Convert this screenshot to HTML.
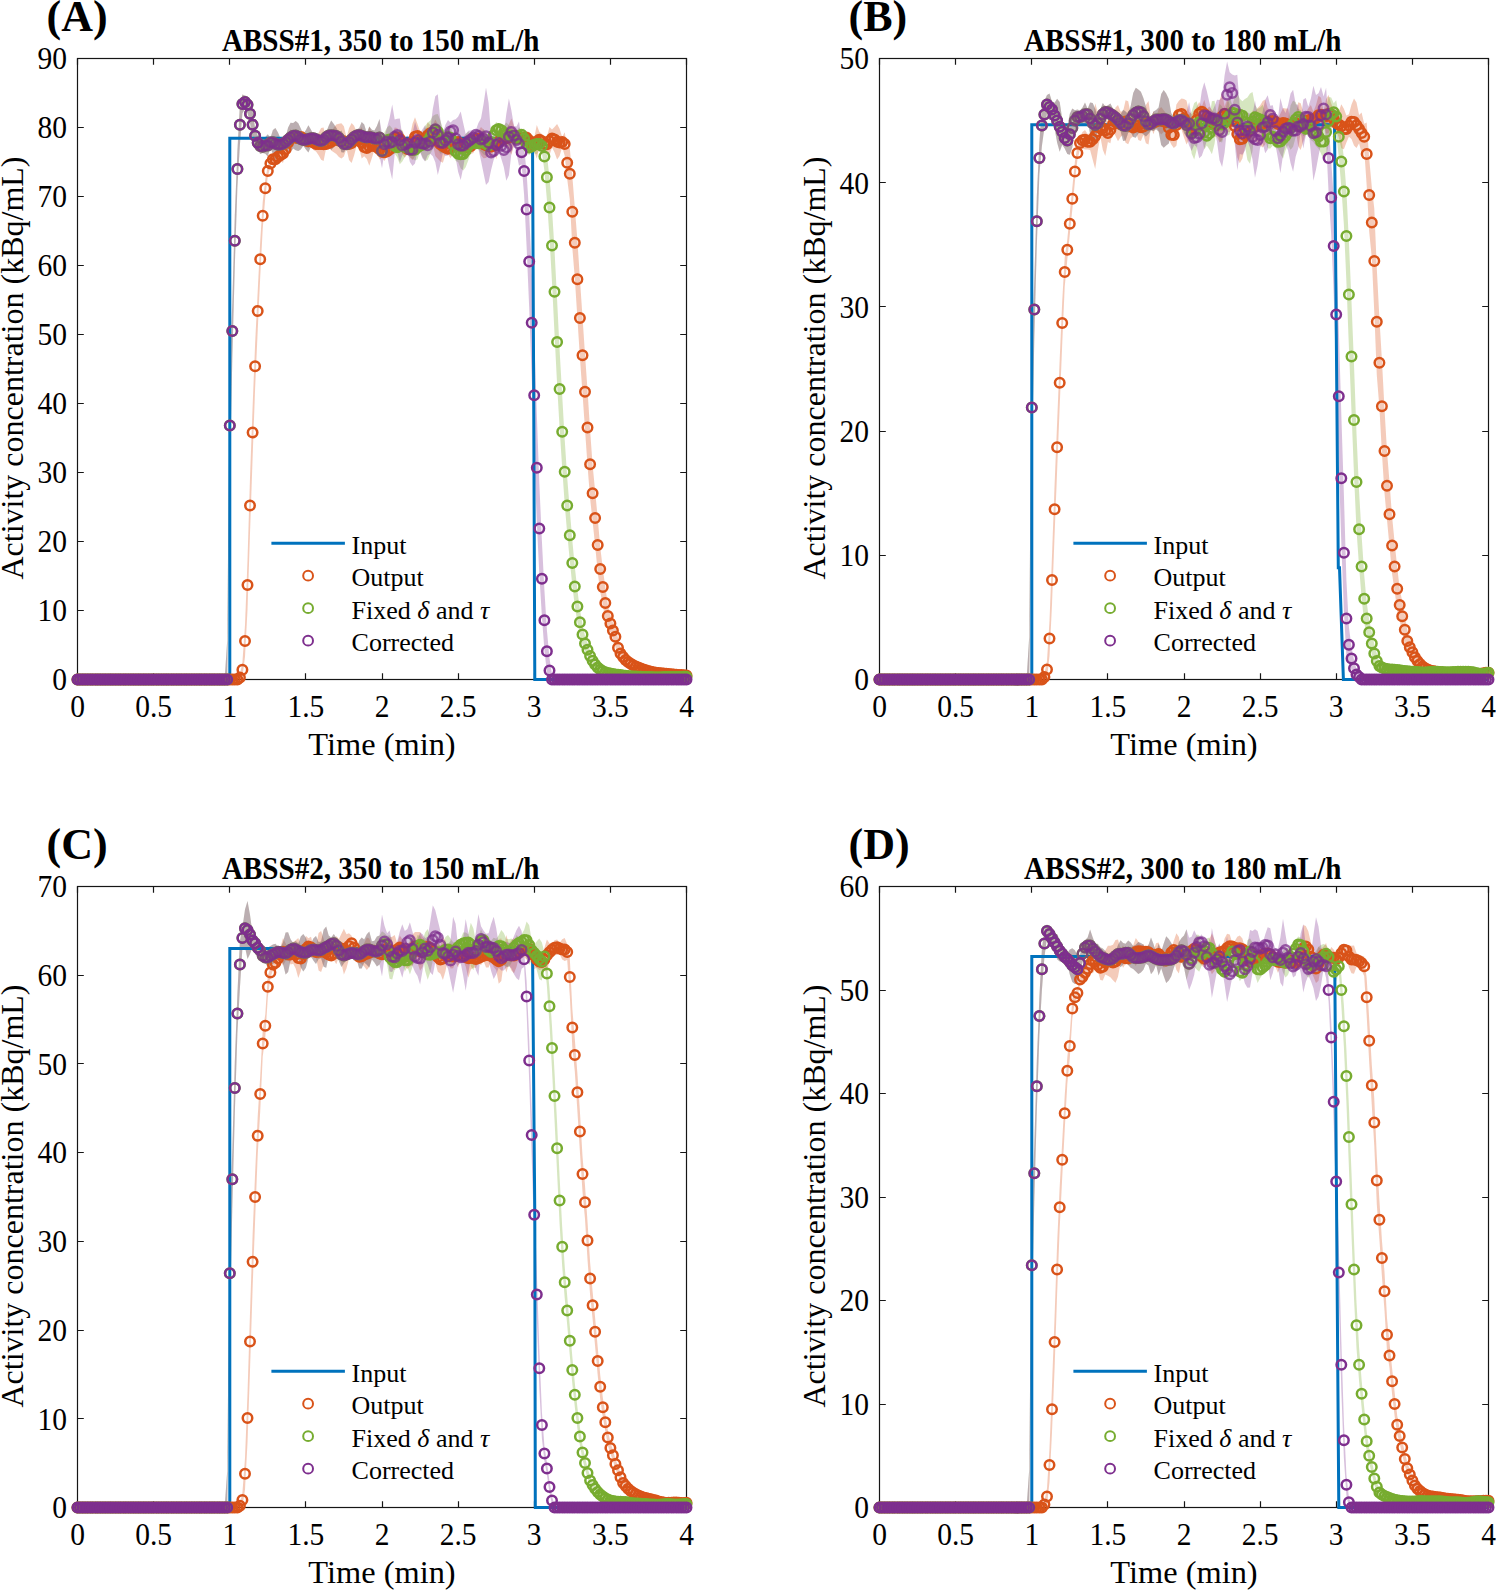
<!DOCTYPE html>
<html><head><meta charset="utf-8"><title>Figure</title>
<style>html,body{margin:0;padding:0;background:#fff;}svg{display:block;}</style>
</head><body>
<svg width="1496" height="1591" viewBox="0 0 1496 1591">
<rect width="1496" height="1591" fill="#fff"/>
<rect x="77.5" y="58.5" width="609" height="621" fill="none" stroke="#161616" stroke-width="1.2"/>
<path d="M77.5,679.5v-6.3M77.5,58.5v6.3M153.5,679.5v-6.3M153.5,58.5v6.3M229.5,679.5v-6.3M229.5,58.5v6.3M305.5,679.5v-6.3M305.5,58.5v6.3M382.5,679.5v-6.3M382.5,58.5v6.3M458.5,679.5v-6.3M458.5,58.5v6.3M534.5,679.5v-6.3M534.5,58.5v6.3M610.5,679.5v-6.3M610.5,58.5v6.3M686.5,679.5v-6.3M686.5,58.5v6.3M77.5,679.5h6.3M686.5,679.5h-6.3M77.5,610.5h6.3M686.5,610.5h-6.3M77.5,541.5h6.3M686.5,541.5h-6.3M77.5,472.5h6.3M686.5,472.5h-6.3M77.5,403.5h6.3M686.5,403.5h-6.3M77.5,334.5h6.3M686.5,334.5h-6.3M77.5,265.5h6.3M686.5,265.5h-6.3M77.5,196.5h6.3M686.5,196.5h-6.3M77.5,127.5h6.3M686.5,127.5h-6.3M77.5,58.5h6.3M686.5,58.5h-6.3" stroke="#161616" stroke-width="1.2" fill="none"/>
<g>
<polygon points="77.5,678.5 80,678.5 82.6,678.5 85.1,678.5 87.7,678.5 90.2,678.5 92.7,678.5 95.3,678.5 97.8,678.5 100.3,678.5 102.9,678.5 105.4,678.5 108,678.5 110.5,678.5 113,678.5 115.6,678.5 118.1,678.5 120.6,678.5 123.2,678.5 125.7,678.5 128.2,678.5 130.8,678.5 133.3,678.5 135.9,678.5 138.4,678.5 140.9,678.5 143.5,678.5 146,678.5 148.6,678.5 151.1,678.5 153.6,678.5 156.2,678.5 158.7,678.5 161.2,678.5 163.8,678.5 166.3,678.5 168.8,678.5 171.4,678.5 173.9,678.5 176.5,678.5 179,678.5 181.5,678.5 184.1,678.5 186.6,678.5 189.1,678.5 191.7,678.5 194.2,678.5 196.8,678.5 199.3,678.5 201.8,678.5 204.4,678.5 206.9,678.5 209.5,678.5 212,678.5 214.5,678.5 217.1,678.5 219.6,678.5 222.1,678.5 224.7,678.5 227.2,678.5 229.8,678.5 232.3,678.5 234.8,678.5 237.4,678.1 239.9,674.7 242.4,662.4 245,625 247.5,560.3 250,477.9 252.6,407.1 255.1,344 257.7,291.3 260.2,241.6 262.7,202.3 265.3,179.3 267.8,165.6 270.4,160.3 272.9,157.5 275.4,151.1 278,152.6 280.5,148.8 283,143.9 285.6,144.5 288.1,136.5 290.6,129.1 293.2,133.7 295.7,132.6 298.3,132.6 300.8,133.5 303.3,131.1 305.9,134.1 308.4,134.6 311,137.5 313.5,135 316,136.5 318.6,132.8 321.1,128.1 323.6,127.6 326.2,140 328.7,139.6 331.2,132.8 333.8,127.4 336.3,124.6 338.9,123.8 341.4,123.3 343.9,126.3 346.5,137.5 349,128.3 351.6,122.9 354.1,125.7 356.6,131.9 359.2,130.2 361.7,126.9 364.2,137.6 366.8,136.8 369.3,126.5 371.9,133.1 374.4,142.6 376.9,142.2 379.5,139.1 382,146 384.5,143.3 387.1,146.2 389.6,142.1 392.2,134.5 394.7,127.4 397.2,127.9 399.8,132 402.3,130.6 404.8,136.2 407.4,143.7 409.9,136.4 412.5,123.7 415,117.3 417.5,123.9 420.1,131.5 422.6,137.7 425.1,130.6 427.7,122.5 430.2,125 432.8,125.3 435.3,119.6 437.8,124.3 440.4,127 442.9,129.3 445.4,140.5 448,143.2 450.5,138.2 453.1,136.8 455.6,136.3 458.1,137.5 460.7,138.4 463.2,141.1 465.7,140.8 468.3,137.4 470.8,137.8 473.4,132.6 475.9,132 478.4,130.7 481,126.9 483.5,129.6 486,132.6 488.6,136.2 491.1,135.9 493.7,141.2 496.2,128.5 498.7,133.1 501.3,130.4 503.8,131.4 506.3,129.3 508.9,124.2 511.4,118.6 514,126 516.5,132.2 519,132.5 521.6,130.2 524.1,131.5 526.6,131 529.2,131.9 531.7,134.4 534.2,137.7 536.8,125 539.3,131.8 541.9,133.9 544.4,136 546.9,136.7 549.5,127.1 552,129.6 554.5,127 557.1,124 559.6,128.7 562.2,137 564.7,132.3 567.2,146.5 569.8,147.9 572.3,175.8 574.8,207.5 577.4,240.3 579.9,278.6 582.5,316.9 585,354.2 587.5,390 590.1,430.1 592.6,464.9 595.1,490.8 597.7,518 600.2,546.7 602.8,568.8 605.3,587 607.8,604.3 610.4,615 612.9,622.6 615.4,626.7 618,638 620.5,647.5 623.1,652.5 625.6,656 628.1,658.7 630.7,660.8 633.2,662.5 635.8,663.9 638.3,665.1 640.8,666.1 643.4,667.1 645.9,668.1 648.4,668.9 651,669.7 653.5,670.3 656,670.9 658.6,671.4 661.1,671.7 663.7,672 666.2,672.1 668.7,672.3 671.3,672.6 673.8,672.9 676.4,673.3 678.9,673.5 681.4,673.6 684,673.7 686.5,674 686.5,677.2 684,676.9 681.4,676.7 678.9,676.5 676.4,676.4 673.8,676.3 671.3,676 668.7,675.6 666.2,675.3 663.7,675.1 661.1,674.9 658.6,674.8 656,674.5 653.5,674.1 651,673.7 648.4,673.1 645.9,672.5 643.4,671.7 640.8,670.8 638.3,669.9 635.8,668.9 633.2,667.9 630.7,666.7 628.1,665.4 625.6,663.7 623.1,661.6 620.5,659.5 618,657.5 615.4,646.7 612.9,638.4 610.4,632.2 607.8,627.8 605.3,618.8 602.8,605.3 600.2,591.5 597.7,571.9 595.1,545.3 592.6,521.5 590.1,498.4 587.5,465.3 585,429.4 582.5,393.5 579.9,357.3 577.4,318.3 574.8,277.9 572.3,247.6 569.8,199.6 567.2,178.9 564.7,155.8 562.2,147 559.6,156 557.1,159.4 554.5,152.2 552,147.6 549.5,155 546.9,151.7 544.4,152 541.9,148.6 539.3,147.5 536.8,158.5 534.2,151.5 531.7,153.8 529.2,149.4 526.6,144.6 524.1,144 521.6,146.6 519,142.5 516.5,139.8 514,145.7 511.4,154.8 508.9,150.4 506.3,146.5 503.8,146.4 501.3,149.4 498.7,149.9 496.2,159.2 493.7,150.4 491.1,157.2 488.6,155.8 486,157.9 483.5,158.2 481,155.3 478.4,146.9 475.9,146.8 473.4,152.9 470.8,154 468.3,156.7 465.7,153.1 463.2,150.8 460.7,149.3 458.1,146.6 455.6,148.5 453.1,153.9 450.5,158.2 448,154.2 445.4,154.3 442.9,162.7 440.4,161.5 437.8,158.8 435.3,156 432.8,143.4 430.2,141.5 427.7,148.8 425.1,149.8 422.6,147.3 420.1,148 417.5,147.9 415,156.2 412.5,160.2 409.9,157.4 407.4,154.1 404.8,157.7 402.3,154.6 399.8,146 397.2,147.3 394.7,151.5 392.2,154.8 389.6,156.4 387.1,156.3 384.5,161.1 382,157.5 379.5,159.5 376.9,151.9 374.4,149.7 371.9,157.9 369.3,165.8 366.8,159 364.2,156.2 361.7,158.6 359.2,148.5 356.6,145.7 354.1,155.4 351.6,162.9 349,159.9 346.5,148.6 343.9,156.4 341.4,158.5 338.9,157 336.3,153.9 333.8,152.3 331.2,150.6 328.7,146.5 326.2,148 323.6,160.9 321.1,159.8 318.6,155.3 316,151.4 313.5,150.1 311,145.2 308.4,148 305.9,146.9 303.3,145.6 300.8,140.8 298.3,143.3 295.7,143 293.2,140.6 290.6,147.5 288.1,149.2 285.6,153.9 283,163 280.5,161.1 278,161 275.4,167.4 272.9,161 270.4,166.5 267.8,176.4 265.3,197.1 262.7,229.3 260.2,277 257.7,330.8 255.1,388.5 252.6,457.9 250,533.3 247.5,609.7 245,656.7 242.4,677.3 239.9,680.2 237.4,680.9 234.8,680.5 232.3,680.5 229.8,680.5 227.2,680.5 224.7,680.5 222.1,680.5 219.6,680.5 217.1,680.5 214.5,680.5 212,680.5 209.5,680.5 206.9,680.5 204.4,680.5 201.8,680.5 199.3,680.5 196.8,680.5 194.2,680.5 191.7,680.5 189.1,680.5 186.6,680.5 184.1,680.5 181.5,680.5 179,680.5 176.5,680.5 173.9,680.5 171.4,680.5 168.8,680.5 166.3,680.5 163.8,680.5 161.2,680.5 158.7,680.5 156.2,680.5 153.6,680.5 151.1,680.5 148.6,680.5 146,680.5 143.5,680.5 140.9,680.5 138.4,680.5 135.9,680.5 133.3,680.5 130.8,680.5 128.2,680.5 125.7,680.5 123.2,680.5 120.6,680.5 118.1,680.5 115.6,680.5 113,680.5 110.5,680.5 108,680.5 105.4,680.5 102.9,680.5 100.3,680.5 97.8,680.5 95.3,680.5 92.7,680.5 90.2,680.5 87.7,680.5 85.1,680.5 82.6,680.5 80,680.5 77.5,680.5" fill="#D95319" fill-opacity="0.3" stroke="none"/>
<polygon points="77.5,678.5 80,678.5 82.6,678.5 85.1,678.5 87.7,678.5 90.2,678.5 92.7,678.5 95.3,678.5 97.8,678.5 100.3,678.5 102.9,678.5 105.4,678.5 108,678.5 110.5,678.5 113,678.5 115.6,678.5 118.1,678.5 120.6,678.5 123.2,678.5 125.7,678.5 128.2,678.5 130.8,678.5 133.3,678.5 135.9,678.5 138.4,678.5 140.9,678.5 143.5,678.5 146,678.5 148.6,678.5 151.1,678.5 153.6,678.5 156.2,678.5 158.7,678.5 161.2,678.5 163.8,678.5 166.3,678.5 168.8,678.5 171.4,678.5 173.9,678.5 176.5,678.5 179,678.5 181.5,678.5 184.1,678.5 186.6,678.5 189.1,678.5 191.7,678.5 194.2,678.5 196.8,678.5 199.3,678.5 201.8,678.5 204.4,678.5 206.9,678.5 209.5,678.5 212,678.5 214.5,678.5 217.1,678.5 219.6,678.5 222.1,678.5 224.7,678.5 227.2,640.4 229.8,372.3 232.3,302.3 234.8,215.3 237.4,150.5 239.9,104.8 242.4,94.5 245,95.6 247.5,96.4 250,104.3 252.6,110.9 255.1,128 257.7,135.6 260.2,138.3 262.7,140.7 265.3,137.1 267.8,134.3 270.4,137.9 272.9,130 275.4,128 278,132.5 280.5,138.6 283,138.9 285.6,137.2 288.1,127.6 290.6,122.7 293.2,123 295.7,120.9 298.3,123.2 300.8,128.5 303.3,134.1 305.9,129.9 308.4,125.3 311,129.8 313.5,134.2 316,135.4 318.6,136.2 321.1,136.4 323.6,131.7 326.2,132.2 328.7,125.7 331.2,120.5 333.8,124 336.3,127.7 338.9,132.6 341.4,130.6 343.9,135.7 346.5,140.4 349,135.6 351.6,133.6 354.1,131.1 356.6,129.4 359.2,127.9 361.7,122.1 364.2,124.5 366.8,132.9 369.3,126.6 371.9,129.7 374.4,130.4 376.9,125.9 379.5,119 382,144.5 384.5,132 387.1,127.5 389.6,125.2 392.2,128.2 394.7,137.6 397.2,137.2 399.8,128.4 402.3,130.6 404.8,136.9 407.4,141.3 409.9,140 412.5,141 415,138.9 417.5,135.2 420.1,139.9 422.6,132.4 425.1,125.8 427.7,122.4 430.2,120.7 432.8,116 435.3,114.4 437.8,113.9 440.4,120.5 442.9,129.2 445.4,130.8 448,127.5 450.5,125.9 453.1,135 455.6,141.4 458.1,145.3 460.7,140 463.2,137.3 465.7,133.9 468.3,131.7 470.8,133.9 473.4,139.1 475.9,138.2 478.4,137.6 481,132.6 483.5,129.1 486,132.4 488.6,140.3 491.1,132.1 493.7,125.2 496.2,122 498.7,124.1 501.3,123.7 503.8,125.6 506.3,122.6 508.9,125 511.4,127.6 514,130.1 516.5,131 519,127.2 521.6,129.5 524.1,128.4 526.6,136.4 529.2,139.7 531.7,140.9 534.2,136.3 536.8,133.9 539.3,137.9 541.9,139.8 544.4,142.2 546.9,154.4 549.5,177.5 552,208.7 554.5,249.6 557.1,299.7 559.6,349.9 562.2,395.6 564.7,439.4 567.2,477.6 569.8,509.9 572.3,540.2 574.8,566.8 577.4,590.1 579.9,609.2 582.5,624.5 585,636.1 587.5,643.5 590.1,650.3 592.6,656.1 595.1,660.5 597.7,664.1 600.2,666.9 602.8,669 605.3,670.5 607.8,671.5 610.4,672.1 612.9,672.6 615.4,673 618,673.4 620.5,673.8 623.1,674.1 625.6,674.5 628.1,674.8 630.7,675 633.2,675.3 635.8,675.5 638.3,675.6 640.8,675.7 643.4,675.8 645.9,675.9 648.4,676 651,676.1 653.5,676.1 656,676.1 658.6,676.1 661.1,676.1 663.7,676 666.2,675.9 668.7,675.9 671.3,675.9 673.8,675.9 676.4,676 678.9,675.9 681.4,675.7 684,675.6 686.5,675.6 686.5,677.8 684,677.9 681.4,678 678.9,678.1 676.4,678.1 673.8,678.1 671.3,678 668.7,678 666.2,678.1 663.7,678.2 661.1,678.2 658.6,678.2 656,678.2 653.5,678.2 651,678.2 648.4,678.2 645.9,678.1 643.4,678 640.8,678 638.3,677.9 635.8,677.8 633.2,677.7 630.7,677.5 628.1,677.3 625.6,677 623.1,676.7 620.5,676.4 618,676.1 615.4,675.7 612.9,675.4 610.4,675 607.8,674.6 605.3,674.1 602.8,673.4 600.2,672.3 597.7,670.6 595.1,668.3 592.6,665.3 590.1,661.6 587.5,656.1 585,651.1 582.5,644.8 579.9,635.3 577.4,622.6 574.8,605.9 572.3,585.6 569.8,560.7 567.2,533.6 564.7,504.2 562.2,468 559.6,428.2 557.1,384.5 554.5,333.8 552,282.3 549.5,237.6 546.9,199.9 544.4,170.7 541.9,152.5 539.3,149.9 536.8,154.2 534.2,153.3 531.7,152 529.2,155.1 526.6,152.9 524.1,148.3 521.6,139.9 519,145.4 516.5,145.4 514,144.1 511.4,143.7 508.9,145.8 506.3,147 503.8,140 501.3,136.8 498.7,133.8 496.2,138.3 493.7,145.1 491.1,151.8 488.6,150.4 486,155.5 483.5,154.4 481,151.6 478.4,149.1 475.9,148.2 473.4,146.1 470.8,152.5 468.3,160.3 465.7,167.3 463.2,170.6 460.7,168.6 458.1,162.1 455.6,161.1 453.1,153.9 450.5,149.8 448,146.6 445.4,149.3 442.9,152.6 440.4,153.8 437.8,149.5 435.3,145 432.8,149 430.2,153.9 427.7,159.8 425.1,161 422.6,157.2 420.1,151.1 417.5,159.2 415,160.5 412.5,159 409.9,157.1 407.4,154.1 404.8,157 402.3,161.5 399.8,164.2 397.2,157.2 394.7,153.8 392.2,153.9 389.6,153.8 387.1,152.9 384.5,154.4 382,157.3 379.5,155.9 376.9,151.7 374.4,146.8 371.9,145.3 369.3,147.6 366.8,141.8 364.2,149.3 361.7,149.5 359.2,142.3 356.6,141.4 354.1,142.9 351.6,145.6 349,149 346.5,148 343.9,152.5 341.4,152.2 338.9,143.2 336.3,144.3 333.8,147.3 331.2,150.1 328.7,145.3 326.2,142.2 323.6,147.6 321.1,145.6 318.6,145 316,143.1 313.5,142.3 311,146.6 308.4,152.5 305.9,149.6 303.3,145.8 300.8,149.5 298.3,151.1 295.7,150.3 293.2,148.4 290.6,152 288.1,152 285.6,147.1 283,148.6 280.5,150.5 278,156.9 275.4,159.7 272.9,154.5 270.4,147 267.8,156.6 265.3,153.8 262.7,153 260.2,154 257.7,149.8 255.1,143.6 252.6,138.6 250,123.1 247.5,113 245,108.4 242.4,113.6 239.9,144.7 237.4,187.3 234.8,266 232.3,359.8 229.8,478.9 227.2,681.6 224.7,680.5 222.1,680.5 219.6,680.5 217.1,680.5 214.5,680.5 212,680.5 209.5,680.5 206.9,680.5 204.4,680.5 201.8,680.5 199.3,680.5 196.8,680.5 194.2,680.5 191.7,680.5 189.1,680.5 186.6,680.5 184.1,680.5 181.5,680.5 179,680.5 176.5,680.5 173.9,680.5 171.4,680.5 168.8,680.5 166.3,680.5 163.8,680.5 161.2,680.5 158.7,680.5 156.2,680.5 153.6,680.5 151.1,680.5 148.6,680.5 146,680.5 143.5,680.5 140.9,680.5 138.4,680.5 135.9,680.5 133.3,680.5 130.8,680.5 128.2,680.5 125.7,680.5 123.2,680.5 120.6,680.5 118.1,680.5 115.6,680.5 113,680.5 110.5,680.5 108,680.5 105.4,680.5 102.9,680.5 100.3,680.5 97.8,680.5 95.3,680.5 92.7,680.5 90.2,680.5 87.7,680.5 85.1,680.5 82.6,680.5 80,680.5 77.5,680.5" fill="#77AC30" fill-opacity="0.3" stroke="none"/>
<polygon points="77.5,678.5 80,678.5 82.6,678.5 85.1,678.5 87.7,678.5 90.2,678.5 92.7,678.5 95.3,678.5 97.8,678.5 100.3,678.5 102.9,678.5 105.4,678.5 108,678.5 110.5,678.5 113,678.5 115.6,678.5 118.1,678.5 120.6,678.5 123.2,678.5 125.7,678.5 128.2,678.5 130.8,678.5 133.3,678.5 135.9,678.5 138.4,678.5 140.9,678.5 143.5,678.5 146,678.5 148.6,678.5 151.1,678.5 153.6,678.5 156.2,678.5 158.7,678.5 161.2,678.5 163.8,678.5 166.3,678.5 168.8,678.5 171.4,678.5 173.9,678.5 176.5,678.5 179,678.5 181.5,678.5 184.1,678.5 186.6,678.5 189.1,678.5 191.7,678.5 194.2,678.5 196.8,678.5 199.3,678.5 201.8,678.5 204.4,678.5 206.9,678.5 209.5,678.5 212,678.5 214.5,678.5 217.1,678.5 219.6,678.5 222.1,678.5 224.7,678.5 227.2,640.4 229.8,372.3 232.3,302.3 234.8,215.3 237.4,150.5 239.9,104.8 242.4,94.5 245,95.6 247.5,96.4 250,104.3 252.6,110.9 255.1,128 257.7,135.6 260.2,138.3 262.7,140.7 265.3,137.1 267.8,134.3 270.4,137.9 272.9,130 275.4,128 278,132.5 280.5,138.6 283,138.9 285.6,137.2 288.1,127.6 290.6,122.7 293.2,123 295.7,120.9 298.3,123.2 300.8,128.5 303.3,134.1 305.9,129.9 308.4,125.3 311,129.8 313.5,134.2 316,135.4 318.6,136.2 321.1,136.4 323.6,131.7 326.2,132.2 328.7,125.7 331.2,120.5 333.8,124 336.3,127.7 338.9,132.6 341.4,130.6 343.9,135.7 346.5,140.4 349,135.6 351.6,133.6 354.1,131.1 356.6,129.4 359.2,127.9 361.7,122.1 364.2,124.5 366.8,132.9 369.3,126.6 371.9,129.7 374.4,130.4 376.9,125.9 379.5,119 382,133.7 384.5,136.8 387.1,127.2 389.6,117.9 392.2,104.5 394.7,119.6 397.2,118.8 399.8,118.4 402.3,136 404.8,138.3 407.4,135.5 409.9,137.4 412.5,133.6 415,122.1 417.5,129.6 420.1,133.3 422.6,128.9 425.1,125.3 427.7,135.3 430.2,129.7 432.8,109.1 435.3,96.3 437.8,94.3 440.4,120.3 442.9,133.2 445.4,124.8 448,120.1 450.5,122.4 453.1,119.9 455.6,119.2 458.1,116.8 460.7,111.4 463.2,123 465.7,133.9 468.3,130.7 470.8,130.6 473.4,130.5 475.9,129.9 478.4,123.1 481,118.4 483.5,104.3 486,87.4 488.6,102.9 491.1,135.3 493.7,142.5 496.2,136.1 498.7,135 501.3,132.8 503.8,132.9 506.3,113.9 508.9,98.4 511.4,110.5 514,126.1 516.5,126.6 519,121.5 521.6,140.4 524.1,147 526.6,172.4 529.2,215.1 531.7,268.2 534.2,336.2 536.8,413.4 539.3,482.9 541.9,541 544.4,590.1 546.9,630 549.5,658.2 552,674.9 554.5,678.5 557.1,678.5 559.6,678.5 562.2,678.5 564.7,678.5 567.2,678.5 569.8,678.5 572.3,678.5 574.8,678.5 577.4,678.5 579.9,678.5 582.5,678.5 585,678.5 587.5,678.5 590.1,678.5 592.6,678.5 595.1,678.5 597.7,678.5 600.2,678.5 602.8,678.5 605.3,678.5 607.8,678.5 610.4,678.5 612.9,678.5 615.4,678.5 618,678.5 620.5,678.5 623.1,678.5 625.6,678.5 628.1,678.5 630.7,678.5 633.2,678.5 635.8,678.5 638.3,678.5 640.8,678.5 643.4,678.5 645.9,678.5 648.4,678.5 651,678.5 653.5,678.5 656,678.5 658.6,678.5 661.1,678.5 663.7,678.5 666.2,678.5 668.7,678.5 671.3,678.5 673.8,678.5 676.4,678.5 678.9,678.5 681.4,678.5 684,678.5 686.5,678.5 686.5,680.5 684,680.5 681.4,680.5 678.9,680.5 676.4,680.5 673.8,680.5 671.3,680.5 668.7,680.5 666.2,680.5 663.7,680.5 661.1,680.5 658.6,680.5 656,680.5 653.5,680.5 651,680.5 648.4,680.5 645.9,680.5 643.4,680.5 640.8,680.5 638.3,680.5 635.8,680.5 633.2,680.5 630.7,680.5 628.1,680.5 625.6,680.5 623.1,680.5 620.5,680.5 618,680.5 615.4,680.5 612.9,680.5 610.4,680.5 607.8,680.5 605.3,680.5 602.8,680.5 600.2,680.5 597.7,680.5 595.1,680.5 592.6,680.5 590.1,680.5 587.5,680.5 585,680.5 582.5,680.5 579.9,680.5 577.4,680.5 574.8,680.5 572.3,680.5 569.8,680.5 567.2,680.5 564.7,680.5 562.2,680.5 559.6,680.5 557.1,680.5 554.5,680.5 552,681.6 549.5,681.6 546.9,672.4 544.4,650.2 541.9,616.5 539.3,573.9 536.8,522 534.2,454.2 531.7,377.3 529.2,307.7 526.6,246.8 524.1,194.9 521.6,164.3 519,165.8 516.5,153.5 514,144.8 511.4,153.2 508.9,175.3 506.3,180.7 503.8,166.9 501.3,158.8 498.7,150.9 496.2,154.2 493.7,159.7 491.1,170 488.6,182 486,184.9 483.5,173.1 481,160.7 478.4,148.9 475.9,139.6 473.4,144.5 470.8,148.4 468.3,151.8 465.7,152.6 463.2,167.8 460.7,179.9 458.1,171.7 455.6,157.8 453.1,140.6 450.5,140.8 448,155.6 445.4,156.1 442.9,153 440.4,164.4 437.8,175 435.3,162.2 432.8,156.2 430.2,153.8 427.7,155.2 425.1,161.6 422.6,158.6 420.1,152.6 417.5,150.7 415,163.5 412.5,166.1 409.9,161.9 407.4,151.7 404.8,150.2 402.3,155.2 399.8,162.2 397.2,151.2 394.7,153.9 392.2,179.6 389.6,168.3 387.1,155.8 384.5,151.8 382,168.2 379.5,155.9 376.9,151.7 374.4,146.8 371.9,145.3 369.3,147.6 366.8,141.8 364.2,149.3 361.7,149.5 359.2,142.3 356.6,141.4 354.1,142.9 351.6,145.6 349,149 346.5,148 343.9,152.5 341.4,152.2 338.9,143.2 336.3,144.3 333.8,147.3 331.2,150.1 328.7,145.3 326.2,142.2 323.6,147.6 321.1,145.6 318.6,145 316,143.1 313.5,142.3 311,146.6 308.4,152.5 305.9,149.6 303.3,145.8 300.8,149.5 298.3,151.1 295.7,150.3 293.2,148.4 290.6,152 288.1,152 285.6,147.1 283,148.6 280.5,150.5 278,156.9 275.4,159.7 272.9,154.5 270.4,147 267.8,156.6 265.3,153.8 262.7,153 260.2,154 257.7,149.8 255.1,143.6 252.6,138.6 250,123.1 247.5,113 245,108.4 242.4,113.6 239.9,144.7 237.4,187.3 234.8,266 232.3,359.8 229.8,478.9 227.2,681.6 224.7,680.5 222.1,680.5 219.6,680.5 217.1,680.5 214.5,680.5 212,680.5 209.5,680.5 206.9,680.5 204.4,680.5 201.8,680.5 199.3,680.5 196.8,680.5 194.2,680.5 191.7,680.5 189.1,680.5 186.6,680.5 184.1,680.5 181.5,680.5 179,680.5 176.5,680.5 173.9,680.5 171.4,680.5 168.8,680.5 166.3,680.5 163.8,680.5 161.2,680.5 158.7,680.5 156.2,680.5 153.6,680.5 151.1,680.5 148.6,680.5 146,680.5 143.5,680.5 140.9,680.5 138.4,680.5 135.9,680.5 133.3,680.5 130.8,680.5 128.2,680.5 125.7,680.5 123.2,680.5 120.6,680.5 118.1,680.5 115.6,680.5 113,680.5 110.5,680.5 108,680.5 105.4,680.5 102.9,680.5 100.3,680.5 97.8,680.5 95.3,680.5 92.7,680.5 90.2,680.5 87.7,680.5 85.1,680.5 82.6,680.5 80,680.5 77.5,680.5" fill="#7E2F8E" fill-opacity="0.3" stroke="none"/>
</g>
<polyline points="77.5,679.5 229.8,679.5 229.8,138.2 532.5,138.2 533.7,394.5 534.8,679.5 546.9,679.5 686.5,679.5" fill="none" stroke="#0072BD" stroke-width="3" stroke-linejoin="miter"/>
<g fill="none" stroke="#D95319" stroke-width="2.5">
<circle cx="77.5" cy="679.5" r="4.75"/><circle cx="80" cy="679.5" r="4.75"/><circle cx="82.6" cy="679.5" r="4.75"/><circle cx="85.1" cy="679.5" r="4.75"/><circle cx="87.7" cy="679.5" r="4.75"/><circle cx="90.2" cy="679.5" r="4.75"/><circle cx="92.7" cy="679.5" r="4.75"/><circle cx="95.3" cy="679.5" r="4.75"/><circle cx="97.8" cy="679.5" r="4.75"/><circle cx="100.3" cy="679.5" r="4.75"/><circle cx="102.9" cy="679.5" r="4.75"/><circle cx="105.4" cy="679.5" r="4.75"/><circle cx="108" cy="679.5" r="4.75"/><circle cx="110.5" cy="679.5" r="4.75"/><circle cx="113" cy="679.5" r="4.75"/><circle cx="115.6" cy="679.5" r="4.75"/><circle cx="118.1" cy="679.5" r="4.75"/><circle cx="120.6" cy="679.5" r="4.75"/><circle cx="123.2" cy="679.5" r="4.75"/><circle cx="125.7" cy="679.5" r="4.75"/><circle cx="128.2" cy="679.5" r="4.75"/><circle cx="130.8" cy="679.5" r="4.75"/><circle cx="133.3" cy="679.5" r="4.75"/><circle cx="135.9" cy="679.5" r="4.75"/><circle cx="138.4" cy="679.5" r="4.75"/><circle cx="140.9" cy="679.5" r="4.75"/><circle cx="143.5" cy="679.5" r="4.75"/><circle cx="146" cy="679.5" r="4.75"/><circle cx="148.6" cy="679.5" r="4.75"/><circle cx="151.1" cy="679.5" r="4.75"/><circle cx="153.6" cy="679.5" r="4.75"/><circle cx="156.2" cy="679.5" r="4.75"/><circle cx="158.7" cy="679.5" r="4.75"/><circle cx="161.2" cy="679.5" r="4.75"/><circle cx="163.8" cy="679.5" r="4.75"/><circle cx="166.3" cy="679.5" r="4.75"/><circle cx="168.8" cy="679.5" r="4.75"/><circle cx="171.4" cy="679.5" r="4.75"/><circle cx="173.9" cy="679.5" r="4.75"/><circle cx="176.5" cy="679.5" r="4.75"/><circle cx="179" cy="679.5" r="4.75"/><circle cx="181.5" cy="679.5" r="4.75"/><circle cx="184.1" cy="679.5" r="4.75"/><circle cx="186.6" cy="679.5" r="4.75"/><circle cx="189.1" cy="679.5" r="4.75"/><circle cx="191.7" cy="679.5" r="4.75"/><circle cx="194.2" cy="679.5" r="4.75"/><circle cx="196.8" cy="679.5" r="4.75"/><circle cx="199.3" cy="679.5" r="4.75"/><circle cx="201.8" cy="679.5" r="4.75"/><circle cx="204.4" cy="679.5" r="4.75"/><circle cx="206.9" cy="679.5" r="4.75"/><circle cx="209.5" cy="679.5" r="4.75"/><circle cx="212" cy="679.5" r="4.75"/><circle cx="214.5" cy="679.5" r="4.75"/><circle cx="217.1" cy="679.5" r="4.75"/><circle cx="219.6" cy="679.5" r="4.75"/><circle cx="222.1" cy="679.5" r="4.75"/><circle cx="224.7" cy="679.5" r="4.75"/><circle cx="227.2" cy="679.5" r="4.75"/><circle cx="229.8" cy="679.5" r="4.75"/><circle cx="232.3" cy="679.5" r="4.75"/><circle cx="234.8" cy="679.5" r="4.75"/><circle cx="237.4" cy="679.5" r="4.75"/><circle cx="239.9" cy="677.4" r="4.75"/><circle cx="242.4" cy="669.8" r="4.75"/><circle cx="245" cy="640.9" r="4.75"/><circle cx="247.5" cy="585" r="4.75"/><circle cx="250" cy="505.6" r="4.75"/><circle cx="252.6" cy="432.5" r="4.75"/><circle cx="255.1" cy="366.2" r="4.75"/><circle cx="257.7" cy="311" r="4.75"/><circle cx="260.2" cy="259.3" r="4.75"/><circle cx="262.7" cy="215.8" r="4.75"/><circle cx="265.3" cy="188.2" r="4.75"/><circle cx="267.8" cy="171" r="4.75"/><circle cx="270.4" cy="163.4" r="4.75"/><circle cx="272.9" cy="159.2" r="4.75"/><circle cx="275.4" cy="159.3" r="4.75"/><circle cx="278" cy="156.8" r="4.75"/><circle cx="280.5" cy="154.9" r="4.75"/><circle cx="283" cy="153.4" r="4.75"/><circle cx="285.6" cy="149.2" r="4.75"/><circle cx="288.1" cy="142.8" r="4.75"/><circle cx="290.6" cy="138.3" r="4.75"/><circle cx="293.2" cy="137.1" r="4.75"/><circle cx="295.7" cy="137.8" r="4.75"/><circle cx="298.3" cy="138" r="4.75"/><circle cx="300.8" cy="137.1" r="4.75"/><circle cx="303.3" cy="138.4" r="4.75"/><circle cx="305.9" cy="140.5" r="4.75"/><circle cx="308.4" cy="141.3" r="4.75"/><circle cx="311" cy="141.3" r="4.75"/><circle cx="313.5" cy="142.5" r="4.75"/><circle cx="316" cy="143.9" r="4.75"/><circle cx="318.6" cy="144" r="4.75"/><circle cx="321.1" cy="143.9" r="4.75"/><circle cx="323.6" cy="144.2" r="4.75"/><circle cx="326.2" cy="144" r="4.75"/><circle cx="328.7" cy="143.1" r="4.75"/><circle cx="331.2" cy="141.7" r="4.75"/><circle cx="333.8" cy="139.8" r="4.75"/><circle cx="336.3" cy="139.2" r="4.75"/><circle cx="338.9" cy="140.4" r="4.75"/><circle cx="341.4" cy="140.9" r="4.75"/><circle cx="343.9" cy="141.3" r="4.75"/><circle cx="346.5" cy="143.1" r="4.75"/><circle cx="349" cy="144.1" r="4.75"/><circle cx="351.6" cy="142.9" r="4.75"/><circle cx="354.1" cy="140.5" r="4.75"/><circle cx="356.6" cy="138.8" r="4.75"/><circle cx="359.2" cy="139.4" r="4.75"/><circle cx="361.7" cy="142.8" r="4.75"/><circle cx="364.2" cy="146.9" r="4.75"/><circle cx="366.8" cy="147.9" r="4.75"/><circle cx="369.3" cy="146.2" r="4.75"/><circle cx="371.9" cy="145.5" r="4.75"/><circle cx="374.4" cy="146.1" r="4.75"/><circle cx="376.9" cy="147.1" r="4.75"/><circle cx="379.5" cy="149.3" r="4.75"/><circle cx="382" cy="151.8" r="4.75"/><circle cx="384.5" cy="152.2" r="4.75"/><circle cx="387.1" cy="151.3" r="4.75"/><circle cx="389.6" cy="149.2" r="4.75"/><circle cx="392.2" cy="144.7" r="4.75"/><circle cx="394.7" cy="139.5" r="4.75"/><circle cx="397.2" cy="137.6" r="4.75"/><circle cx="399.8" cy="139" r="4.75"/><circle cx="402.3" cy="142.6" r="4.75"/><circle cx="404.8" cy="147" r="4.75"/><circle cx="407.4" cy="148.9" r="4.75"/><circle cx="409.9" cy="146.9" r="4.75"/><circle cx="412.5" cy="142" r="4.75"/><circle cx="415" cy="136.7" r="4.75"/><circle cx="417.5" cy="135.9" r="4.75"/><circle cx="420.1" cy="139.8" r="4.75"/><circle cx="422.6" cy="142.5" r="4.75"/><circle cx="425.1" cy="140.2" r="4.75"/><circle cx="427.7" cy="135.6" r="4.75"/><circle cx="430.2" cy="133.2" r="4.75"/><circle cx="432.8" cy="134.3" r="4.75"/><circle cx="435.3" cy="137.8" r="4.75"/><circle cx="437.8" cy="141.5" r="4.75"/><circle cx="440.4" cy="144.3" r="4.75"/><circle cx="442.9" cy="146" r="4.75"/><circle cx="445.4" cy="147.4" r="4.75"/><circle cx="448" cy="148.7" r="4.75"/><circle cx="450.5" cy="148.2" r="4.75"/><circle cx="453.1" cy="145.3" r="4.75"/><circle cx="455.6" cy="142.4" r="4.75"/><circle cx="458.1" cy="142" r="4.75"/><circle cx="460.7" cy="143.9" r="4.75"/><circle cx="463.2" cy="145.9" r="4.75"/><circle cx="465.7" cy="146.9" r="4.75"/><circle cx="468.3" cy="147.1" r="4.75"/><circle cx="470.8" cy="145.9" r="4.75"/><circle cx="473.4" cy="142.7" r="4.75"/><circle cx="475.9" cy="139.4" r="4.75"/><circle cx="478.4" cy="138.8" r="4.75"/><circle cx="481" cy="141.1" r="4.75"/><circle cx="483.5" cy="143.9" r="4.75"/><circle cx="486" cy="145.2" r="4.75"/><circle cx="488.6" cy="146" r="4.75"/><circle cx="491.1" cy="146.5" r="4.75"/><circle cx="493.7" cy="145.8" r="4.75"/><circle cx="496.2" cy="143.8" r="4.75"/><circle cx="498.7" cy="141.5" r="4.75"/><circle cx="501.3" cy="139.9" r="4.75"/><circle cx="503.8" cy="138.9" r="4.75"/><circle cx="506.3" cy="137.9" r="4.75"/><circle cx="508.9" cy="137.3" r="4.75"/><circle cx="511.4" cy="136.7" r="4.75"/><circle cx="514" cy="135.9" r="4.75"/><circle cx="516.5" cy="136" r="4.75"/><circle cx="519" cy="137.5" r="4.75"/><circle cx="521.6" cy="138.4" r="4.75"/><circle cx="524.1" cy="137.7" r="4.75"/><circle cx="526.6" cy="137.8" r="4.75"/><circle cx="529.2" cy="140.6" r="4.75"/><circle cx="531.7" cy="144.1" r="4.75"/><circle cx="534.2" cy="144.6" r="4.75"/><circle cx="536.8" cy="141.8" r="4.75"/><circle cx="539.3" cy="139.7" r="4.75"/><circle cx="541.9" cy="141.2" r="4.75"/><circle cx="544.4" cy="144" r="4.75"/><circle cx="546.9" cy="144.2" r="4.75"/><circle cx="549.5" cy="141.1" r="4.75"/><circle cx="552" cy="138.6" r="4.75"/><circle cx="554.5" cy="139.6" r="4.75"/><circle cx="557.1" cy="141.7" r="4.75"/><circle cx="559.6" cy="142.4" r="4.75"/><circle cx="562.2" cy="142" r="4.75"/><circle cx="564.7" cy="144.1" r="4.75"/><circle cx="567.2" cy="162.7" r="4.75"/><circle cx="569.8" cy="173.7" r="4.75"/><circle cx="572.3" cy="211.7" r="4.75"/><circle cx="574.8" cy="242.7" r="4.75"/><circle cx="577.4" cy="279.3" r="4.75"/><circle cx="579.9" cy="317.9" r="4.75"/><circle cx="582.5" cy="355.2" r="4.75"/><circle cx="585" cy="391.8" r="4.75"/><circle cx="587.5" cy="427.6" r="4.75"/><circle cx="590.1" cy="464.2" r="4.75"/><circle cx="592.6" cy="493.2" r="4.75"/><circle cx="595.1" cy="518" r="4.75"/><circle cx="597.7" cy="545" r="4.75"/><circle cx="600.2" cy="569.1" r="4.75"/><circle cx="602.8" cy="587" r="4.75"/><circle cx="605.3" cy="602.9" r="4.75"/><circle cx="607.8" cy="616" r="4.75"/><circle cx="610.4" cy="623.6" r="4.75"/><circle cx="612.9" cy="630.5" r="4.75"/><circle cx="615.4" cy="636.7" r="4.75"/><circle cx="618" cy="647.8" r="4.75"/><circle cx="620.5" cy="653.5" r="4.75"/><circle cx="623.1" cy="657.1" r="4.75"/><circle cx="625.6" cy="659.9" r="4.75"/><circle cx="628.1" cy="662" r="4.75"/><circle cx="630.7" cy="663.8" r="4.75"/><circle cx="633.2" cy="665.2" r="4.75"/><circle cx="635.8" cy="666.4" r="4.75"/><circle cx="638.3" cy="667.5" r="4.75"/><circle cx="640.8" cy="668.4" r="4.75"/><circle cx="643.4" cy="669.4" r="4.75"/><circle cx="645.9" cy="670.3" r="4.75"/><circle cx="648.4" cy="671" r="4.75"/><circle cx="651" cy="671.7" r="4.75"/><circle cx="653.5" cy="672.2" r="4.75"/><circle cx="656" cy="672.7" r="4.75"/><circle cx="658.6" cy="673.1" r="4.75"/><circle cx="661.1" cy="673.3" r="4.75"/><circle cx="663.7" cy="673.5" r="4.75"/><circle cx="666.2" cy="673.7" r="4.75"/><circle cx="668.7" cy="673.9" r="4.75"/><circle cx="671.3" cy="674.3" r="4.75"/><circle cx="673.8" cy="674.6" r="4.75"/><circle cx="676.4" cy="674.8" r="4.75"/><circle cx="678.9" cy="675" r="4.75"/><circle cx="681.4" cy="675.1" r="4.75"/><circle cx="684" cy="675.3" r="4.75"/><circle cx="686.5" cy="675.6" r="4.75"/>
</g>
<g fill="none" stroke="#77AC30" stroke-width="2.5">
<circle cx="77.5" cy="679.5" r="4.75"/><circle cx="80" cy="679.5" r="4.75"/><circle cx="82.6" cy="679.5" r="4.75"/><circle cx="85.1" cy="679.5" r="4.75"/><circle cx="87.7" cy="679.5" r="4.75"/><circle cx="90.2" cy="679.5" r="4.75"/><circle cx="92.7" cy="679.5" r="4.75"/><circle cx="95.3" cy="679.5" r="4.75"/><circle cx="97.8" cy="679.5" r="4.75"/><circle cx="100.3" cy="679.5" r="4.75"/><circle cx="102.9" cy="679.5" r="4.75"/><circle cx="105.4" cy="679.5" r="4.75"/><circle cx="108" cy="679.5" r="4.75"/><circle cx="110.5" cy="679.5" r="4.75"/><circle cx="113" cy="679.5" r="4.75"/><circle cx="115.6" cy="679.5" r="4.75"/><circle cx="118.1" cy="679.5" r="4.75"/><circle cx="120.6" cy="679.5" r="4.75"/><circle cx="123.2" cy="679.5" r="4.75"/><circle cx="125.7" cy="679.5" r="4.75"/><circle cx="128.2" cy="679.5" r="4.75"/><circle cx="130.8" cy="679.5" r="4.75"/><circle cx="133.3" cy="679.5" r="4.75"/><circle cx="135.9" cy="679.5" r="4.75"/><circle cx="138.4" cy="679.5" r="4.75"/><circle cx="140.9" cy="679.5" r="4.75"/><circle cx="143.5" cy="679.5" r="4.75"/><circle cx="146" cy="679.5" r="4.75"/><circle cx="148.6" cy="679.5" r="4.75"/><circle cx="151.1" cy="679.5" r="4.75"/><circle cx="153.6" cy="679.5" r="4.75"/><circle cx="156.2" cy="679.5" r="4.75"/><circle cx="158.7" cy="679.5" r="4.75"/><circle cx="161.2" cy="679.5" r="4.75"/><circle cx="163.8" cy="679.5" r="4.75"/><circle cx="166.3" cy="679.5" r="4.75"/><circle cx="168.8" cy="679.5" r="4.75"/><circle cx="171.4" cy="679.5" r="4.75"/><circle cx="173.9" cy="679.5" r="4.75"/><circle cx="176.5" cy="679.5" r="4.75"/><circle cx="179" cy="679.5" r="4.75"/><circle cx="181.5" cy="679.5" r="4.75"/><circle cx="184.1" cy="679.5" r="4.75"/><circle cx="186.6" cy="679.5" r="4.75"/><circle cx="189.1" cy="679.5" r="4.75"/><circle cx="191.7" cy="679.5" r="4.75"/><circle cx="194.2" cy="679.5" r="4.75"/><circle cx="196.8" cy="679.5" r="4.75"/><circle cx="199.3" cy="679.5" r="4.75"/><circle cx="201.8" cy="679.5" r="4.75"/><circle cx="204.4" cy="679.5" r="4.75"/><circle cx="206.9" cy="679.5" r="4.75"/><circle cx="209.5" cy="679.5" r="4.75"/><circle cx="212" cy="679.5" r="4.75"/><circle cx="214.5" cy="679.5" r="4.75"/><circle cx="217.1" cy="679.5" r="4.75"/><circle cx="219.6" cy="679.5" r="4.75"/><circle cx="222.1" cy="679.5" r="4.75"/><circle cx="224.7" cy="679.5" r="4.75"/><circle cx="227.2" cy="679.5" r="4.75"/><circle cx="229.8" cy="425.6" r="4.75"/><circle cx="232.3" cy="331.1" r="4.75"/><circle cx="234.8" cy="240.7" r="4.75"/><circle cx="237.4" cy="168.9" r="4.75"/><circle cx="239.9" cy="124.7" r="4.75"/><circle cx="242.4" cy="104" r="4.75"/><circle cx="245" cy="102" r="4.75"/><circle cx="247.5" cy="104.7" r="4.75"/><circle cx="250" cy="113.7" r="4.75"/><circle cx="252.6" cy="124.7" r="4.75"/><circle cx="255.1" cy="135.8" r="4.75"/><circle cx="257.7" cy="142.7" r="4.75"/><circle cx="260.2" cy="146.1" r="4.75"/><circle cx="262.7" cy="146.8" r="4.75"/><circle cx="265.3" cy="145.4" r="4.75"/><circle cx="267.8" cy="145.4" r="4.75"/><circle cx="270.4" cy="142.4" r="4.75"/><circle cx="272.9" cy="142.2" r="4.75"/><circle cx="275.4" cy="143.8" r="4.75"/><circle cx="278" cy="144.7" r="4.75"/><circle cx="280.5" cy="144.6" r="4.75"/><circle cx="283" cy="143.7" r="4.75"/><circle cx="285.6" cy="142.1" r="4.75"/><circle cx="288.1" cy="139.8" r="4.75"/><circle cx="290.6" cy="137.4" r="4.75"/><circle cx="293.2" cy="135.7" r="4.75"/><circle cx="295.7" cy="135.6" r="4.75"/><circle cx="298.3" cy="137.1" r="4.75"/><circle cx="300.8" cy="139" r="4.75"/><circle cx="303.3" cy="140" r="4.75"/><circle cx="305.9" cy="139.7" r="4.75"/><circle cx="308.4" cy="138.9" r="4.75"/><circle cx="311" cy="138.2" r="4.75"/><circle cx="313.5" cy="138.2" r="4.75"/><circle cx="316" cy="139.2" r="4.75"/><circle cx="318.6" cy="140.6" r="4.75"/><circle cx="321.1" cy="141" r="4.75"/><circle cx="323.6" cy="139.7" r="4.75"/><circle cx="326.2" cy="137.2" r="4.75"/><circle cx="328.7" cy="135.5" r="4.75"/><circle cx="331.2" cy="135.3" r="4.75"/><circle cx="333.8" cy="135.6" r="4.75"/><circle cx="336.3" cy="136" r="4.75"/><circle cx="338.9" cy="137.9" r="4.75"/><circle cx="341.4" cy="141.4" r="4.75"/><circle cx="343.9" cy="144.1" r="4.75"/><circle cx="346.5" cy="144.2" r="4.75"/><circle cx="349" cy="142.3" r="4.75"/><circle cx="351.6" cy="139.6" r="4.75"/><circle cx="354.1" cy="137" r="4.75"/><circle cx="356.6" cy="135.4" r="4.75"/><circle cx="359.2" cy="135.1" r="4.75"/><circle cx="361.7" cy="135.8" r="4.75"/><circle cx="364.2" cy="136.9" r="4.75"/><circle cx="366.8" cy="137.4" r="4.75"/><circle cx="369.3" cy="137.1" r="4.75"/><circle cx="371.9" cy="137.5" r="4.75"/><circle cx="374.4" cy="138.6" r="4.75"/><circle cx="376.9" cy="138.8" r="4.75"/><circle cx="379.5" cy="137.5" r="4.75"/><circle cx="382" cy="150.9" r="4.75"/><circle cx="384.5" cy="143.2" r="4.75"/><circle cx="387.1" cy="140.2" r="4.75"/><circle cx="389.6" cy="139.5" r="4.75"/><circle cx="392.2" cy="141.1" r="4.75"/><circle cx="394.7" cy="145.7" r="4.75"/><circle cx="397.2" cy="147.2" r="4.75"/><circle cx="399.8" cy="146.3" r="4.75"/><circle cx="402.3" cy="146.1" r="4.75"/><circle cx="404.8" cy="147" r="4.75"/><circle cx="407.4" cy="147.7" r="4.75"/><circle cx="409.9" cy="148.5" r="4.75"/><circle cx="412.5" cy="150" r="4.75"/><circle cx="415" cy="149.7" r="4.75"/><circle cx="417.5" cy="147.2" r="4.75"/><circle cx="420.1" cy="145.5" r="4.75"/><circle cx="422.6" cy="144.8" r="4.75"/><circle cx="425.1" cy="143.4" r="4.75"/><circle cx="427.7" cy="141.1" r="4.75"/><circle cx="430.2" cy="137.3" r="4.75"/><circle cx="432.8" cy="132.5" r="4.75"/><circle cx="435.3" cy="129.7" r="4.75"/><circle cx="437.8" cy="131.7" r="4.75"/><circle cx="440.4" cy="137.1" r="4.75"/><circle cx="442.9" cy="140.9" r="4.75"/><circle cx="445.4" cy="140" r="4.75"/><circle cx="448" cy="137.1" r="4.75"/><circle cx="450.5" cy="137.8" r="4.75"/><circle cx="453.1" cy="144.5" r="4.75"/><circle cx="455.6" cy="151.2" r="4.75"/><circle cx="458.1" cy="153.7" r="4.75"/><circle cx="460.7" cy="154.3" r="4.75"/><circle cx="463.2" cy="153.9" r="4.75"/><circle cx="465.7" cy="150.6" r="4.75"/><circle cx="468.3" cy="146" r="4.75"/><circle cx="470.8" cy="143.2" r="4.75"/><circle cx="473.4" cy="142.6" r="4.75"/><circle cx="475.9" cy="143.2" r="4.75"/><circle cx="478.4" cy="143.3" r="4.75"/><circle cx="481" cy="142.1" r="4.75"/><circle cx="483.5" cy="141.7" r="4.75"/><circle cx="486" cy="144" r="4.75"/><circle cx="488.6" cy="145.4" r="4.75"/><circle cx="491.1" cy="141.9" r="4.75"/><circle cx="493.7" cy="135.2" r="4.75"/><circle cx="496.2" cy="130.2" r="4.75"/><circle cx="498.7" cy="128.9" r="4.75"/><circle cx="501.3" cy="130.3" r="4.75"/><circle cx="503.8" cy="132.8" r="4.75"/><circle cx="506.3" cy="134.8" r="4.75"/><circle cx="508.9" cy="135.4" r="4.75"/><circle cx="511.4" cy="135.6" r="4.75"/><circle cx="514" cy="137.1" r="4.75"/><circle cx="516.5" cy="138.2" r="4.75"/><circle cx="519" cy="136.3" r="4.75"/><circle cx="521.6" cy="134.7" r="4.75"/><circle cx="524.1" cy="138.4" r="4.75"/><circle cx="526.6" cy="144.6" r="4.75"/><circle cx="529.2" cy="147.4" r="4.75"/><circle cx="531.7" cy="146.5" r="4.75"/><circle cx="534.2" cy="144.8" r="4.75"/><circle cx="536.8" cy="144.1" r="4.75"/><circle cx="539.3" cy="143.9" r="4.75"/><circle cx="541.9" cy="146.1" r="4.75"/><circle cx="544.4" cy="156.5" r="4.75"/><circle cx="546.9" cy="177.2" r="4.75"/><circle cx="549.5" cy="207.5" r="4.75"/><circle cx="552" cy="245.5" r="4.75"/><circle cx="554.5" cy="291.7" r="4.75"/><circle cx="557.1" cy="342.1" r="4.75"/><circle cx="559.6" cy="389" r="4.75"/><circle cx="562.2" cy="431.8" r="4.75"/><circle cx="564.7" cy="471.8" r="4.75"/><circle cx="567.2" cy="505.6" r="4.75"/><circle cx="569.8" cy="535.3" r="4.75"/><circle cx="572.3" cy="562.9" r="4.75"/><circle cx="574.8" cy="586.4" r="4.75"/><circle cx="577.4" cy="606.4" r="4.75"/><circle cx="579.9" cy="622.2" r="4.75"/><circle cx="582.5" cy="634.6" r="4.75"/><circle cx="585" cy="643.6" r="4.75"/><circle cx="587.5" cy="649.8" r="4.75"/><circle cx="590.1" cy="656" r="4.75"/><circle cx="592.6" cy="660.7" r="4.75"/><circle cx="595.1" cy="664.4" r="4.75"/><circle cx="597.7" cy="667.4" r="4.75"/><circle cx="600.2" cy="669.6" r="4.75"/><circle cx="602.8" cy="671.2" r="4.75"/><circle cx="605.3" cy="672.3" r="4.75"/><circle cx="607.8" cy="673" r="4.75"/><circle cx="610.4" cy="673.5" r="4.75"/><circle cx="612.9" cy="674" r="4.75"/><circle cx="615.4" cy="674.4" r="4.75"/><circle cx="618" cy="674.8" r="4.75"/><circle cx="620.5" cy="675.1" r="4.75"/><circle cx="623.1" cy="675.4" r="4.75"/><circle cx="625.6" cy="675.8" r="4.75"/><circle cx="628.1" cy="676" r="4.75"/><circle cx="630.7" cy="676.3" r="4.75"/><circle cx="633.2" cy="676.5" r="4.75"/><circle cx="635.8" cy="676.6" r="4.75"/><circle cx="638.3" cy="676.8" r="4.75"/><circle cx="640.8" cy="676.8" r="4.75"/><circle cx="643.4" cy="676.9" r="4.75"/><circle cx="645.9" cy="677" r="4.75"/><circle cx="648.4" cy="677.1" r="4.75"/><circle cx="651" cy="677.1" r="4.75"/><circle cx="653.5" cy="677.2" r="4.75"/><circle cx="656" cy="677.2" r="4.75"/><circle cx="658.6" cy="677.2" r="4.75"/><circle cx="661.1" cy="677.2" r="4.75"/><circle cx="663.7" cy="677.1" r="4.75"/><circle cx="666.2" cy="677" r="4.75"/><circle cx="668.7" cy="676.9" r="4.75"/><circle cx="671.3" cy="676.9" r="4.75"/><circle cx="673.8" cy="677" r="4.75"/><circle cx="676.4" cy="677" r="4.75"/><circle cx="678.9" cy="677" r="4.75"/><circle cx="681.4" cy="676.9" r="4.75"/><circle cx="684" cy="676.7" r="4.75"/><circle cx="686.5" cy="676.7" r="4.75"/>
</g>
<g fill="none" stroke="#7E2F8E" stroke-width="2.5">
<circle cx="77.5" cy="679.5" r="4.75"/><circle cx="80" cy="679.5" r="4.75"/><circle cx="82.6" cy="679.5" r="4.75"/><circle cx="85.1" cy="679.5" r="4.75"/><circle cx="87.7" cy="679.5" r="4.75"/><circle cx="90.2" cy="679.5" r="4.75"/><circle cx="92.7" cy="679.5" r="4.75"/><circle cx="95.3" cy="679.5" r="4.75"/><circle cx="97.8" cy="679.5" r="4.75"/><circle cx="100.3" cy="679.5" r="4.75"/><circle cx="102.9" cy="679.5" r="4.75"/><circle cx="105.4" cy="679.5" r="4.75"/><circle cx="108" cy="679.5" r="4.75"/><circle cx="110.5" cy="679.5" r="4.75"/><circle cx="113" cy="679.5" r="4.75"/><circle cx="115.6" cy="679.5" r="4.75"/><circle cx="118.1" cy="679.5" r="4.75"/><circle cx="120.6" cy="679.5" r="4.75"/><circle cx="123.2" cy="679.5" r="4.75"/><circle cx="125.7" cy="679.5" r="4.75"/><circle cx="128.2" cy="679.5" r="4.75"/><circle cx="130.8" cy="679.5" r="4.75"/><circle cx="133.3" cy="679.5" r="4.75"/><circle cx="135.9" cy="679.5" r="4.75"/><circle cx="138.4" cy="679.5" r="4.75"/><circle cx="140.9" cy="679.5" r="4.75"/><circle cx="143.5" cy="679.5" r="4.75"/><circle cx="146" cy="679.5" r="4.75"/><circle cx="148.6" cy="679.5" r="4.75"/><circle cx="151.1" cy="679.5" r="4.75"/><circle cx="153.6" cy="679.5" r="4.75"/><circle cx="156.2" cy="679.5" r="4.75"/><circle cx="158.7" cy="679.5" r="4.75"/><circle cx="161.2" cy="679.5" r="4.75"/><circle cx="163.8" cy="679.5" r="4.75"/><circle cx="166.3" cy="679.5" r="4.75"/><circle cx="168.8" cy="679.5" r="4.75"/><circle cx="171.4" cy="679.5" r="4.75"/><circle cx="173.9" cy="679.5" r="4.75"/><circle cx="176.5" cy="679.5" r="4.75"/><circle cx="179" cy="679.5" r="4.75"/><circle cx="181.5" cy="679.5" r="4.75"/><circle cx="184.1" cy="679.5" r="4.75"/><circle cx="186.6" cy="679.5" r="4.75"/><circle cx="189.1" cy="679.5" r="4.75"/><circle cx="191.7" cy="679.5" r="4.75"/><circle cx="194.2" cy="679.5" r="4.75"/><circle cx="196.8" cy="679.5" r="4.75"/><circle cx="199.3" cy="679.5" r="4.75"/><circle cx="201.8" cy="679.5" r="4.75"/><circle cx="204.4" cy="679.5" r="4.75"/><circle cx="206.9" cy="679.5" r="4.75"/><circle cx="209.5" cy="679.5" r="4.75"/><circle cx="212" cy="679.5" r="4.75"/><circle cx="214.5" cy="679.5" r="4.75"/><circle cx="217.1" cy="679.5" r="4.75"/><circle cx="219.6" cy="679.5" r="4.75"/><circle cx="222.1" cy="679.5" r="4.75"/><circle cx="224.7" cy="679.5" r="4.75"/><circle cx="227.2" cy="679.5" r="4.75"/><circle cx="229.8" cy="425.6" r="4.75"/><circle cx="232.3" cy="331.1" r="4.75"/><circle cx="234.8" cy="240.7" r="4.75"/><circle cx="237.4" cy="168.9" r="4.75"/><circle cx="239.9" cy="124.7" r="4.75"/><circle cx="242.4" cy="104" r="4.75"/><circle cx="245" cy="102" r="4.75"/><circle cx="247.5" cy="104.7" r="4.75"/><circle cx="250" cy="113.7" r="4.75"/><circle cx="252.6" cy="124.7" r="4.75"/><circle cx="255.1" cy="135.8" r="4.75"/><circle cx="257.7" cy="142.7" r="4.75"/><circle cx="260.2" cy="146.1" r="4.75" stroke-opacity="0.75"/><circle cx="262.7" cy="146.8" r="4.75" stroke-opacity="0.75"/><circle cx="265.3" cy="145.4" r="4.75" stroke-opacity="0.75"/><circle cx="267.8" cy="145.4" r="4.75" stroke-opacity="0.75"/><circle cx="270.4" cy="142.4" r="4.75" stroke-opacity="0.75"/><circle cx="272.9" cy="142.2" r="4.75" stroke-opacity="0.75"/><circle cx="275.4" cy="143.8" r="4.75" stroke-opacity="0.75"/><circle cx="278" cy="144.7" r="4.75" stroke-opacity="0.75"/><circle cx="280.5" cy="144.6" r="4.75" stroke-opacity="0.75"/><circle cx="283" cy="143.7" r="4.75" stroke-opacity="0.75"/><circle cx="285.6" cy="142.1" r="4.75" stroke-opacity="0.75"/><circle cx="288.1" cy="139.8" r="4.75" stroke-opacity="0.75"/><circle cx="290.6" cy="137.4" r="4.75" stroke-opacity="0.75"/><circle cx="293.2" cy="135.7" r="4.75" stroke-opacity="0.75"/><circle cx="295.7" cy="135.6" r="4.75" stroke-opacity="0.75"/><circle cx="298.3" cy="137.1" r="4.75" stroke-opacity="0.75"/><circle cx="300.8" cy="139" r="4.75" stroke-opacity="0.75"/><circle cx="303.3" cy="140" r="4.75" stroke-opacity="0.75"/><circle cx="305.9" cy="139.7" r="4.75" stroke-opacity="0.75"/><circle cx="308.4" cy="138.9" r="4.75" stroke-opacity="0.75"/><circle cx="311" cy="138.2" r="4.75" stroke-opacity="0.75"/><circle cx="313.5" cy="138.2" r="4.75" stroke-opacity="0.75"/><circle cx="316" cy="139.2" r="4.75" stroke-opacity="0.75"/><circle cx="318.6" cy="140.6" r="4.75" stroke-opacity="0.75"/><circle cx="321.1" cy="141" r="4.75" stroke-opacity="0.75"/><circle cx="323.6" cy="139.7" r="4.75" stroke-opacity="0.75"/><circle cx="326.2" cy="137.2" r="4.75" stroke-opacity="0.75"/><circle cx="328.7" cy="135.5" r="4.75" stroke-opacity="0.75"/><circle cx="331.2" cy="135.3" r="4.75" stroke-opacity="0.75"/><circle cx="333.8" cy="135.6" r="4.75" stroke-opacity="0.75"/><circle cx="336.3" cy="136" r="4.75" stroke-opacity="0.75"/><circle cx="338.9" cy="137.9" r="4.75" stroke-opacity="0.75"/><circle cx="341.4" cy="141.4" r="4.75" stroke-opacity="0.75"/><circle cx="343.9" cy="144.1" r="4.75" stroke-opacity="0.75"/><circle cx="346.5" cy="144.2" r="4.75" stroke-opacity="0.75"/><circle cx="349" cy="142.3" r="4.75" stroke-opacity="0.75"/><circle cx="351.6" cy="139.6" r="4.75" stroke-opacity="0.75"/><circle cx="354.1" cy="137" r="4.75" stroke-opacity="0.75"/><circle cx="356.6" cy="135.4" r="4.75" stroke-opacity="0.75"/><circle cx="359.2" cy="135.1" r="4.75" stroke-opacity="0.75"/><circle cx="361.7" cy="135.8" r="4.75" stroke-opacity="0.75"/><circle cx="364.2" cy="136.9" r="4.75" stroke-opacity="0.75"/><circle cx="366.8" cy="137.4" r="4.75" stroke-opacity="0.75"/><circle cx="369.3" cy="137.1" r="4.75" stroke-opacity="0.75"/><circle cx="371.9" cy="137.5" r="4.75" stroke-opacity="0.75"/><circle cx="374.4" cy="138.6" r="4.75" stroke-opacity="0.75"/><circle cx="376.9" cy="138.8" r="4.75" stroke-opacity="0.75"/><circle cx="379.5" cy="137.5" r="4.75" stroke-opacity="0.75"/><circle cx="382" cy="150.9" r="4.75" stroke-opacity="0.75"/><circle cx="384.5" cy="144.3" r="4.75" stroke-opacity="0.75"/><circle cx="387.1" cy="141.5" r="4.75" stroke-opacity="0.75"/><circle cx="389.6" cy="143.1" r="4.75" stroke-opacity="0.75"/><circle cx="392.2" cy="142" r="4.75" stroke-opacity="0.75"/><circle cx="394.7" cy="136.7" r="4.75" stroke-opacity="0.75"/><circle cx="397.2" cy="135" r="4.75" stroke-opacity="0.75"/><circle cx="399.8" cy="140.3" r="4.75" stroke-opacity="0.75"/><circle cx="402.3" cy="145.6" r="4.75" stroke-opacity="0.75"/><circle cx="404.8" cy="144.3" r="4.75" stroke-opacity="0.75"/><circle cx="407.4" cy="143.6" r="4.75" stroke-opacity="0.75"/><circle cx="409.9" cy="149.7" r="4.75" stroke-opacity="0.75"/><circle cx="412.5" cy="149.8" r="4.75" stroke-opacity="0.75"/><circle cx="415" cy="142.8" r="4.75" stroke-opacity="0.75"/><circle cx="417.5" cy="140.1" r="4.75" stroke-opacity="0.75"/><circle cx="420.1" cy="143" r="4.75" stroke-opacity="0.75"/><circle cx="422.6" cy="143.7" r="4.75" stroke-opacity="0.75"/><circle cx="425.1" cy="143.5" r="4.75" stroke-opacity="0.75"/><circle cx="427.7" cy="145.3" r="4.75" stroke-opacity="0.75"/><circle cx="430.2" cy="141.8" r="4.75" stroke-opacity="0.75"/><circle cx="432.8" cy="132.6" r="4.75" stroke-opacity="0.75"/><circle cx="435.3" cy="129.2" r="4.75" stroke-opacity="0.75"/><circle cx="437.8" cy="134.7" r="4.75" stroke-opacity="0.75"/><circle cx="440.4" cy="142.4" r="4.75" stroke-opacity="0.75"/><circle cx="442.9" cy="143.1" r="4.75" stroke-opacity="0.75"/><circle cx="445.4" cy="140.5" r="4.75" stroke-opacity="0.75"/><circle cx="448" cy="137.8" r="4.75" stroke-opacity="0.75"/><circle cx="450.5" cy="131.6" r="4.75" stroke-opacity="0.75"/><circle cx="453.1" cy="130.2" r="4.75" stroke-opacity="0.75"/><circle cx="455.6" cy="138.5" r="4.75" stroke-opacity="0.75"/><circle cx="458.1" cy="144.3" r="4.75" stroke-opacity="0.75"/><circle cx="460.7" cy="145.7" r="4.75" stroke-opacity="0.75"/><circle cx="463.2" cy="145.4" r="4.75" stroke-opacity="0.75"/><circle cx="465.7" cy="143.2" r="4.75" stroke-opacity="0.75"/><circle cx="468.3" cy="141.2" r="4.75" stroke-opacity="0.75"/><circle cx="470.8" cy="139.5" r="4.75" stroke-opacity="0.75"/><circle cx="473.4" cy="137.5" r="4.75" stroke-opacity="0.75"/><circle cx="475.9" cy="134.8" r="4.75" stroke-opacity="0.75"/><circle cx="478.4" cy="136" r="4.75" stroke-opacity="0.75"/><circle cx="481" cy="139.6" r="4.75" stroke-opacity="0.75"/><circle cx="483.5" cy="138.7" r="4.75" stroke-opacity="0.75"/><circle cx="486" cy="136.2" r="4.75" stroke-opacity="0.75"/><circle cx="488.6" cy="142.4" r="4.75" stroke-opacity="0.75"/><circle cx="491.1" cy="152.6" r="4.75" stroke-opacity="0.75"/><circle cx="493.7" cy="151.1" r="4.75" stroke-opacity="0.75"/><circle cx="496.2" cy="145.1" r="4.75" stroke-opacity="0.75"/><circle cx="498.7" cy="143" r="4.75" stroke-opacity="0.75"/><circle cx="501.3" cy="145.8" r="4.75" stroke-opacity="0.75"/><circle cx="503.8" cy="149.9" r="4.75" stroke-opacity="0.75"/><circle cx="506.3" cy="147.3" r="4.75" stroke-opacity="0.75"/><circle cx="508.9" cy="136.8" r="4.75" stroke-opacity="0.75"/><circle cx="511.4" cy="131.9" r="4.75" stroke-opacity="0.75"/><circle cx="514" cy="135.4" r="4.75" stroke-opacity="0.75"/><circle cx="516.5" cy="140" r="4.75" stroke-opacity="0.75"/><circle cx="519" cy="143.7" r="4.75" stroke-opacity="0.75"/><circle cx="521.6" cy="152.3" r="4.75"/><circle cx="524.1" cy="171" r="4.75"/><circle cx="526.6" cy="209.6" r="4.75"/><circle cx="529.2" cy="261.4" r="4.75"/><circle cx="531.7" cy="322.8" r="4.75"/><circle cx="534.2" cy="395.2" r="4.75"/><circle cx="536.8" cy="467.7" r="4.75"/><circle cx="539.3" cy="528.4" r="4.75"/><circle cx="541.9" cy="578.8" r="4.75"/><circle cx="544.4" cy="620.2" r="4.75"/><circle cx="546.9" cy="651.2" r="4.75"/><circle cx="549.5" cy="670.5" r="4.75"/><circle cx="552" cy="679.5" r="4.75"/><circle cx="554.5" cy="679.5" r="4.75"/><circle cx="557.1" cy="679.5" r="4.75"/><circle cx="559.6" cy="679.5" r="4.75"/><circle cx="562.2" cy="679.5" r="4.75"/><circle cx="564.7" cy="679.5" r="4.75"/><circle cx="567.2" cy="679.5" r="4.75"/><circle cx="569.8" cy="679.5" r="4.75"/><circle cx="572.3" cy="679.5" r="4.75"/><circle cx="574.8" cy="679.5" r="4.75"/><circle cx="577.4" cy="679.5" r="4.75"/><circle cx="579.9" cy="679.5" r="4.75"/><circle cx="582.5" cy="679.5" r="4.75"/><circle cx="585" cy="679.5" r="4.75"/><circle cx="587.5" cy="679.5" r="4.75"/><circle cx="590.1" cy="679.5" r="4.75"/><circle cx="592.6" cy="679.5" r="4.75"/><circle cx="595.1" cy="679.5" r="4.75"/><circle cx="597.7" cy="679.5" r="4.75"/><circle cx="600.2" cy="679.5" r="4.75"/><circle cx="602.8" cy="679.5" r="4.75"/><circle cx="605.3" cy="679.5" r="4.75"/><circle cx="607.8" cy="679.5" r="4.75"/><circle cx="610.4" cy="679.5" r="4.75"/><circle cx="612.9" cy="679.5" r="4.75"/><circle cx="615.4" cy="679.5" r="4.75"/><circle cx="618" cy="679.5" r="4.75"/><circle cx="620.5" cy="679.5" r="4.75"/><circle cx="623.1" cy="679.5" r="4.75"/><circle cx="625.6" cy="679.5" r="4.75"/><circle cx="628.1" cy="679.5" r="4.75"/><circle cx="630.7" cy="679.5" r="4.75"/><circle cx="633.2" cy="679.5" r="4.75"/><circle cx="635.8" cy="679.5" r="4.75"/><circle cx="638.3" cy="679.5" r="4.75"/><circle cx="640.8" cy="679.5" r="4.75"/><circle cx="643.4" cy="679.5" r="4.75"/><circle cx="645.9" cy="679.5" r="4.75"/><circle cx="648.4" cy="679.5" r="4.75"/><circle cx="651" cy="679.5" r="4.75"/><circle cx="653.5" cy="679.5" r="4.75"/><circle cx="656" cy="679.5" r="4.75"/><circle cx="658.6" cy="679.5" r="4.75"/><circle cx="661.1" cy="679.5" r="4.75"/><circle cx="663.7" cy="679.5" r="4.75"/><circle cx="666.2" cy="679.5" r="4.75"/><circle cx="668.7" cy="679.5" r="4.75"/><circle cx="671.3" cy="679.5" r="4.75"/><circle cx="673.8" cy="679.5" r="4.75"/><circle cx="676.4" cy="679.5" r="4.75"/><circle cx="678.9" cy="679.5" r="4.75"/><circle cx="681.4" cy="679.5" r="4.75"/><circle cx="684" cy="679.5" r="4.75"/><circle cx="686.5" cy="679.5" r="4.75"/>
</g>
<g font-family="'Liberation Serif','Times New Roman',serif" font-size="29.5" fill="#000">
<text transform="translate(77.5,716.8) scale(1,1.06)" text-anchor="middle">0</text>
<text transform="translate(153.6,716.8) scale(1,1.06)" text-anchor="middle">0.5</text>
<text transform="translate(229.8,716.8) scale(1,1.06)" text-anchor="middle">1</text>
<text transform="translate(305.9,716.8) scale(1,1.06)" text-anchor="middle">1.5</text>
<text transform="translate(382,716.8) scale(1,1.06)" text-anchor="middle">2</text>
<text transform="translate(458.1,716.8) scale(1,1.06)" text-anchor="middle">2.5</text>
<text transform="translate(534.2,716.8) scale(1,1.06)" text-anchor="middle">3</text>
<text transform="translate(610.4,716.8) scale(1,1.06)" text-anchor="middle">3.5</text>
<text transform="translate(686.5,716.8) scale(1,1.06)" text-anchor="middle">4</text>
<text transform="translate(67.1,690.3) scale(1,1.06)" text-anchor="end">0</text>
<text transform="translate(67.1,621.3) scale(1,1.06)" text-anchor="end">10</text>
<text transform="translate(67.1,552.3) scale(1,1.06)" text-anchor="end">20</text>
<text transform="translate(67.1,483.3) scale(1,1.06)" text-anchor="end">30</text>
<text transform="translate(67.1,414.3) scale(1,1.06)" text-anchor="end">40</text>
<text transform="translate(67.1,345.3) scale(1,1.06)" text-anchor="end">50</text>
<text transform="translate(67.1,276.3) scale(1,1.06)" text-anchor="end">60</text>
<text transform="translate(67.1,207.3) scale(1,1.06)" text-anchor="end">70</text>
<text transform="translate(67.1,138.3) scale(1,1.06)" text-anchor="end">80</text>
<text transform="translate(67.1,69.3) scale(1,1.06)" text-anchor="end">90</text>
</g>
<text x="382" y="755" text-anchor="middle" font-family="'Liberation Serif','Times New Roman',serif" font-size="32.4">Time (min)</text>
<text transform="translate(22.5,368) rotate(-90)" text-anchor="middle" font-family="'Liberation Serif','Times New Roman',serif" font-size="32">Activity concentration (kBq/mL)</text>
<text transform="translate(380.7,50.6) scale(1,1.06)" text-anchor="middle" font-family="'Liberation Serif','Times New Roman',serif" font-size="29.1" font-weight="bold">ABSS#1, 350 to 150 mL/h</text>
<text x="46.6" y="30.9" font-family="'Liberation Serif','Times New Roman',serif" font-size="44" font-weight="bold">(A)</text>
<path d="M271.4,543.2h73.5" stroke="#0072BD" stroke-width="3"/>
<circle cx="308.1" cy="575.7" r="4.9" fill="none" stroke="#D95319" stroke-width="2"/>
<circle cx="308.1" cy="608.2" r="4.9" fill="none" stroke="#77AC30" stroke-width="2"/>
<circle cx="308.1" cy="640.7" r="4.9" fill="none" stroke="#7E2F8E" stroke-width="2"/>
<g font-family="'Liberation Serif','Times New Roman',serif" font-size="26">
<text x="351.6" y="553.6">Input</text>
<text x="351.6" y="586.1">Output</text>
<text x="351.6" y="618.6">Fixed <tspan font-style="italic">δ</tspan> and <tspan font-style="italic">τ</tspan></text>
<text x="351.6" y="651.1">Corrected</text>
</g>
<rect x="879.5" y="58.5" width="609" height="621" fill="none" stroke="#161616" stroke-width="1.2"/>
<path d="M879.5,679.5v-6.3M879.5,58.5v6.3M955.5,679.5v-6.3M955.5,58.5v6.3M1031.5,679.5v-6.3M1031.5,58.5v6.3M1107.5,679.5v-6.3M1107.5,58.5v6.3M1184.5,679.5v-6.3M1184.5,58.5v6.3M1260.5,679.5v-6.3M1260.5,58.5v6.3M1336.5,679.5v-6.3M1336.5,58.5v6.3M1412.5,679.5v-6.3M1412.5,58.5v6.3M1488.5,679.5v-6.3M1488.5,58.5v6.3M879.5,679.5h6.3M1488.5,679.5h-6.3M879.5,555.5h6.3M1488.5,555.5h-6.3M879.5,431.5h6.3M1488.5,431.5h-6.3M879.5,306.5h6.3M1488.5,306.5h-6.3M879.5,182.5h6.3M1488.5,182.5h-6.3M879.5,58.5h6.3M1488.5,58.5h-6.3" stroke="#161616" stroke-width="1.2" fill="none"/>
<g>
<polygon points="879.5,677.6 882,677.6 884.6,677.6 887.1,677.6 889.6,677.6 892.2,677.6 894.7,677.6 897.3,677.6 899.8,677.6 902.3,677.6 904.9,677.6 907.4,677.6 910,677.6 912.5,677.6 915,677.6 917.6,677.6 920.1,677.6 922.6,677.6 925.2,677.6 927.7,677.6 930.2,677.6 932.8,677.6 935.3,677.6 937.9,677.6 940.4,677.6 942.9,677.6 945.5,677.6 948,677.6 950.5,677.6 953.1,677.6 955.6,677.6 958.2,677.6 960.7,677.6 963.2,677.6 965.8,677.6 968.3,677.6 970.9,677.6 973.4,677.6 975.9,677.6 978.5,677.6 981,677.6 983.5,677.6 986.1,677.6 988.6,677.6 991.1,677.6 993.7,677.6 996.2,677.6 998.8,677.6 1001.3,677.6 1003.8,677.6 1006.4,677.6 1008.9,677.6 1011.5,677.6 1014,677.6 1016.5,677.6 1019.1,677.6 1021.6,677.6 1024.1,677.6 1026.7,677.6 1029.2,677.6 1031.8,677.6 1034.3,677.6 1036.8,677.6 1039.4,677.6 1041.9,677.2 1044.4,673.4 1047,661 1049.5,621 1052,555.7 1054.6,484.2 1057.1,423.2 1059.7,359.1 1062.2,301.8 1064.7,257.4 1067.3,239.4 1069.8,212.9 1072.3,187.9 1074.9,161.6 1077.4,146 1080,136.9 1082.5,132 1085,130.1 1087.6,133.9 1090.1,133.3 1092.7,118.8 1095.2,103.4 1097.7,111.4 1100.3,118.3 1102.8,107.3 1105.3,104.8 1107.9,123.8 1110.4,116.4 1113,117.9 1115.5,107.4 1118,105 1120.6,111.6 1123.1,111.2 1125.6,100.2 1128.2,101.3 1130.7,113.9 1133.2,118.5 1135.8,120.7 1138.3,111.2 1140.9,113.4 1143.4,118.6 1145.9,105 1148.5,100.9 1151,119.1 1153.5,111.2 1156.1,117.1 1158.6,109.4 1161.2,106.9 1163.7,110.2 1166.2,113.6 1168.8,116.2 1171.3,124.9 1173.8,121.8 1176.4,104.4 1178.9,100.7 1181.5,98.4 1184,99.1 1186.5,100.4 1189.1,112 1191.6,113.9 1194.2,112.6 1196.7,106.6 1199.2,102.1 1201.8,106.7 1204.3,99.7 1206.8,109.1 1209.4,106.6 1211.9,109.9 1214.5,112.9 1217,113.4 1219.5,100.4 1222.1,92.7 1224.6,106.2 1227.1,99.3 1229.7,103.5 1232.2,112.2 1234.8,112 1237.3,110.6 1239.8,115.3 1242.4,119.2 1244.9,123.3 1247.4,125.6 1250,121.4 1252.5,110.4 1255,111.6 1257.6,108 1260.1,105.6 1262.7,101.1 1265.2,99.5 1267.7,108.3 1270.3,109.7 1272.8,110.4 1275.3,115.2 1277.9,118.5 1280.4,113.4 1283,107.9 1285.5,108.4 1288,108.6 1290.6,120.5 1293.1,116.7 1295.7,116 1298.2,102.3 1300.7,103.3 1303.3,112.6 1305.8,112.7 1308.3,108.2 1310.9,105 1313.4,111.8 1316,105.1 1318.5,95.8 1321,97.8 1323.6,111.2 1326.1,98.9 1328.6,94.9 1331.2,103.4 1333.7,109.5 1336.2,115.8 1338.8,111.4 1341.3,104.3 1343.9,108.8 1346.4,115.5 1348.9,114.2 1351.5,104.6 1354,98.6 1356.5,102.5 1359.1,115 1361.6,112.6 1364.2,123.7 1366.7,122.5 1369.2,158.5 1371.8,187 1374.3,208.8 1376.8,268.4 1379.4,318.1 1381.9,359.7 1384.5,408.7 1387,451.6 1389.5,482 1392.1,516.8 1394.6,542.3 1397.2,567.1 1399.7,588.8 1402.2,601.3 1404.8,614.9 1407.3,629.8 1409.8,639.1 1412.4,644.7 1414.9,650.4 1417.4,655.1 1420,658.8 1422.5,661.8 1425.1,664.2 1427.6,665.9 1430.1,667.2 1432.7,668.1 1435.2,668.7 1437.8,669.1 1440.3,669.4 1442.8,669.8 1445.4,670.3 1447.9,670.9 1450.4,671.3 1453,671.5 1455.5,671.5 1458,671.4 1460.6,671.4 1463.1,671.5 1465.7,671.7 1468.2,671.9 1470.7,672.2 1473.3,672.5 1475.8,672.2 1478.3,671.6 1480.9,670.9 1483.4,670.3 1486,670 1488.5,670.1 1488.5,675.3 1486,675.6 1483.4,676.4 1480.9,677.1 1478.3,677.5 1475.8,677.6 1473.3,677.5 1470.7,677.5 1468.2,677.4 1465.7,677.1 1463.1,676.8 1460.6,676.6 1458,676.5 1455.5,676.5 1453,676.5 1450.4,676.5 1447.9,676.5 1445.4,676.2 1442.8,675.7 1440.3,675.2 1437.8,674.8 1435.2,674.5 1432.7,674.2 1430.1,673.7 1427.6,673.1 1425.1,672.3 1422.5,671 1420,669.2 1417.4,666.8 1414.9,664.1 1412.4,659.7 1409.8,655.3 1407.3,652.2 1404.8,644.7 1402.2,631.1 1399.7,621.1 1397.2,610.6 1394.6,590.7 1392.1,573.9 1389.5,546.6 1387,519.9 1384.5,493.2 1381.9,452.8 1379.4,407.5 1376.8,375.2 1374.3,313.1 1371.8,257.8 1369.2,231.8 1366.7,185.8 1364.2,149.8 1361.6,153.4 1359.1,143.3 1356.5,147.9 1354,145.4 1351.5,138.9 1348.9,136.7 1346.4,142.5 1343.9,149.3 1341.3,148.2 1338.8,137.8 1336.2,130.5 1333.7,128.4 1331.2,125.7 1328.6,133.2 1326.1,133.6 1323.6,121.9 1321,131.7 1318.5,134.7 1316,130.8 1313.4,127 1310.9,134 1308.3,132.3 1305.8,134.3 1303.3,141.3 1300.7,150.1 1298.2,146.3 1295.7,130.6 1293.1,131.3 1290.6,129.6 1288,141.4 1285.5,138.5 1283,138.3 1280.4,135.4 1277.9,129.7 1275.3,128.5 1272.8,131.3 1270.3,133.4 1267.7,134.7 1265.2,144.5 1262.7,147.5 1260.1,145.3 1257.6,142.8 1255,141 1252.5,145.1 1250,137.9 1247.4,138.9 1244.9,147.4 1242.4,158.4 1239.8,163.2 1237.3,157.2 1234.8,140.3 1232.2,129.2 1229.7,132.2 1227.1,131.7 1224.6,122.1 1222.1,140.1 1219.5,142.5 1217,136.7 1214.5,136.4 1211.9,134.6 1209.4,133.7 1206.8,125.9 1204.3,128.2 1201.8,116.7 1199.2,125.2 1196.7,133.2 1194.2,139.3 1191.6,141.9 1189.1,139.9 1186.5,144.6 1184,137.6 1181.5,129.5 1178.9,129.5 1176.4,145.8 1173.8,147.9 1171.3,144.6 1168.8,139.2 1166.2,131 1163.7,131.9 1161.2,134.6 1158.6,131.3 1156.1,125.4 1153.5,134.3 1151,126.9 1148.5,144.6 1145.9,143.2 1143.4,134.7 1140.9,140.9 1138.3,139.9 1135.8,130.9 1133.2,136.4 1130.7,138.2 1128.2,144.2 1125.6,142.8 1123.1,134.9 1120.6,136.9 1118,141.2 1115.5,135.9 1113,130.4 1110.4,143.2 1107.9,142 1105.3,156.1 1102.8,149.7 1100.3,136.6 1097.7,151.3 1095.2,168.9 1092.7,159.8 1090.1,150.1 1087.6,149.6 1085,149.5 1082.5,148.5 1080,149.2 1077.4,159.7 1074.9,181.4 1072.3,209.8 1069.8,234.5 1067.3,260.1 1064.7,286.8 1062.2,344.3 1059.7,406.3 1057.1,471.3 1054.6,534.5 1052,604.6 1049.5,656 1047,678.2 1044.4,680.6 1041.9,681.8 1039.4,681.4 1036.8,681.4 1034.3,681.4 1031.8,681.4 1029.2,681.4 1026.7,681.4 1024.1,681.4 1021.6,681.4 1019.1,681.4 1016.5,681.4 1014,681.4 1011.5,681.4 1008.9,681.4 1006.4,681.4 1003.8,681.4 1001.3,681.4 998.8,681.4 996.2,681.4 993.7,681.4 991.1,681.4 988.6,681.4 986.1,681.4 983.5,681.4 981,681.4 978.5,681.4 975.9,681.4 973.4,681.4 970.9,681.4 968.3,681.4 965.8,681.4 963.2,681.4 960.7,681.4 958.2,681.4 955.6,681.4 953.1,681.4 950.5,681.4 948,681.4 945.5,681.4 942.9,681.4 940.4,681.4 937.9,681.4 935.3,681.4 932.8,681.4 930.2,681.4 927.7,681.4 925.2,681.4 922.6,681.4 920.1,681.4 917.6,681.4 915,681.4 912.5,681.4 910,681.4 907.4,681.4 904.9,681.4 902.3,681.4 899.8,681.4 897.3,681.4 894.7,681.4 892.2,681.4 889.6,681.4 887.1,681.4 884.6,681.4 882,681.4 879.5,681.4" fill="#D95319" fill-opacity="0.3" stroke="none"/>
<polygon points="879.5,677.6 882,677.6 884.6,677.6 887.1,677.6 889.6,677.6 892.2,677.6 894.7,677.6 897.3,677.6 899.8,677.6 902.3,677.6 904.9,677.6 907.4,677.6 910,677.6 912.5,677.6 915,677.6 917.6,677.6 920.1,677.6 922.6,677.6 925.2,677.6 927.7,677.6 930.2,677.6 932.8,677.6 935.3,677.6 937.9,677.6 940.4,677.6 942.9,677.6 945.5,677.6 948,677.6 950.5,677.6 953.1,677.6 955.6,677.6 958.2,677.6 960.7,677.6 963.2,677.6 965.8,677.6 968.3,677.6 970.9,677.6 973.4,677.6 975.9,677.6 978.5,677.6 981,677.6 983.5,677.6 986.1,677.6 988.6,677.6 991.1,677.6 993.7,677.6 996.2,677.6 998.8,677.6 1001.3,677.6 1003.8,677.6 1006.4,677.6 1008.9,677.6 1011.5,677.6 1014,677.6 1016.5,677.6 1019.1,677.6 1021.6,677.6 1024.1,677.6 1026.7,677.6 1029.2,636.8 1031.8,350.1 1034.3,279.6 1036.8,196.6 1039.4,141.7 1041.9,105.1 1044.4,100.8 1047,95.1 1049.5,93.6 1052,101.8 1054.6,102.8 1057.1,98.7 1059.7,101.9 1062.2,118.7 1064.7,127.4 1067.3,126.8 1069.8,113.7 1072.3,108.5 1074.9,110.3 1077.4,109.6 1080,110.6 1082.5,107.6 1085,102.6 1087.6,108.7 1090.1,102.5 1092.7,103 1095.2,108.8 1097.7,116.1 1100.3,109.6 1102.8,102.9 1105.3,106.4 1107.9,105.2 1110.4,103.5 1113,108.5 1115.5,109.9 1118,113.6 1120.6,114.6 1123.1,109.8 1125.6,111.6 1128.2,114.2 1130.7,105.9 1133.2,93 1135.8,87.8 1138.3,89.6 1140.9,91.8 1143.4,97.9 1145.9,106.4 1148.5,115.4 1151,116.9 1153.5,111.4 1156.1,110.1 1158.6,107.6 1161.2,93.9 1163.7,90.1 1166.2,93.5 1168.8,98.9 1171.3,113.3 1173.8,116.4 1176.4,116 1178.9,114.9 1181.5,114.4 1184,111.4 1186.5,113 1189.1,114.7 1191.6,111.5 1194.2,103 1196.7,101.3 1199.2,112.2 1201.8,114.5 1204.3,115.8 1206.8,126 1209.4,117.2 1211.9,101.2 1214.5,100.7 1217,115.3 1219.5,103.7 1222.1,106.5 1224.6,112.4 1227.1,102.5 1229.7,96.7 1232.2,105.1 1234.8,97.2 1237.3,93.2 1239.8,98.7 1242.4,101.2 1244.9,98.9 1247.4,97.4 1250,93.6 1252.5,91.9 1255,104.9 1257.6,108.9 1260.1,107.6 1262.7,104.7 1265.2,111.6 1267.7,120.9 1270.3,127.9 1272.8,128.1 1275.3,128.9 1277.9,135.2 1280.4,129.1 1283,118.5 1285.5,121.9 1288,119.5 1290.6,105.2 1293.1,100.5 1295.7,102.3 1298.2,109.1 1300.7,110 1303.3,115.6 1305.8,123.3 1308.3,118.5 1310.9,114.6 1313.4,121.1 1316,121.9 1318.5,124.1 1321,129.7 1323.6,123 1326.1,107.8 1328.6,96.9 1331.2,97.4 1333.7,103.3 1336.2,100.3 1338.8,115.7 1341.3,136.5 1343.9,157.9 1346.4,190.4 1348.9,241.4 1351.5,301.4 1354,364.7 1356.5,433.7 1359.1,491.5 1361.6,535.1 1364.2,574.7 1366.7,602.5 1369.2,619.9 1371.8,632.6 1374.3,644.2 1376.8,653.6 1379.4,661.4 1381.9,664.7 1384.5,666.1 1387,666.9 1389.5,667.4 1392.1,667.6 1394.6,667.7 1397.2,667.8 1399.7,668.2 1402.2,668.5 1404.8,668.9 1407.3,669.2 1409.8,669.5 1412.4,669.7 1414.9,669.8 1417.4,669.9 1420,670.2 1422.5,670.6 1425.1,670.4 1427.6,670.1 1430.1,669.8 1432.7,669.8 1435.2,669.8 1437.8,669.8 1440.3,669.9 1442.8,670 1445.4,670.2 1447.9,670.4 1450.4,670.3 1453,670.1 1455.5,669.9 1458,669.8 1460.6,669.8 1463.1,669.8 1465.7,669.8 1468.2,669.8 1470.7,669.8 1473.3,670.1 1475.8,670.6 1478.3,671.2 1480.9,671.7 1483.4,671.6 1486,671.1 1488.5,670.6 1488.5,675.1 1486,675.5 1483.4,675.7 1480.9,675.7 1478.3,675.6 1475.8,675.2 1473.3,674.6 1470.7,674 1468.2,673.7 1465.7,673.6 1463.1,673.5 1460.6,673.6 1458,673.7 1455.5,673.9 1453,674.1 1450.4,674.2 1447.9,674.1 1445.4,674.1 1442.8,674 1440.3,673.8 1437.8,673.7 1435.2,673.6 1432.7,673.6 1430.1,673.9 1427.6,674.3 1425.1,674.4 1422.5,674.4 1420,674.4 1417.4,674.1 1414.9,673.8 1412.4,673.7 1409.8,673.6 1407.3,673.4 1404.8,673.1 1402.2,672.8 1399.7,672.5 1397.2,672.1 1394.6,671.7 1392.1,671.6 1389.5,671.5 1387,671.4 1384.5,671.1 1381.9,670.5 1379.4,670.9 1376.8,668.1 1374.3,662.7 1371.8,654.3 1369.2,644.7 1366.7,634.8 1364.2,622.8 1361.6,597.9 1359.1,567 1356.5,530.3 1354,475.1 1351.5,411.8 1348.9,347.5 1346.4,281.8 1343.9,224.9 1341.3,186.7 1338.8,157.8 1336.2,132.6 1333.7,121.3 1331.2,131.5 1328.6,145.1 1326.1,156.2 1323.6,159.9 1321,153.5 1318.5,148.6 1316,146 1313.4,141.9 1310.9,140 1308.3,135.7 1305.8,134.4 1303.3,136.3 1300.7,129.4 1298.2,124.8 1295.7,136.9 1293.1,146.8 1290.6,149.8 1288,145.1 1285.5,150.4 1283,158.8 1280.4,153.9 1277.9,148.4 1275.3,148.1 1272.8,145.5 1270.3,148.5 1267.7,148.4 1265.2,140.2 1262.7,136.2 1260.1,131.5 1257.6,128 1255,129.5 1252.5,151.1 1250,163.7 1247.4,160.1 1244.9,144.9 1242.4,130.5 1239.8,130.7 1237.3,137.7 1234.8,130.1 1232.2,120.3 1229.7,134.4 1227.1,136.1 1224.6,133.1 1222.1,142.5 1219.5,141.4 1217,125.4 1214.5,144.1 1211.9,154.3 1209.4,149.5 1206.8,145.4 1204.3,149.4 1201.8,136.7 1199.2,132.2 1196.7,149.4 1194.2,159.6 1191.6,153.5 1189.1,132.6 1186.5,137.1 1184,132.9 1181.5,125.6 1178.9,125.4 1176.4,128.2 1173.8,130.4 1171.3,132.7 1168.8,143.5 1166.2,145.4 1163.7,147.8 1161.2,144.9 1158.6,131.6 1156.1,129.2 1153.5,131 1151,130.6 1148.5,133.8 1145.9,136.5 1143.4,134.2 1140.9,132.7 1138.3,133.5 1135.8,137.7 1133.2,137.1 1130.7,131.9 1128.2,132.8 1125.6,140.6 1123.1,141.1 1120.6,131.2 1118,126.3 1115.5,124.9 1113,122.5 1110.4,124.2 1107.9,119.4 1105.3,117.7 1102.8,125.7 1100.3,128 1097.7,130.4 1095.2,141.5 1092.7,143.4 1090.1,134.4 1087.6,119.9 1085,126 1082.5,124.3 1080,123.2 1077.4,124.1 1074.9,130.9 1072.3,147.6 1069.8,154.8 1067.3,154.1 1064.7,148.6 1062.2,144.8 1059.7,151.7 1057.1,142.5 1054.6,128.4 1052,117 1049.5,120.3 1047,113.8 1044.4,128 1041.9,146 1039.4,174.1 1036.8,245.8 1034.3,339.2 1031.8,464.9 1029.2,683.2 1026.7,681.4 1024.1,681.4 1021.6,681.4 1019.1,681.4 1016.5,681.4 1014,681.4 1011.5,681.4 1008.9,681.4 1006.4,681.4 1003.8,681.4 1001.3,681.4 998.8,681.4 996.2,681.4 993.7,681.4 991.1,681.4 988.6,681.4 986.1,681.4 983.5,681.4 981,681.4 978.5,681.4 975.9,681.4 973.4,681.4 970.9,681.4 968.3,681.4 965.8,681.4 963.2,681.4 960.7,681.4 958.2,681.4 955.6,681.4 953.1,681.4 950.5,681.4 948,681.4 945.5,681.4 942.9,681.4 940.4,681.4 937.9,681.4 935.3,681.4 932.8,681.4 930.2,681.4 927.7,681.4 925.2,681.4 922.6,681.4 920.1,681.4 917.6,681.4 915,681.4 912.5,681.4 910,681.4 907.4,681.4 904.9,681.4 902.3,681.4 899.8,681.4 897.3,681.4 894.7,681.4 892.2,681.4 889.6,681.4 887.1,681.4 884.6,681.4 882,681.4 879.5,681.4" fill="#77AC30" fill-opacity="0.3" stroke="none"/>
<polygon points="879.5,677.6 882,677.6 884.6,677.6 887.1,677.6 889.6,677.6 892.2,677.6 894.7,677.6 897.3,677.6 899.8,677.6 902.3,677.6 904.9,677.6 907.4,677.6 910,677.6 912.5,677.6 915,677.6 917.6,677.6 920.1,677.6 922.6,677.6 925.2,677.6 927.7,677.6 930.2,677.6 932.8,677.6 935.3,677.6 937.9,677.6 940.4,677.6 942.9,677.6 945.5,677.6 948,677.6 950.5,677.6 953.1,677.6 955.6,677.6 958.2,677.6 960.7,677.6 963.2,677.6 965.8,677.6 968.3,677.6 970.9,677.6 973.4,677.6 975.9,677.6 978.5,677.6 981,677.6 983.5,677.6 986.1,677.6 988.6,677.6 991.1,677.6 993.7,677.6 996.2,677.6 998.8,677.6 1001.3,677.6 1003.8,677.6 1006.4,677.6 1008.9,677.6 1011.5,677.6 1014,677.6 1016.5,677.6 1019.1,677.6 1021.6,677.6 1024.1,677.6 1026.7,677.6 1029.2,636.8 1031.8,350.1 1034.3,279.6 1036.8,196.6 1039.4,141.7 1041.9,105.1 1044.4,100.8 1047,95.1 1049.5,93.6 1052,101.8 1054.6,102.8 1057.1,98.7 1059.7,101.9 1062.2,118.7 1064.7,127.4 1067.3,126.8 1069.8,113.7 1072.3,108.5 1074.9,110.3 1077.4,109.6 1080,110.6 1082.5,107.6 1085,102.6 1087.6,108.7 1090.1,102.5 1092.7,103 1095.2,108.8 1097.7,116.1 1100.3,109.6 1102.8,102.9 1105.3,106.4 1107.9,105.2 1110.4,103.5 1113,108.5 1115.5,109.9 1118,113.6 1120.6,114.6 1123.1,109.8 1125.6,111.6 1128.2,114.2 1130.7,105.9 1133.2,93 1135.8,87.8 1138.3,89.6 1140.9,91.8 1143.4,97.9 1145.9,106.4 1148.5,115.4 1151,116.9 1153.5,111.4 1156.1,110.1 1158.6,107.6 1161.2,93.9 1163.7,90.1 1166.2,93.5 1168.8,98.9 1171.3,113.3 1173.8,116.4 1176.4,116 1178.9,114.9 1181.5,114.4 1184,111.4 1186.5,113 1189.1,101.9 1191.6,116.4 1194.2,131.1 1196.7,127.7 1199.2,109.3 1201.8,90.7 1204.3,82.2 1206.8,90.9 1209.4,102.3 1211.9,112 1214.5,106.3 1217,99.8 1219.5,100.1 1222.1,97 1224.6,75.3 1227.1,61.4 1229.7,72.3 1232.2,74.6 1234.8,75.6 1237.3,74.7 1239.8,107.2 1242.4,112.5 1244.9,110 1247.4,112.5 1250,113.7 1252.5,114.8 1255,100.7 1257.6,114.8 1260.1,122.4 1262.7,111.6 1265.2,99.8 1267.7,95.3 1270.3,105.7 1272.8,105.3 1275.3,118 1277.9,118.4 1280.4,98.1 1283,108.2 1285.5,113.1 1288,105.5 1290.6,93.4 1293.1,89.8 1295.7,104.2 1298.2,104.7 1300.7,120.4 1303.3,99.6 1305.8,98 1308.3,106.8 1310.9,98.6 1313.4,85.8 1316,94.9 1318.5,93.2 1321,86.9 1323.6,96.5 1326.1,87.8 1328.6,122.7 1331.2,160.5 1333.7,197.5 1336.2,252.4 1338.8,328.9 1341.3,413.8 1343.9,494.8 1346.4,580 1348.9,627 1351.5,647.1 1354,660 1356.5,669.2 1359.1,673.2 1361.6,676.6 1364.2,677.6 1366.7,677.6 1369.2,677.6 1371.8,677.6 1374.3,677.6 1376.8,677.6 1379.4,677.6 1381.9,677.6 1384.5,677.6 1387,677.6 1389.5,677.6 1392.1,677.6 1394.6,677.6 1397.2,677.6 1399.7,677.6 1402.2,677.6 1404.8,677.6 1407.3,677.6 1409.8,677.6 1412.4,677.6 1414.9,677.6 1417.4,677.6 1420,677.6 1422.5,677.6 1425.1,677.6 1427.6,677.6 1430.1,677.6 1432.7,677.6 1435.2,677.6 1437.8,677.6 1440.3,677.6 1442.8,677.6 1445.4,677.6 1447.9,677.6 1450.4,677.6 1453,677.6 1455.5,677.6 1458,677.6 1460.6,677.6 1463.1,677.6 1465.7,677.6 1468.2,677.6 1470.7,677.6 1473.3,677.6 1475.8,677.6 1478.3,677.6 1480.9,677.6 1483.4,677.6 1486,677.6 1488.5,677.6 1488.5,681.4 1486,681.4 1483.4,681.4 1480.9,681.4 1478.3,681.4 1475.8,681.4 1473.3,681.4 1470.7,681.4 1468.2,681.4 1465.7,681.4 1463.1,681.4 1460.6,681.4 1458,681.4 1455.5,681.4 1453,681.4 1450.4,681.4 1447.9,681.4 1445.4,681.4 1442.8,681.4 1440.3,681.4 1437.8,681.4 1435.2,681.4 1432.7,681.4 1430.1,681.4 1427.6,681.4 1425.1,681.4 1422.5,681.4 1420,681.4 1417.4,681.4 1414.9,681.4 1412.4,681.4 1409.8,681.4 1407.3,681.4 1404.8,681.4 1402.2,681.4 1399.7,681.4 1397.2,681.4 1394.6,681.4 1392.1,681.4 1389.5,681.4 1387,681.4 1384.5,681.4 1381.9,681.4 1379.4,681.4 1376.8,681.4 1374.3,681.4 1371.8,681.4 1369.2,681.4 1366.7,681.4 1364.2,681.4 1361.6,682.4 1359.1,680.9 1356.5,679.9 1354,676.6 1351.5,669.7 1348.9,662.5 1346.4,657.3 1343.9,610.8 1341.3,542.8 1338.8,463.8 1336.2,376.3 1333.7,294.6 1331.2,234.7 1328.6,193 1326.1,141 1323.6,120.3 1321,143.4 1318.5,155.9 1316,169.5 1313.4,180.8 1310.9,153.5 1308.3,126.9 1305.8,135.6 1303.3,148.6 1300.7,132 1298.2,148.4 1295.7,156.5 1293.1,171.7 1290.6,163.2 1288,150.2 1285.5,144.3 1283,155.3 1280.4,173.3 1277.9,158.3 1275.3,144.1 1272.8,132.2 1270.3,124.5 1267.7,149.4 1265.2,153.2 1262.7,143.2 1260.1,147.6 1257.6,165.2 1255,177.7 1252.5,159.4 1250,147.9 1247.4,140.6 1244.9,150.8 1242.4,154.8 1239.8,154.1 1237.3,170.3 1234.8,144 1232.2,111.6 1229.7,102.2 1227.1,128.1 1224.6,152.4 1222.1,166.9 1219.5,160.2 1217,141.4 1214.5,130.5 1211.9,125.4 1209.4,132.7 1206.8,141.1 1204.3,148.5 1201.8,155.7 1199.2,158.2 1196.7,146.9 1194.2,145.1 1191.6,150.9 1189.1,145.4 1186.5,137.1 1184,132.9 1181.5,125.6 1178.9,125.4 1176.4,128.2 1173.8,130.4 1171.3,132.7 1168.8,143.5 1166.2,145.4 1163.7,147.8 1161.2,144.9 1158.6,131.6 1156.1,129.2 1153.5,131 1151,130.6 1148.5,133.8 1145.9,136.5 1143.4,134.2 1140.9,132.7 1138.3,133.5 1135.8,137.7 1133.2,137.1 1130.7,131.9 1128.2,132.8 1125.6,140.6 1123.1,141.1 1120.6,131.2 1118,126.3 1115.5,124.9 1113,122.5 1110.4,124.2 1107.9,119.4 1105.3,117.7 1102.8,125.7 1100.3,128 1097.7,130.4 1095.2,141.5 1092.7,143.4 1090.1,134.4 1087.6,119.9 1085,126 1082.5,124.3 1080,123.2 1077.4,124.1 1074.9,130.9 1072.3,147.6 1069.8,154.8 1067.3,154.1 1064.7,148.6 1062.2,144.8 1059.7,151.7 1057.1,142.5 1054.6,128.4 1052,117 1049.5,120.3 1047,113.8 1044.4,128 1041.9,146 1039.4,174.1 1036.8,245.8 1034.3,339.2 1031.8,464.9 1029.2,683.2 1026.7,681.4 1024.1,681.4 1021.6,681.4 1019.1,681.4 1016.5,681.4 1014,681.4 1011.5,681.4 1008.9,681.4 1006.4,681.4 1003.8,681.4 1001.3,681.4 998.8,681.4 996.2,681.4 993.7,681.4 991.1,681.4 988.6,681.4 986.1,681.4 983.5,681.4 981,681.4 978.5,681.4 975.9,681.4 973.4,681.4 970.9,681.4 968.3,681.4 965.8,681.4 963.2,681.4 960.7,681.4 958.2,681.4 955.6,681.4 953.1,681.4 950.5,681.4 948,681.4 945.5,681.4 942.9,681.4 940.4,681.4 937.9,681.4 935.3,681.4 932.8,681.4 930.2,681.4 927.7,681.4 925.2,681.4 922.6,681.4 920.1,681.4 917.6,681.4 915,681.4 912.5,681.4 910,681.4 907.4,681.4 904.9,681.4 902.3,681.4 899.8,681.4 897.3,681.4 894.7,681.4 892.2,681.4 889.6,681.4 887.1,681.4 884.6,681.4 882,681.4 879.5,681.4" fill="#7E2F8E" fill-opacity="0.3" stroke="none"/>
</g>
<polyline points="879.5,679.5 1031.8,679.5 1031.8,124.7 1334.5,124.7 1338.3,567.7 1339.5,567.7 1343.4,679.5 1348.9,679.5 1488.5,679.5" fill="none" stroke="#0072BD" stroke-width="3" stroke-linejoin="miter"/>
<g fill="none" stroke="#D95319" stroke-width="2.5">
<circle cx="879.5" cy="679.5" r="4.75"/><circle cx="882" cy="679.5" r="4.75"/><circle cx="884.6" cy="679.5" r="4.75"/><circle cx="887.1" cy="679.5" r="4.75"/><circle cx="889.6" cy="679.5" r="4.75"/><circle cx="892.2" cy="679.5" r="4.75"/><circle cx="894.7" cy="679.5" r="4.75"/><circle cx="897.3" cy="679.5" r="4.75"/><circle cx="899.8" cy="679.5" r="4.75"/><circle cx="902.3" cy="679.5" r="4.75"/><circle cx="904.9" cy="679.5" r="4.75"/><circle cx="907.4" cy="679.5" r="4.75"/><circle cx="910" cy="679.5" r="4.75"/><circle cx="912.5" cy="679.5" r="4.75"/><circle cx="915" cy="679.5" r="4.75"/><circle cx="917.6" cy="679.5" r="4.75"/><circle cx="920.1" cy="679.5" r="4.75"/><circle cx="922.6" cy="679.5" r="4.75"/><circle cx="925.2" cy="679.5" r="4.75"/><circle cx="927.7" cy="679.5" r="4.75"/><circle cx="930.2" cy="679.5" r="4.75"/><circle cx="932.8" cy="679.5" r="4.75"/><circle cx="935.3" cy="679.5" r="4.75"/><circle cx="937.9" cy="679.5" r="4.75"/><circle cx="940.4" cy="679.5" r="4.75"/><circle cx="942.9" cy="679.5" r="4.75"/><circle cx="945.5" cy="679.5" r="4.75"/><circle cx="948" cy="679.5" r="4.75"/><circle cx="950.5" cy="679.5" r="4.75"/><circle cx="953.1" cy="679.5" r="4.75"/><circle cx="955.6" cy="679.5" r="4.75"/><circle cx="958.2" cy="679.5" r="4.75"/><circle cx="960.7" cy="679.5" r="4.75"/><circle cx="963.2" cy="679.5" r="4.75"/><circle cx="965.8" cy="679.5" r="4.75"/><circle cx="968.3" cy="679.5" r="4.75"/><circle cx="970.9" cy="679.5" r="4.75"/><circle cx="973.4" cy="679.5" r="4.75"/><circle cx="975.9" cy="679.5" r="4.75"/><circle cx="978.5" cy="679.5" r="4.75"/><circle cx="981" cy="679.5" r="4.75"/><circle cx="983.5" cy="679.5" r="4.75"/><circle cx="986.1" cy="679.5" r="4.75"/><circle cx="988.6" cy="679.5" r="4.75"/><circle cx="991.1" cy="679.5" r="4.75"/><circle cx="993.7" cy="679.5" r="4.75"/><circle cx="996.2" cy="679.5" r="4.75"/><circle cx="998.8" cy="679.5" r="4.75"/><circle cx="1001.3" cy="679.5" r="4.75"/><circle cx="1003.8" cy="679.5" r="4.75"/><circle cx="1006.4" cy="679.5" r="4.75"/><circle cx="1008.9" cy="679.5" r="4.75"/><circle cx="1011.5" cy="679.5" r="4.75"/><circle cx="1014" cy="679.5" r="4.75"/><circle cx="1016.5" cy="679.5" r="4.75"/><circle cx="1019.1" cy="679.5" r="4.75"/><circle cx="1021.6" cy="679.5" r="4.75"/><circle cx="1024.1" cy="679.5" r="4.75"/><circle cx="1026.7" cy="679.5" r="4.75"/><circle cx="1029.2" cy="679.5" r="4.75"/><circle cx="1031.8" cy="679.5" r="4.75"/><circle cx="1034.3" cy="679.5" r="4.75"/><circle cx="1036.8" cy="679.5" r="4.75"/><circle cx="1039.4" cy="679.5" r="4.75"/><circle cx="1041.9" cy="679.5" r="4.75"/><circle cx="1044.4" cy="677" r="4.75"/><circle cx="1047" cy="669.6" r="4.75"/><circle cx="1049.5" cy="638.5" r="4.75"/><circle cx="1052" cy="580.1" r="4.75"/><circle cx="1054.6" cy="509.3" r="4.75"/><circle cx="1057.1" cy="447.2" r="4.75"/><circle cx="1059.7" cy="382.7" r="4.75"/><circle cx="1062.2" cy="323" r="4.75"/><circle cx="1064.7" cy="272.1" r="4.75"/><circle cx="1067.3" cy="249.8" r="4.75"/><circle cx="1069.8" cy="223.7" r="4.75"/><circle cx="1072.3" cy="198.8" r="4.75"/><circle cx="1074.9" cy="171.5" r="4.75"/><circle cx="1077.4" cy="152.9" r="4.75"/><circle cx="1080" cy="143" r="4.75"/><circle cx="1082.5" cy="140.2" r="4.75"/><circle cx="1085" cy="139.8" r="4.75"/><circle cx="1087.6" cy="141.7" r="4.75"/><circle cx="1090.1" cy="141.7" r="4.75"/><circle cx="1092.7" cy="139.3" r="4.75"/><circle cx="1095.2" cy="136.1" r="4.75"/><circle cx="1097.7" cy="131.4" r="4.75"/><circle cx="1100.3" cy="127.4" r="4.75"/><circle cx="1102.8" cy="128.5" r="4.75"/><circle cx="1105.3" cy="130.4" r="4.75"/><circle cx="1107.9" cy="132.9" r="4.75"/><circle cx="1110.4" cy="129.8" r="4.75"/><circle cx="1113" cy="124.1" r="4.75"/><circle cx="1115.5" cy="121.7" r="4.75"/><circle cx="1118" cy="123.1" r="4.75"/><circle cx="1120.6" cy="124.2" r="4.75"/><circle cx="1123.1" cy="123" r="4.75"/><circle cx="1125.6" cy="121.5" r="4.75"/><circle cx="1128.2" cy="122.7" r="4.75"/><circle cx="1130.7" cy="126.1" r="4.75"/><circle cx="1133.2" cy="127.4" r="4.75"/><circle cx="1135.8" cy="125.8" r="4.75"/><circle cx="1138.3" cy="125.6" r="4.75"/><circle cx="1140.9" cy="127.2" r="4.75"/><circle cx="1143.4" cy="126.6" r="4.75"/><circle cx="1145.9" cy="124.1" r="4.75"/><circle cx="1148.5" cy="122.7" r="4.75"/><circle cx="1151" cy="123" r="4.75"/><circle cx="1153.5" cy="122.8" r="4.75"/><circle cx="1156.1" cy="121.2" r="4.75"/><circle cx="1158.6" cy="120.3" r="4.75"/><circle cx="1161.2" cy="120.7" r="4.75"/><circle cx="1163.7" cy="121" r="4.75"/><circle cx="1166.2" cy="122.3" r="4.75"/><circle cx="1168.8" cy="127.7" r="4.75"/><circle cx="1171.3" cy="134.7" r="4.75"/><circle cx="1173.8" cy="134.9" r="4.75"/><circle cx="1176.4" cy="125.1" r="4.75"/><circle cx="1178.9" cy="115.1" r="4.75"/><circle cx="1181.5" cy="113.9" r="4.75"/><circle cx="1184" cy="118.4" r="4.75"/><circle cx="1186.5" cy="122.5" r="4.75"/><circle cx="1189.1" cy="126" r="4.75"/><circle cx="1191.6" cy="127.9" r="4.75"/><circle cx="1194.2" cy="126" r="4.75"/><circle cx="1196.7" cy="119.9" r="4.75"/><circle cx="1199.2" cy="113.7" r="4.75"/><circle cx="1201.8" cy="111.7" r="4.75"/><circle cx="1204.3" cy="113.9" r="4.75"/><circle cx="1206.8" cy="117.5" r="4.75"/><circle cx="1209.4" cy="120.1" r="4.75"/><circle cx="1211.9" cy="122.3" r="4.75"/><circle cx="1214.5" cy="124.6" r="4.75"/><circle cx="1217" cy="125" r="4.75"/><circle cx="1219.5" cy="121.5" r="4.75"/><circle cx="1222.1" cy="116.4" r="4.75"/><circle cx="1224.6" cy="114.1" r="4.75"/><circle cx="1227.1" cy="115.5" r="4.75"/><circle cx="1229.7" cy="117.9" r="4.75"/><circle cx="1232.2" cy="120.7" r="4.75"/><circle cx="1234.8" cy="126.1" r="4.75"/><circle cx="1237.3" cy="133.9" r="4.75"/><circle cx="1239.8" cy="139.3" r="4.75"/><circle cx="1242.4" cy="138.8" r="4.75"/><circle cx="1244.9" cy="135.3" r="4.75"/><circle cx="1247.4" cy="132.2" r="4.75"/><circle cx="1250" cy="129.7" r="4.75"/><circle cx="1252.5" cy="127.8" r="4.75"/><circle cx="1255" cy="126.3" r="4.75"/><circle cx="1257.6" cy="125.4" r="4.75"/><circle cx="1260.1" cy="125.5" r="4.75"/><circle cx="1262.7" cy="124.3" r="4.75"/><circle cx="1265.2" cy="122" r="4.75"/><circle cx="1267.7" cy="121.5" r="4.75"/><circle cx="1270.3" cy="121.6" r="4.75"/><circle cx="1272.8" cy="120.9" r="4.75"/><circle cx="1275.3" cy="121.8" r="4.75"/><circle cx="1277.9" cy="124.1" r="4.75"/><circle cx="1280.4" cy="124.4" r="4.75"/><circle cx="1283" cy="123.1" r="4.75"/><circle cx="1285.5" cy="123.5" r="4.75"/><circle cx="1288" cy="125" r="4.75"/><circle cx="1290.6" cy="125" r="4.75"/><circle cx="1293.1" cy="124" r="4.75"/><circle cx="1295.7" cy="123.3" r="4.75"/><circle cx="1298.2" cy="124.3" r="4.75"/><circle cx="1300.7" cy="126.7" r="4.75"/><circle cx="1303.3" cy="126.9" r="4.75"/><circle cx="1305.8" cy="123.5" r="4.75"/><circle cx="1308.3" cy="120.3" r="4.75"/><circle cx="1310.9" cy="119.5" r="4.75"/><circle cx="1313.4" cy="119.4" r="4.75"/><circle cx="1316" cy="118" r="4.75"/><circle cx="1318.5" cy="115.3" r="4.75"/><circle cx="1321" cy="114.7" r="4.75"/><circle cx="1323.6" cy="116.5" r="4.75"/><circle cx="1326.1" cy="116.3" r="4.75"/><circle cx="1328.6" cy="114.1" r="4.75"/><circle cx="1331.2" cy="114.5" r="4.75"/><circle cx="1333.7" cy="119" r="4.75"/><circle cx="1336.2" cy="123.1" r="4.75"/><circle cx="1338.8" cy="124.6" r="4.75"/><circle cx="1341.3" cy="126.3" r="4.75"/><circle cx="1343.9" cy="129.1" r="4.75"/><circle cx="1346.4" cy="129" r="4.75"/><circle cx="1348.9" cy="125.5" r="4.75"/><circle cx="1351.5" cy="121.8" r="4.75"/><circle cx="1354" cy="122" r="4.75"/><circle cx="1356.5" cy="125.2" r="4.75"/><circle cx="1359.1" cy="129.1" r="4.75"/><circle cx="1361.6" cy="133" r="4.75"/><circle cx="1364.2" cy="136.7" r="4.75"/><circle cx="1366.7" cy="154.1" r="4.75"/><circle cx="1369.2" cy="195.1" r="4.75"/><circle cx="1371.8" cy="222.4" r="4.75"/><circle cx="1374.3" cy="260.9" r="4.75"/><circle cx="1376.8" cy="321.8" r="4.75"/><circle cx="1379.4" cy="362.8" r="4.75"/><circle cx="1381.9" cy="406.3" r="4.75"/><circle cx="1384.5" cy="451" r="4.75"/><circle cx="1387" cy="485.7" r="4.75"/><circle cx="1389.5" cy="514.3" r="4.75"/><circle cx="1392.1" cy="545.4" r="4.75"/><circle cx="1394.6" cy="566.5" r="4.75"/><circle cx="1397.2" cy="588.8" r="4.75"/><circle cx="1399.7" cy="605" r="4.75"/><circle cx="1402.2" cy="616.2" r="4.75"/><circle cx="1404.8" cy="629.8" r="4.75"/><circle cx="1407.3" cy="641" r="4.75"/><circle cx="1409.8" cy="647.2" r="4.75"/><circle cx="1412.4" cy="652.2" r="4.75"/><circle cx="1414.9" cy="657.2" r="4.75"/><circle cx="1417.4" cy="660.9" r="4.75"/><circle cx="1420" cy="664" r="4.75"/><circle cx="1422.5" cy="666.4" r="4.75"/><circle cx="1425.1" cy="668.2" r="4.75"/><circle cx="1427.6" cy="669.5" r="4.75"/><circle cx="1430.1" cy="670.5" r="4.75"/><circle cx="1432.7" cy="671.1" r="4.75"/><circle cx="1435.2" cy="671.6" r="4.75"/><circle cx="1437.8" cy="671.9" r="4.75"/><circle cx="1440.3" cy="672.3" r="4.75"/><circle cx="1442.8" cy="672.8" r="4.75"/><circle cx="1445.4" cy="673.3" r="4.75"/><circle cx="1447.9" cy="673.7" r="4.75"/><circle cx="1450.4" cy="673.9" r="4.75"/><circle cx="1453" cy="674" r="4.75"/><circle cx="1455.5" cy="674" r="4.75"/><circle cx="1458" cy="674" r="4.75"/><circle cx="1460.6" cy="674" r="4.75"/><circle cx="1463.1" cy="674.2" r="4.75"/><circle cx="1465.7" cy="674.4" r="4.75"/><circle cx="1468.2" cy="674.6" r="4.75"/><circle cx="1470.7" cy="674.9" r="4.75"/><circle cx="1473.3" cy="675" r="4.75"/><circle cx="1475.8" cy="674.9" r="4.75"/><circle cx="1478.3" cy="674.6" r="4.75"/><circle cx="1480.9" cy="674" r="4.75"/><circle cx="1483.4" cy="673.3" r="4.75"/><circle cx="1486" cy="672.8" r="4.75"/><circle cx="1488.5" cy="672.7" r="4.75"/>
</g>
<g fill="none" stroke="#77AC30" stroke-width="2.5">
<circle cx="879.5" cy="679.5" r="4.75"/><circle cx="882" cy="679.5" r="4.75"/><circle cx="884.6" cy="679.5" r="4.75"/><circle cx="887.1" cy="679.5" r="4.75"/><circle cx="889.6" cy="679.5" r="4.75"/><circle cx="892.2" cy="679.5" r="4.75"/><circle cx="894.7" cy="679.5" r="4.75"/><circle cx="897.3" cy="679.5" r="4.75"/><circle cx="899.8" cy="679.5" r="4.75"/><circle cx="902.3" cy="679.5" r="4.75"/><circle cx="904.9" cy="679.5" r="4.75"/><circle cx="907.4" cy="679.5" r="4.75"/><circle cx="910" cy="679.5" r="4.75"/><circle cx="912.5" cy="679.5" r="4.75"/><circle cx="915" cy="679.5" r="4.75"/><circle cx="917.6" cy="679.5" r="4.75"/><circle cx="920.1" cy="679.5" r="4.75"/><circle cx="922.6" cy="679.5" r="4.75"/><circle cx="925.2" cy="679.5" r="4.75"/><circle cx="927.7" cy="679.5" r="4.75"/><circle cx="930.2" cy="679.5" r="4.75"/><circle cx="932.8" cy="679.5" r="4.75"/><circle cx="935.3" cy="679.5" r="4.75"/><circle cx="937.9" cy="679.5" r="4.75"/><circle cx="940.4" cy="679.5" r="4.75"/><circle cx="942.9" cy="679.5" r="4.75"/><circle cx="945.5" cy="679.5" r="4.75"/><circle cx="948" cy="679.5" r="4.75"/><circle cx="950.5" cy="679.5" r="4.75"/><circle cx="953.1" cy="679.5" r="4.75"/><circle cx="955.6" cy="679.5" r="4.75"/><circle cx="958.2" cy="679.5" r="4.75"/><circle cx="960.7" cy="679.5" r="4.75"/><circle cx="963.2" cy="679.5" r="4.75"/><circle cx="965.8" cy="679.5" r="4.75"/><circle cx="968.3" cy="679.5" r="4.75"/><circle cx="970.9" cy="679.5" r="4.75"/><circle cx="973.4" cy="679.5" r="4.75"/><circle cx="975.9" cy="679.5" r="4.75"/><circle cx="978.5" cy="679.5" r="4.75"/><circle cx="981" cy="679.5" r="4.75"/><circle cx="983.5" cy="679.5" r="4.75"/><circle cx="986.1" cy="679.5" r="4.75"/><circle cx="988.6" cy="679.5" r="4.75"/><circle cx="991.1" cy="679.5" r="4.75"/><circle cx="993.7" cy="679.5" r="4.75"/><circle cx="996.2" cy="679.5" r="4.75"/><circle cx="998.8" cy="679.5" r="4.75"/><circle cx="1001.3" cy="679.5" r="4.75"/><circle cx="1003.8" cy="679.5" r="4.75"/><circle cx="1006.4" cy="679.5" r="4.75"/><circle cx="1008.9" cy="679.5" r="4.75"/><circle cx="1011.5" cy="679.5" r="4.75"/><circle cx="1014" cy="679.5" r="4.75"/><circle cx="1016.5" cy="679.5" r="4.75"/><circle cx="1019.1" cy="679.5" r="4.75"/><circle cx="1021.6" cy="679.5" r="4.75"/><circle cx="1024.1" cy="679.5" r="4.75"/><circle cx="1026.7" cy="679.5" r="4.75"/><circle cx="1029.2" cy="679.5" r="4.75"/><circle cx="1031.8" cy="407.5" r="4.75"/><circle cx="1034.3" cy="309.4" r="4.75"/><circle cx="1036.8" cy="221.2" r="4.75"/><circle cx="1039.4" cy="157.9" r="4.75"/><circle cx="1041.9" cy="125.6" r="4.75"/><circle cx="1044.4" cy="114.4" r="4.75"/><circle cx="1047" cy="104.5" r="4.75"/><circle cx="1049.5" cy="106.9" r="4.75"/><circle cx="1052" cy="109.4" r="4.75"/><circle cx="1054.6" cy="115.6" r="4.75"/><circle cx="1057.1" cy="120.6" r="4.75"/><circle cx="1059.7" cy="126.8" r="4.75"/><circle cx="1062.2" cy="131.8" r="4.75"/><circle cx="1064.7" cy="138" r="4.75"/><circle cx="1067.3" cy="140.5" r="4.75"/><circle cx="1069.8" cy="134.3" r="4.75"/><circle cx="1072.3" cy="128.1" r="4.75"/><circle cx="1074.9" cy="120.6" r="4.75"/><circle cx="1077.4" cy="116.9" r="4.75"/><circle cx="1080" cy="116.9" r="4.75"/><circle cx="1082.5" cy="116" r="4.75"/><circle cx="1085" cy="114.3" r="4.75"/><circle cx="1087.6" cy="114.3" r="4.75"/><circle cx="1090.1" cy="118.5" r="4.75"/><circle cx="1092.7" cy="123.2" r="4.75"/><circle cx="1095.2" cy="125.1" r="4.75"/><circle cx="1097.7" cy="123.3" r="4.75"/><circle cx="1100.3" cy="118.8" r="4.75"/><circle cx="1102.8" cy="114.3" r="4.75"/><circle cx="1105.3" cy="112" r="4.75"/><circle cx="1107.9" cy="112.3" r="4.75"/><circle cx="1110.4" cy="113.9" r="4.75"/><circle cx="1113" cy="115.5" r="4.75"/><circle cx="1115.5" cy="117.4" r="4.75"/><circle cx="1118" cy="120" r="4.75"/><circle cx="1120.6" cy="122.9" r="4.75"/><circle cx="1123.1" cy="125.5" r="4.75"/><circle cx="1125.6" cy="126.1" r="4.75"/><circle cx="1128.2" cy="123.5" r="4.75"/><circle cx="1130.7" cy="118.9" r="4.75"/><circle cx="1133.2" cy="115" r="4.75"/><circle cx="1135.8" cy="112.7" r="4.75"/><circle cx="1138.3" cy="111.5" r="4.75"/><circle cx="1140.9" cy="112.2" r="4.75"/><circle cx="1143.4" cy="116" r="4.75"/><circle cx="1145.9" cy="121.4" r="4.75"/><circle cx="1148.5" cy="124.6" r="4.75"/><circle cx="1151" cy="123.8" r="4.75"/><circle cx="1153.5" cy="121.2" r="4.75"/><circle cx="1156.1" cy="119.6" r="4.75"/><circle cx="1158.6" cy="119.6" r="4.75"/><circle cx="1161.2" cy="119.4" r="4.75"/><circle cx="1163.7" cy="118.9" r="4.75"/><circle cx="1166.2" cy="119.5" r="4.75"/><circle cx="1168.8" cy="121.2" r="4.75"/><circle cx="1171.3" cy="123" r="4.75"/><circle cx="1173.8" cy="123.4" r="4.75"/><circle cx="1176.4" cy="122.1" r="4.75"/><circle cx="1178.9" cy="120.2" r="4.75"/><circle cx="1181.5" cy="120" r="4.75"/><circle cx="1184" cy="122.1" r="4.75"/><circle cx="1186.5" cy="125" r="4.75"/><circle cx="1189.1" cy="123.6" r="4.75"/><circle cx="1191.6" cy="132.5" r="4.75"/><circle cx="1194.2" cy="131.3" r="4.75"/><circle cx="1196.7" cy="125.4" r="4.75"/><circle cx="1199.2" cy="122.2" r="4.75"/><circle cx="1201.8" cy="125.6" r="4.75"/><circle cx="1204.3" cy="132.6" r="4.75"/><circle cx="1206.8" cy="135.7" r="4.75"/><circle cx="1209.4" cy="133.3" r="4.75"/><circle cx="1211.9" cy="127.8" r="4.75"/><circle cx="1214.5" cy="122.4" r="4.75"/><circle cx="1217" cy="120.3" r="4.75"/><circle cx="1219.5" cy="122.5" r="4.75"/><circle cx="1222.1" cy="124.5" r="4.75"/><circle cx="1224.6" cy="122.8" r="4.75"/><circle cx="1227.1" cy="119.3" r="4.75"/><circle cx="1229.7" cy="115.6" r="4.75"/><circle cx="1232.2" cy="112.7" r="4.75"/><circle cx="1234.8" cy="113.6" r="4.75"/><circle cx="1237.3" cy="115.5" r="4.75"/><circle cx="1239.8" cy="114.7" r="4.75"/><circle cx="1242.4" cy="115.8" r="4.75"/><circle cx="1244.9" cy="121.9" r="4.75"/><circle cx="1247.4" cy="128.8" r="4.75"/><circle cx="1250" cy="128.6" r="4.75"/><circle cx="1252.5" cy="121.5" r="4.75"/><circle cx="1255" cy="117.2" r="4.75"/><circle cx="1257.6" cy="118.4" r="4.75"/><circle cx="1260.1" cy="119.6" r="4.75"/><circle cx="1262.7" cy="120.4" r="4.75"/><circle cx="1265.2" cy="125.9" r="4.75"/><circle cx="1267.7" cy="134.7" r="4.75"/><circle cx="1270.3" cy="138.2" r="4.75"/><circle cx="1272.8" cy="136.8" r="4.75"/><circle cx="1275.3" cy="138.5" r="4.75"/><circle cx="1277.9" cy="141.8" r="4.75"/><circle cx="1280.4" cy="141.5" r="4.75"/><circle cx="1283" cy="138.7" r="4.75"/><circle cx="1285.5" cy="136.1" r="4.75"/><circle cx="1288" cy="132.3" r="4.75"/><circle cx="1290.6" cy="127.5" r="4.75"/><circle cx="1293.1" cy="123.7" r="4.75"/><circle cx="1295.7" cy="119.6" r="4.75"/><circle cx="1298.2" cy="116.9" r="4.75"/><circle cx="1300.7" cy="119.7" r="4.75"/><circle cx="1303.3" cy="125.9" r="4.75"/><circle cx="1305.8" cy="128.8" r="4.75"/><circle cx="1308.3" cy="127.1" r="4.75"/><circle cx="1310.9" cy="127.3" r="4.75"/><circle cx="1313.4" cy="131.5" r="4.75"/><circle cx="1316" cy="133.9" r="4.75"/><circle cx="1318.5" cy="136.4" r="4.75"/><circle cx="1321" cy="141.6" r="4.75"/><circle cx="1323.6" cy="141.5" r="4.75"/><circle cx="1326.1" cy="132" r="4.75"/><circle cx="1328.6" cy="121" r="4.75"/><circle cx="1331.2" cy="114.4" r="4.75"/><circle cx="1333.7" cy="112.3" r="4.75"/><circle cx="1336.2" cy="116.4" r="4.75"/><circle cx="1338.8" cy="136.7" r="4.75"/><circle cx="1341.3" cy="161.6" r="4.75"/><circle cx="1343.9" cy="191.4" r="4.75"/><circle cx="1346.4" cy="236.1" r="4.75"/><circle cx="1348.9" cy="294.5" r="4.75"/><circle cx="1351.5" cy="356.6" r="4.75"/><circle cx="1354" cy="419.9" r="4.75"/><circle cx="1356.5" cy="482" r="4.75"/><circle cx="1359.1" cy="529.2" r="4.75"/><circle cx="1361.6" cy="566.5" r="4.75"/><circle cx="1364.2" cy="598.8" r="4.75"/><circle cx="1366.7" cy="618.6" r="4.75"/><circle cx="1369.2" cy="632.3" r="4.75"/><circle cx="1371.8" cy="643.5" r="4.75"/><circle cx="1374.3" cy="653.4" r="4.75"/><circle cx="1376.8" cy="660.9" r="4.75"/><circle cx="1379.4" cy="666.1" r="4.75"/><circle cx="1381.9" cy="667.6" r="4.75"/><circle cx="1384.5" cy="668.6" r="4.75"/><circle cx="1387" cy="669.1" r="4.75"/><circle cx="1389.5" cy="669.4" r="4.75"/><circle cx="1392.1" cy="669.6" r="4.75"/><circle cx="1394.6" cy="669.7" r="4.75"/><circle cx="1397.2" cy="670" r="4.75"/><circle cx="1399.7" cy="670.3" r="4.75"/><circle cx="1402.2" cy="670.7" r="4.75"/><circle cx="1404.8" cy="671" r="4.75"/><circle cx="1407.3" cy="671.3" r="4.75"/><circle cx="1409.8" cy="671.5" r="4.75"/><circle cx="1412.4" cy="671.7" r="4.75"/><circle cx="1414.9" cy="671.8" r="4.75"/><circle cx="1417.4" cy="672" r="4.75"/><circle cx="1420" cy="672.3" r="4.75"/><circle cx="1422.5" cy="672.5" r="4.75"/><circle cx="1425.1" cy="672.4" r="4.75"/><circle cx="1427.6" cy="672.2" r="4.75"/><circle cx="1430.1" cy="671.9" r="4.75"/><circle cx="1432.7" cy="671.7" r="4.75"/><circle cx="1435.2" cy="671.7" r="4.75"/><circle cx="1437.8" cy="671.8" r="4.75"/><circle cx="1440.3" cy="671.9" r="4.75"/><circle cx="1442.8" cy="672" r="4.75"/><circle cx="1445.4" cy="672.2" r="4.75"/><circle cx="1447.9" cy="672.3" r="4.75"/><circle cx="1450.4" cy="672.2" r="4.75"/><circle cx="1453" cy="672.1" r="4.75"/><circle cx="1455.5" cy="671.9" r="4.75"/><circle cx="1458" cy="671.7" r="4.75"/><circle cx="1460.6" cy="671.7" r="4.75"/><circle cx="1463.1" cy="671.7" r="4.75"/><circle cx="1465.7" cy="671.7" r="4.75"/><circle cx="1468.2" cy="671.7" r="4.75"/><circle cx="1470.7" cy="671.9" r="4.75"/><circle cx="1473.3" cy="672.3" r="4.75"/><circle cx="1475.8" cy="672.9" r="4.75"/><circle cx="1478.3" cy="673.4" r="4.75"/><circle cx="1480.9" cy="673.7" r="4.75"/><circle cx="1483.4" cy="673.7" r="4.75"/><circle cx="1486" cy="673.3" r="4.75"/><circle cx="1488.5" cy="672.8" r="4.75"/>
</g>
<g fill="none" stroke="#7E2F8E" stroke-width="2.5">
<circle cx="879.5" cy="679.5" r="4.75"/><circle cx="882" cy="679.5" r="4.75"/><circle cx="884.6" cy="679.5" r="4.75"/><circle cx="887.1" cy="679.5" r="4.75"/><circle cx="889.6" cy="679.5" r="4.75"/><circle cx="892.2" cy="679.5" r="4.75"/><circle cx="894.7" cy="679.5" r="4.75"/><circle cx="897.3" cy="679.5" r="4.75"/><circle cx="899.8" cy="679.5" r="4.75"/><circle cx="902.3" cy="679.5" r="4.75"/><circle cx="904.9" cy="679.5" r="4.75"/><circle cx="907.4" cy="679.5" r="4.75"/><circle cx="910" cy="679.5" r="4.75"/><circle cx="912.5" cy="679.5" r="4.75"/><circle cx="915" cy="679.5" r="4.75"/><circle cx="917.6" cy="679.5" r="4.75"/><circle cx="920.1" cy="679.5" r="4.75"/><circle cx="922.6" cy="679.5" r="4.75"/><circle cx="925.2" cy="679.5" r="4.75"/><circle cx="927.7" cy="679.5" r="4.75"/><circle cx="930.2" cy="679.5" r="4.75"/><circle cx="932.8" cy="679.5" r="4.75"/><circle cx="935.3" cy="679.5" r="4.75"/><circle cx="937.9" cy="679.5" r="4.75"/><circle cx="940.4" cy="679.5" r="4.75"/><circle cx="942.9" cy="679.5" r="4.75"/><circle cx="945.5" cy="679.5" r="4.75"/><circle cx="948" cy="679.5" r="4.75"/><circle cx="950.5" cy="679.5" r="4.75"/><circle cx="953.1" cy="679.5" r="4.75"/><circle cx="955.6" cy="679.5" r="4.75"/><circle cx="958.2" cy="679.5" r="4.75"/><circle cx="960.7" cy="679.5" r="4.75"/><circle cx="963.2" cy="679.5" r="4.75"/><circle cx="965.8" cy="679.5" r="4.75"/><circle cx="968.3" cy="679.5" r="4.75"/><circle cx="970.9" cy="679.5" r="4.75"/><circle cx="973.4" cy="679.5" r="4.75"/><circle cx="975.9" cy="679.5" r="4.75"/><circle cx="978.5" cy="679.5" r="4.75"/><circle cx="981" cy="679.5" r="4.75"/><circle cx="983.5" cy="679.5" r="4.75"/><circle cx="986.1" cy="679.5" r="4.75"/><circle cx="988.6" cy="679.5" r="4.75"/><circle cx="991.1" cy="679.5" r="4.75"/><circle cx="993.7" cy="679.5" r="4.75"/><circle cx="996.2" cy="679.5" r="4.75"/><circle cx="998.8" cy="679.5" r="4.75"/><circle cx="1001.3" cy="679.5" r="4.75"/><circle cx="1003.8" cy="679.5" r="4.75"/><circle cx="1006.4" cy="679.5" r="4.75"/><circle cx="1008.9" cy="679.5" r="4.75"/><circle cx="1011.5" cy="679.5" r="4.75"/><circle cx="1014" cy="679.5" r="4.75"/><circle cx="1016.5" cy="679.5" r="4.75"/><circle cx="1019.1" cy="679.5" r="4.75"/><circle cx="1021.6" cy="679.5" r="4.75"/><circle cx="1024.1" cy="679.5" r="4.75"/><circle cx="1026.7" cy="679.5" r="4.75"/><circle cx="1029.2" cy="679.5" r="4.75"/><circle cx="1031.8" cy="407.5" r="4.75"/><circle cx="1034.3" cy="309.4" r="4.75"/><circle cx="1036.8" cy="221.2" r="4.75"/><circle cx="1039.4" cy="157.9" r="4.75"/><circle cx="1041.9" cy="125.6" r="4.75"/><circle cx="1044.4" cy="114.4" r="4.75"/><circle cx="1047" cy="104.5" r="4.75"/><circle cx="1049.5" cy="106.9" r="4.75"/><circle cx="1052" cy="109.4" r="4.75"/><circle cx="1054.6" cy="115.6" r="4.75"/><circle cx="1057.1" cy="120.6" r="4.75"/><circle cx="1059.7" cy="126.8" r="4.75"/><circle cx="1062.2" cy="131.8" r="4.75"/><circle cx="1064.7" cy="138" r="4.75"/><circle cx="1067.3" cy="140.5" r="4.75"/><circle cx="1069.8" cy="134.3" r="4.75"/><circle cx="1072.3" cy="128.1" r="4.75" stroke-opacity="0.75"/><circle cx="1074.9" cy="120.6" r="4.75" stroke-opacity="0.75"/><circle cx="1077.4" cy="116.9" r="4.75" stroke-opacity="0.75"/><circle cx="1080" cy="116.9" r="4.75" stroke-opacity="0.75"/><circle cx="1082.5" cy="116" r="4.75" stroke-opacity="0.75"/><circle cx="1085" cy="114.3" r="4.75" stroke-opacity="0.75"/><circle cx="1087.6" cy="114.3" r="4.75" stroke-opacity="0.75"/><circle cx="1090.1" cy="118.5" r="4.75" stroke-opacity="0.75"/><circle cx="1092.7" cy="123.2" r="4.75" stroke-opacity="0.75"/><circle cx="1095.2" cy="125.1" r="4.75" stroke-opacity="0.75"/><circle cx="1097.7" cy="123.3" r="4.75" stroke-opacity="0.75"/><circle cx="1100.3" cy="118.8" r="4.75" stroke-opacity="0.75"/><circle cx="1102.8" cy="114.3" r="4.75" stroke-opacity="0.75"/><circle cx="1105.3" cy="112" r="4.75" stroke-opacity="0.75"/><circle cx="1107.9" cy="112.3" r="4.75" stroke-opacity="0.75"/><circle cx="1110.4" cy="113.9" r="4.75" stroke-opacity="0.75"/><circle cx="1113" cy="115.5" r="4.75" stroke-opacity="0.75"/><circle cx="1115.5" cy="117.4" r="4.75" stroke-opacity="0.75"/><circle cx="1118" cy="120" r="4.75" stroke-opacity="0.75"/><circle cx="1120.6" cy="122.9" r="4.75" stroke-opacity="0.75"/><circle cx="1123.1" cy="125.5" r="4.75" stroke-opacity="0.75"/><circle cx="1125.6" cy="126.1" r="4.75" stroke-opacity="0.75"/><circle cx="1128.2" cy="123.5" r="4.75" stroke-opacity="0.75"/><circle cx="1130.7" cy="118.9" r="4.75" stroke-opacity="0.75"/><circle cx="1133.2" cy="115" r="4.75" stroke-opacity="0.75"/><circle cx="1135.8" cy="112.7" r="4.75" stroke-opacity="0.75"/><circle cx="1138.3" cy="111.5" r="4.75" stroke-opacity="0.75"/><circle cx="1140.9" cy="112.2" r="4.75" stroke-opacity="0.75"/><circle cx="1143.4" cy="116" r="4.75" stroke-opacity="0.75"/><circle cx="1145.9" cy="121.4" r="4.75" stroke-opacity="0.75"/><circle cx="1148.5" cy="124.6" r="4.75" stroke-opacity="0.75"/><circle cx="1151" cy="123.8" r="4.75" stroke-opacity="0.75"/><circle cx="1153.5" cy="121.2" r="4.75" stroke-opacity="0.75"/><circle cx="1156.1" cy="119.6" r="4.75" stroke-opacity="0.75"/><circle cx="1158.6" cy="119.6" r="4.75" stroke-opacity="0.75"/><circle cx="1161.2" cy="119.4" r="4.75" stroke-opacity="0.75"/><circle cx="1163.7" cy="118.9" r="4.75" stroke-opacity="0.75"/><circle cx="1166.2" cy="119.5" r="4.75" stroke-opacity="0.75"/><circle cx="1168.8" cy="121.2" r="4.75" stroke-opacity="0.75"/><circle cx="1171.3" cy="123" r="4.75" stroke-opacity="0.75"/><circle cx="1173.8" cy="123.4" r="4.75" stroke-opacity="0.75"/><circle cx="1176.4" cy="122.1" r="4.75" stroke-opacity="0.75"/><circle cx="1178.9" cy="120.2" r="4.75" stroke-opacity="0.75"/><circle cx="1181.5" cy="120" r="4.75" stroke-opacity="0.75"/><circle cx="1184" cy="122.1" r="4.75" stroke-opacity="0.75"/><circle cx="1186.5" cy="125" r="4.75" stroke-opacity="0.75"/><circle cx="1189.1" cy="123.6" r="4.75" stroke-opacity="0.75"/><circle cx="1191.6" cy="133.7" r="4.75" stroke-opacity="0.75"/><circle cx="1194.2" cy="138.1" r="4.75" stroke-opacity="0.75"/><circle cx="1196.7" cy="137.3" r="4.75" stroke-opacity="0.75"/><circle cx="1199.2" cy="133.8" r="4.75" stroke-opacity="0.75"/><circle cx="1201.8" cy="123.2" r="4.75" stroke-opacity="0.75"/><circle cx="1204.3" cy="115.3" r="4.75" stroke-opacity="0.75"/><circle cx="1206.8" cy="116" r="4.75" stroke-opacity="0.75"/><circle cx="1209.4" cy="117.5" r="4.75" stroke-opacity="0.75"/><circle cx="1211.9" cy="118.7" r="4.75" stroke-opacity="0.75"/><circle cx="1214.5" cy="118.4" r="4.75" stroke-opacity="0.75"/><circle cx="1217" cy="120.6" r="4.75" stroke-opacity="0.75"/><circle cx="1219.5" cy="130.1" r="4.75" stroke-opacity="0.75"/><circle cx="1222.1" cy="131.9" r="4.75" stroke-opacity="0.75"/><circle cx="1224.6" cy="113.8" r="4.75" stroke-opacity="0.75"/><circle cx="1227.1" cy="94.7" r="4.75" stroke-opacity="0.75"/><circle cx="1229.7" cy="87.2" r="4.75" stroke-opacity="0.75"/><circle cx="1232.2" cy="93.1" r="4.75" stroke-opacity="0.75"/><circle cx="1234.8" cy="109.8" r="4.75" stroke-opacity="0.75"/><circle cx="1237.3" cy="122.5" r="4.75" stroke-opacity="0.75"/><circle cx="1239.8" cy="130.6" r="4.75" stroke-opacity="0.75"/><circle cx="1242.4" cy="133.6" r="4.75" stroke-opacity="0.75"/><circle cx="1244.9" cy="130.4" r="4.75" stroke-opacity="0.75"/><circle cx="1247.4" cy="126.5" r="4.75" stroke-opacity="0.75"/><circle cx="1250" cy="130.8" r="4.75" stroke-opacity="0.75"/><circle cx="1252.5" cy="137.1" r="4.75" stroke-opacity="0.75"/><circle cx="1255" cy="139.2" r="4.75" stroke-opacity="0.75"/><circle cx="1257.6" cy="140" r="4.75" stroke-opacity="0.75"/><circle cx="1260.1" cy="135" r="4.75" stroke-opacity="0.75"/><circle cx="1262.7" cy="127.4" r="4.75" stroke-opacity="0.75"/><circle cx="1265.2" cy="126.5" r="4.75" stroke-opacity="0.75"/><circle cx="1267.7" cy="122.3" r="4.75" stroke-opacity="0.75"/><circle cx="1270.3" cy="115.1" r="4.75" stroke-opacity="0.75"/><circle cx="1272.8" cy="118.8" r="4.75" stroke-opacity="0.75"/><circle cx="1275.3" cy="131" r="4.75" stroke-opacity="0.75"/><circle cx="1277.9" cy="138.3" r="4.75" stroke-opacity="0.75"/><circle cx="1280.4" cy="135.7" r="4.75" stroke-opacity="0.75"/><circle cx="1283" cy="131.8" r="4.75" stroke-opacity="0.75"/><circle cx="1285.5" cy="128.7" r="4.75" stroke-opacity="0.75"/><circle cx="1288" cy="127.8" r="4.75" stroke-opacity="0.75"/><circle cx="1290.6" cy="128.3" r="4.75" stroke-opacity="0.75"/><circle cx="1293.1" cy="130.8" r="4.75" stroke-opacity="0.75"/><circle cx="1295.7" cy="130.4" r="4.75" stroke-opacity="0.75"/><circle cx="1298.2" cy="126.5" r="4.75" stroke-opacity="0.75"/><circle cx="1300.7" cy="126.2" r="4.75" stroke-opacity="0.75"/><circle cx="1303.3" cy="124.1" r="4.75" stroke-opacity="0.75"/><circle cx="1305.8" cy="116.8" r="4.75" stroke-opacity="0.75"/><circle cx="1308.3" cy="116.9" r="4.75" stroke-opacity="0.75"/><circle cx="1310.9" cy="126" r="4.75" stroke-opacity="0.75"/><circle cx="1313.4" cy="133.3" r="4.75" stroke-opacity="0.75"/><circle cx="1316" cy="132.2" r="4.75" stroke-opacity="0.75"/><circle cx="1318.5" cy="124.6" r="4.75" stroke-opacity="0.75"/><circle cx="1321" cy="115.2" r="4.75" stroke-opacity="0.75"/><circle cx="1323.6" cy="108.4" r="4.75" stroke-opacity="0.75"/><circle cx="1326.1" cy="114.4" r="4.75" stroke-opacity="0.75"/><circle cx="1328.6" cy="157.9" r="4.75"/><circle cx="1331.2" cy="197.6" r="4.75"/><circle cx="1333.7" cy="246" r="4.75"/><circle cx="1336.2" cy="314.4" r="4.75"/><circle cx="1338.8" cy="396.3" r="4.75"/><circle cx="1341.3" cy="478.3" r="4.75"/><circle cx="1343.9" cy="552.8" r="4.75"/><circle cx="1346.4" cy="618.6" r="4.75"/><circle cx="1348.9" cy="644.7" r="4.75"/><circle cx="1351.5" cy="658.4" r="4.75"/><circle cx="1354" cy="668.3" r="4.75"/><circle cx="1356.5" cy="674.5" r="4.75"/><circle cx="1359.1" cy="677" r="4.75"/><circle cx="1361.6" cy="679.5" r="4.75"/><circle cx="1364.2" cy="679.5" r="4.75"/><circle cx="1366.7" cy="679.5" r="4.75"/><circle cx="1369.2" cy="679.5" r="4.75"/><circle cx="1371.8" cy="679.5" r="4.75"/><circle cx="1374.3" cy="679.5" r="4.75"/><circle cx="1376.8" cy="679.5" r="4.75"/><circle cx="1379.4" cy="679.5" r="4.75"/><circle cx="1381.9" cy="679.5" r="4.75"/><circle cx="1384.5" cy="679.5" r="4.75"/><circle cx="1387" cy="679.5" r="4.75"/><circle cx="1389.5" cy="679.5" r="4.75"/><circle cx="1392.1" cy="679.5" r="4.75"/><circle cx="1394.6" cy="679.5" r="4.75"/><circle cx="1397.2" cy="679.5" r="4.75"/><circle cx="1399.7" cy="679.5" r="4.75"/><circle cx="1402.2" cy="679.5" r="4.75"/><circle cx="1404.8" cy="679.5" r="4.75"/><circle cx="1407.3" cy="679.5" r="4.75"/><circle cx="1409.8" cy="679.5" r="4.75"/><circle cx="1412.4" cy="679.5" r="4.75"/><circle cx="1414.9" cy="679.5" r="4.75"/><circle cx="1417.4" cy="679.5" r="4.75"/><circle cx="1420" cy="679.5" r="4.75"/><circle cx="1422.5" cy="679.5" r="4.75"/><circle cx="1425.1" cy="679.5" r="4.75"/><circle cx="1427.6" cy="679.5" r="4.75"/><circle cx="1430.1" cy="679.5" r="4.75"/><circle cx="1432.7" cy="679.5" r="4.75"/><circle cx="1435.2" cy="679.5" r="4.75"/><circle cx="1437.8" cy="679.5" r="4.75"/><circle cx="1440.3" cy="679.5" r="4.75"/><circle cx="1442.8" cy="679.5" r="4.75"/><circle cx="1445.4" cy="679.5" r="4.75"/><circle cx="1447.9" cy="679.5" r="4.75"/><circle cx="1450.4" cy="679.5" r="4.75"/><circle cx="1453" cy="679.5" r="4.75"/><circle cx="1455.5" cy="679.5" r="4.75"/><circle cx="1458" cy="679.5" r="4.75"/><circle cx="1460.6" cy="679.5" r="4.75"/><circle cx="1463.1" cy="679.5" r="4.75"/><circle cx="1465.7" cy="679.5" r="4.75"/><circle cx="1468.2" cy="679.5" r="4.75"/><circle cx="1470.7" cy="679.5" r="4.75"/><circle cx="1473.3" cy="679.5" r="4.75"/><circle cx="1475.8" cy="679.5" r="4.75"/><circle cx="1478.3" cy="679.5" r="4.75"/><circle cx="1480.9" cy="679.5" r="4.75"/><circle cx="1483.4" cy="679.5" r="4.75"/><circle cx="1486" cy="679.5" r="4.75"/><circle cx="1488.5" cy="679.5" r="4.75"/>
</g>
<g font-family="'Liberation Serif','Times New Roman',serif" font-size="29.5" fill="#000">
<text transform="translate(879.5,716.8) scale(1,1.06)" text-anchor="middle">0</text>
<text transform="translate(955.6,716.8) scale(1,1.06)" text-anchor="middle">0.5</text>
<text transform="translate(1031.8,716.8) scale(1,1.06)" text-anchor="middle">1</text>
<text transform="translate(1107.9,716.8) scale(1,1.06)" text-anchor="middle">1.5</text>
<text transform="translate(1184,716.8) scale(1,1.06)" text-anchor="middle">2</text>
<text transform="translate(1260.1,716.8) scale(1,1.06)" text-anchor="middle">2.5</text>
<text transform="translate(1336.2,716.8) scale(1,1.06)" text-anchor="middle">3</text>
<text transform="translate(1412.4,716.8) scale(1,1.06)" text-anchor="middle">3.5</text>
<text transform="translate(1488.5,716.8) scale(1,1.06)" text-anchor="middle">4</text>
<text transform="translate(869.1,690.3) scale(1,1.06)" text-anchor="end">0</text>
<text transform="translate(869.1,566.1) scale(1,1.06)" text-anchor="end">10</text>
<text transform="translate(869.1,441.9) scale(1,1.06)" text-anchor="end">20</text>
<text transform="translate(869.1,317.7) scale(1,1.06)" text-anchor="end">30</text>
<text transform="translate(869.1,193.5) scale(1,1.06)" text-anchor="end">40</text>
<text transform="translate(869.1,69.3) scale(1,1.06)" text-anchor="end">50</text>
</g>
<text x="1184" y="755" text-anchor="middle" font-family="'Liberation Serif','Times New Roman',serif" font-size="32.4">Time (min)</text>
<text transform="translate(824.5,368) rotate(-90)" text-anchor="middle" font-family="'Liberation Serif','Times New Roman',serif" font-size="32">Activity concentration (kBq/mL)</text>
<text transform="translate(1182.7,50.6) scale(1,1.06)" text-anchor="middle" font-family="'Liberation Serif','Times New Roman',serif" font-size="29.1" font-weight="bold">ABSS#1, 300 to 180 mL/h</text>
<text x="848.6" y="30.9" font-family="'Liberation Serif','Times New Roman',serif" font-size="44" font-weight="bold">(B)</text>
<path d="M1073.4,543.2h73.5" stroke="#0072BD" stroke-width="3"/>
<circle cx="1110.1" cy="575.7" r="4.9" fill="none" stroke="#D95319" stroke-width="2"/>
<circle cx="1110.1" cy="608.2" r="4.9" fill="none" stroke="#77AC30" stroke-width="2"/>
<circle cx="1110.1" cy="640.7" r="4.9" fill="none" stroke="#7E2F8E" stroke-width="2"/>
<g font-family="'Liberation Serif','Times New Roman',serif" font-size="26">
<text x="1153.6" y="553.6">Input</text>
<text x="1153.6" y="586.1">Output</text>
<text x="1153.6" y="618.6">Fixed <tspan font-style="italic">δ</tspan> and <tspan font-style="italic">τ</tspan></text>
<text x="1153.6" y="651.1">Corrected</text>
</g>
<rect x="77.5" y="886.5" width="609" height="621" fill="none" stroke="#161616" stroke-width="1.2"/>
<path d="M77.5,1507.5v-6.3M77.5,886.5v6.3M153.5,1507.5v-6.3M153.5,886.5v6.3M229.5,1507.5v-6.3M229.5,886.5v6.3M305.5,1507.5v-6.3M305.5,886.5v6.3M382.5,1507.5v-6.3M382.5,886.5v6.3M458.5,1507.5v-6.3M458.5,886.5v6.3M534.5,1507.5v-6.3M534.5,886.5v6.3M610.5,1507.5v-6.3M610.5,886.5v6.3M686.5,1507.5v-6.3M686.5,886.5v6.3M77.5,1507.5h6.3M686.5,1507.5h-6.3M77.5,1418.5h6.3M686.5,1418.5h-6.3M77.5,1330.5h6.3M686.5,1330.5h-6.3M77.5,1241.5h6.3M686.5,1241.5h-6.3M77.5,1152.5h6.3M686.5,1152.5h-6.3M77.5,1063.5h6.3M686.5,1063.5h-6.3M77.5,975.5h6.3M686.5,975.5h-6.3M77.5,886.5h6.3M686.5,886.5h-6.3" stroke="#161616" stroke-width="1.2" fill="none"/>
<g>
<polygon points="77.5,1506.2 80,1506.2 82.6,1506.2 85.1,1506.2 87.7,1506.2 90.2,1506.2 92.7,1506.2 95.3,1506.2 97.8,1506.2 100.3,1506.2 102.9,1506.2 105.4,1506.2 108,1506.2 110.5,1506.2 113,1506.2 115.6,1506.2 118.1,1506.2 120.6,1506.2 123.2,1506.2 125.7,1506.2 128.2,1506.2 130.8,1506.2 133.3,1506.2 135.9,1506.2 138.4,1506.2 140.9,1506.2 143.5,1506.2 146,1506.2 148.6,1506.2 151.1,1506.2 153.6,1506.2 156.2,1506.2 158.7,1506.2 161.2,1506.2 163.8,1506.2 166.3,1506.2 168.8,1506.2 171.4,1506.2 173.9,1506.2 176.5,1506.2 179,1506.2 181.5,1506.2 184.1,1506.2 186.6,1506.2 189.1,1506.2 191.7,1506.2 194.2,1506.2 196.8,1506.2 199.3,1506.2 201.8,1506.2 204.4,1506.2 206.9,1506.2 209.5,1506.2 212,1506.2 214.5,1506.2 217.1,1506.2 219.6,1506.2 222.1,1506.2 224.7,1506.2 227.2,1506.2 229.8,1506.2 232.3,1506.2 234.8,1506.2 237.4,1505.9 239.9,1503.1 242.4,1493 245,1458.1 247.5,1393.4 250,1312.9 252.6,1235.1 255.1,1173.6 257.7,1116.4 260.2,1076.6 262.7,1030.2 265.3,1014.5 267.8,976.1 270.4,967.3 272.9,958.9 275.4,953.1 278,953.4 280.5,947.1 283,937.9 285.6,943.3 288.1,949.1 290.6,944.2 293.2,942 295.7,940.2 298.3,937.9 300.8,945.9 303.3,948.5 305.9,935.7 308.4,938.2 311,936.8 313.5,946.2 316,946.3 318.6,932.9 321.1,931 323.6,938.6 326.2,948.9 328.7,949.5 331.2,950.8 333.8,947.4 336.3,935.9 338.9,939 341.4,933.8 343.9,928.8 346.5,934.3 349,933.2 351.6,935.7 354.1,942.1 356.6,945.4 359.2,950.9 361.7,947.9 364.2,942.9 366.8,937.6 369.3,938.6 371.9,945.6 374.4,945 376.9,947.6 379.5,949 382,947.8 384.5,942.7 387.1,939.1 389.6,937.5 392.2,936.7 394.7,934.9 397.2,943.2 399.8,935.6 402.3,939.3 404.8,942.2 407.4,943.2 409.9,942.2 412.5,934.4 415,932 417.5,932.1 420.1,931.9 422.6,936.7 425.1,940.3 427.7,938.6 430.2,940.6 432.8,946.6 435.3,944.8 437.8,942.3 440.4,945.5 442.9,937.1 445.4,940.3 448,951.8 450.5,943.3 453.1,944.6 455.6,950.2 458.1,941.7 460.7,946.9 463.2,946.5 465.7,947.5 468.3,938.7 470.8,945.5 473.4,948.7 475.9,950 478.4,953.9 481,948.5 483.5,950.8 486,942.7 488.6,942.6 491.1,951.4 493.7,947.6 496.2,949 498.7,938.9 501.3,938.6 503.8,949.6 506.3,935 508.9,944 511.4,940.1 514,937.9 516.5,941.7 519,947.7 521.6,942.7 524.1,941.9 526.6,938.7 529.2,944.7 531.7,940.9 534.2,941.9 536.8,951.1 539.3,953.3 541.9,955 544.4,948 546.9,939.4 549.5,943.2 552,943.9 554.5,940.2 557.1,939.4 559.6,942.9 562.2,939.3 564.7,938.1 567.2,944.2 569.8,958.2 572.3,1008.2 574.8,1038.7 577.4,1073.4 579.9,1111.2 582.5,1156.2 585,1185.6 587.5,1221.5 590.1,1262.3 592.6,1291.5 595.1,1317.5 597.7,1347 600.2,1374.7 602.8,1397.5 605.3,1413.8 607.8,1429.9 610.4,1442.3 612.9,1449.8 615.4,1458.9 618,1465.5 620.5,1472.7 623.1,1479.3 625.6,1483.1 628.1,1485.8 630.7,1488.2 633.2,1490.2 635.8,1491.8 638.3,1493.2 640.8,1494.3 643.4,1495.2 645.9,1496 648.4,1496.7 651,1497.3 653.5,1497.9 656,1498.5 658.6,1499.3 661.1,1500 663.7,1500.7 666.2,1501.1 668.7,1501 671.3,1500.8 673.8,1500.7 676.4,1500.7 678.9,1500.8 681.4,1501.1 684,1501.1 686.5,1500.9 686.5,1504.6 684,1504.7 681.4,1504.7 678.9,1504.6 676.4,1504.3 673.8,1504.3 671.3,1504.5 668.7,1504.7 666.2,1504.7 663.7,1504.6 661.1,1504.2 658.6,1503.5 656,1502.7 653.5,1502 651,1501.4 648.4,1500.8 645.9,1500.2 643.4,1499.5 640.8,1498.7 638.3,1497.7 635.8,1496.6 633.2,1495.3 630.7,1493.6 628.1,1491.5 625.6,1489.1 623.1,1486.8 620.5,1482 618,1475 615.4,1469.2 612.9,1460.5 610.4,1453.8 607.8,1445 605.3,1430.9 602.8,1417 600.2,1399 597.7,1375.3 595.1,1346.2 592.6,1319 590.1,1295 587.5,1259.4 585,1219.1 582.5,1191.7 579.9,1151.5 577.4,1111.3 574.8,1071.4 572.3,1046.9 569.8,995.7 567.2,960.1 564.7,960.9 562.2,959.5 559.6,954 557.1,955 554.5,955.3 552,955.6 549.5,961.3 546.9,971.2 544.4,970.9 541.9,969.2 539.3,970 536.8,967.7 534.2,969.1 531.7,961.2 529.2,953.4 526.6,959.8 524.1,956.8 521.6,957.2 519,956.4 516.5,967.1 514,973.2 511.4,970.5 508.9,964.3 506.3,972.5 503.8,962.2 501.3,980.9 498.7,983.8 496.2,970 493.7,967.1 491.1,960.7 488.6,967.6 486,967.4 483.5,960.8 481,965.2 478.4,962.4 475.9,967.9 473.4,967.6 470.8,969.8 468.3,977.7 465.7,966.5 463.2,961 460.7,958.3 458.1,967.4 455.6,962.4 453.1,968.2 450.5,968.5 448,958.5 445.4,971.5 442.9,980.1 440.4,973.7 437.8,971.8 435.3,962.4 432.8,955.4 430.2,956.3 427.7,955.1 425.1,956.8 422.6,967.1 420.1,970.8 417.5,962.7 415,960.7 412.5,965.5 409.9,966.4 407.4,968.9 404.8,965.7 402.3,959.6 399.8,959.2 397.2,955.8 394.7,969.9 392.2,968.4 389.6,962.1 387.1,957.8 384.5,959.9 382,960.5 379.5,958 376.9,955.4 374.4,956.6 371.9,957.6 369.3,967 366.8,969.9 364.2,966.4 361.7,964.6 359.2,962.5 356.6,961.8 354.1,952.6 351.6,950.6 349,958.7 346.5,968.3 343.9,974.4 341.4,963.4 338.9,956.6 336.3,964.3 333.8,959.9 331.2,959.9 328.7,959.7 326.2,956.6 323.6,964.7 321.1,971.9 318.6,970.5 316,957.5 313.5,954.7 311,958.4 308.4,955 305.9,962.5 303.3,959.8 300.8,971 298.3,978 295.7,968.5 293.2,963.7 290.6,964.6 288.1,959.6 285.6,961 283,965.6 280.5,961.1 278,963.5 275.4,972.6 272.9,970.3 270.4,977.8 267.8,997.4 265.3,1037 262.7,1056.8 260.2,1111.6 257.7,1155.1 255.1,1220.4 252.6,1288.4 250,1370.3 247.5,1442.4 245,1489.5 242.4,1506.9 239.9,1508.4 237.4,1509.1 234.8,1508.8 232.3,1508.8 229.8,1508.8 227.2,1508.8 224.7,1508.8 222.1,1508.8 219.6,1508.8 217.1,1508.8 214.5,1508.8 212,1508.8 209.5,1508.8 206.9,1508.8 204.4,1508.8 201.8,1508.8 199.3,1508.8 196.8,1508.8 194.2,1508.8 191.7,1508.8 189.1,1508.8 186.6,1508.8 184.1,1508.8 181.5,1508.8 179,1508.8 176.5,1508.8 173.9,1508.8 171.4,1508.8 168.8,1508.8 166.3,1508.8 163.8,1508.8 161.2,1508.8 158.7,1508.8 156.2,1508.8 153.6,1508.8 151.1,1508.8 148.6,1508.8 146,1508.8 143.5,1508.8 140.9,1508.8 138.4,1508.8 135.9,1508.8 133.3,1508.8 130.8,1508.8 128.2,1508.8 125.7,1508.8 123.2,1508.8 120.6,1508.8 118.1,1508.8 115.6,1508.8 113,1508.8 110.5,1508.8 108,1508.8 105.4,1508.8 102.9,1508.8 100.3,1508.8 97.8,1508.8 95.3,1508.8 92.7,1508.8 90.2,1508.8 87.7,1508.8 85.1,1508.8 82.6,1508.8 80,1508.8 77.5,1508.8" fill="#D95319" fill-opacity="0.3" stroke="none"/>
<polygon points="77.5,1506.2 80,1506.2 82.6,1506.2 85.1,1506.2 87.7,1506.2 90.2,1506.2 92.7,1506.2 95.3,1506.2 97.8,1506.2 100.3,1506.2 102.9,1506.2 105.4,1506.2 108,1506.2 110.5,1506.2 113,1506.2 115.6,1506.2 118.1,1506.2 120.6,1506.2 123.2,1506.2 125.7,1506.2 128.2,1506.2 130.8,1506.2 133.3,1506.2 135.9,1506.2 138.4,1506.2 140.9,1506.2 143.5,1506.2 146,1506.2 148.6,1506.2 151.1,1506.2 153.6,1506.2 156.2,1506.2 158.7,1506.2 161.2,1506.2 163.8,1506.2 166.3,1506.2 168.8,1506.2 171.4,1506.2 173.9,1506.2 176.5,1506.2 179,1506.2 181.5,1506.2 184.1,1506.2 186.6,1506.2 189.1,1506.2 191.7,1506.2 194.2,1506.2 196.8,1506.2 199.3,1506.2 201.8,1506.2 204.4,1506.2 206.9,1506.2 209.5,1506.2 212,1506.2 214.5,1506.2 217.1,1506.2 219.6,1506.2 222.1,1506.2 224.7,1506.2 227.2,1471 229.8,1222.7 232.3,1150.1 234.8,1061.7 237.4,993.5 239.9,940.8 242.4,927.5 245,909.4 247.5,900.9 250,914.8 252.6,934 255.1,936.7 257.7,941.3 260.2,944 262.7,949.8 265.3,952 267.8,947.6 270.4,946.1 272.9,944.5 275.4,943.8 278,946.5 280.5,947.8 283,942.3 285.6,932.6 288.1,932.2 290.6,939.2 293.2,942.9 295.7,940.9 298.3,943.5 300.8,936.5 303.3,933.9 305.9,937.8 308.4,944.9 311,943.6 313.5,938.2 316,936.1 318.6,942.1 321.1,941.6 323.6,929.8 326.2,926.4 328.7,935.5 331.2,937.5 333.8,934.1 336.3,937.7 338.9,940.2 341.4,941.8 343.9,947.9 346.5,948.9 349,948.2 351.6,948 354.1,945.6 356.6,949.4 359.2,940.5 361.7,937.6 364.2,939.4 366.8,934.3 369.3,931.5 371.9,941.3 374.4,940.7 376.9,936.6 379.5,935.5 382,931.3 384.5,933.1 387.1,935.8 389.6,935.3 392.2,940.8 394.7,954 397.2,955.6 399.8,951.8 402.3,954.3 404.8,948.6 407.4,953.4 409.9,938.2 412.5,937.1 415,943 417.5,934.9 420.1,935.8 422.6,940.6 425.1,932.6 427.7,928.9 430.2,937 432.8,947.2 435.3,945.2 437.8,942.9 440.4,945.7 442.9,945.1 445.4,936.9 448,935 450.5,938.4 453.1,942.3 455.6,942.6 458.1,942 460.7,938.7 463.2,932.5 465.7,932.4 468.3,934.3 470.8,922.7 473.4,928.5 475.9,941.8 478.4,936.6 481,929.6 483.5,934.8 486,933.9 488.6,943.5 491.1,940.7 493.7,937.7 496.2,938.7 498.7,935.3 501.3,930 503.8,933 506.3,938.8 508.9,939.3 511.4,938.5 514,940.8 516.5,934.9 519,937.2 521.6,934.3 524.1,930 526.6,921.5 529.2,925.2 531.7,940.4 534.2,945 536.8,941.3 539.3,938.6 541.9,942.6 544.4,952.6 546.9,960.9 549.5,988.2 552,1026.5 554.5,1072 557.1,1123.3 559.6,1177.1 562.2,1227 564.7,1266.5 567.2,1296 569.8,1326 572.3,1356.5 574.8,1382.7 577.4,1407.2 579.9,1427.4 582.5,1445.2 585,1457.2 587.5,1467.6 590.1,1476.6 592.6,1481.9 595.1,1486 597.7,1489.4 600.2,1492.2 602.8,1494.4 605.3,1496.2 607.8,1497.6 610.4,1498.7 612.9,1499.5 615.4,1500 618,1500.3 620.5,1500.4 623.1,1500.5 625.6,1500.7 628.1,1501 630.7,1501.4 633.2,1501.8 635.8,1502.1 638.3,1502.2 640.8,1502.3 643.4,1502.4 645.9,1502.7 648.4,1502.9 651,1503 653.5,1503.2 656,1503.4 658.6,1503.5 661.1,1503.2 663.7,1502.9 666.2,1502.7 668.7,1502.7 671.3,1502.9 673.8,1503.1 676.4,1503.3 678.9,1503.1 681.4,1502.9 684,1502.7 686.5,1502.6 686.5,1505.3 684,1505.5 681.4,1505.7 678.9,1505.9 676.4,1506 673.8,1505.9 671.3,1505.7 668.7,1505.5 666.2,1505.5 663.7,1505.8 661.1,1506.1 658.6,1506.2 656,1506.2 653.5,1506 651,1505.9 648.4,1505.7 645.9,1505.5 643.4,1505.3 640.8,1505.1 638.3,1504.9 635.8,1504.9 633.2,1504.7 630.7,1504.4 628.1,1504 625.6,1503.6 623.1,1503.3 620.5,1503.1 618,1503.1 615.4,1503 612.9,1502.7 610.4,1502.1 607.8,1501.3 605.3,1500.2 602.8,1498.7 600.2,1496.9 597.7,1494.6 595.1,1491.7 592.6,1488.3 590.1,1484.7 587.5,1478.2 585,1469.1 582.5,1459.8 579.9,1445.6 577.4,1428.6 574.8,1406.9 572.3,1383.5 569.8,1355.4 567.2,1325.1 564.7,1297.9 562.2,1266.4 559.6,1224 557.1,1173.1 554.5,1119.8 552,1069.5 549.5,1024.4 546.9,985.9 544.4,960.6 541.9,980.6 539.3,979.2 536.8,970.3 534.2,960.9 531.7,960.1 529.2,965 526.6,958.9 524.1,950.3 521.6,949.3 519,948.6 516.5,955.2 514,954.7 511.4,963.1 508.9,967.3 506.3,966.6 503.8,965.4 501.3,962.5 498.7,956.9 496.2,956.7 493.7,962.3 491.1,963.1 488.6,956.4 486,954.8 483.5,945.6 481,952.6 478.4,956.6 475.9,960.8 473.4,970.3 470.8,966.3 468.3,950.8 465.7,953 463.2,954.4 460.7,950.9 458.1,952.4 455.6,958 453.1,962.6 450.5,965 448,964 445.4,962.7 442.9,958.8 440.4,959.6 437.8,961.7 435.3,960.4 432.8,960.8 430.2,972.5 427.7,979.8 425.1,970.7 422.6,953.9 420.1,953.9 417.5,957.6 415,955.3 412.5,966.9 409.9,974.6 407.4,967 404.8,971.7 402.3,962.9 399.8,967.5 397.2,968.4 394.7,969.7 392.2,979.5 389.6,978.8 387.1,964.5 384.5,955.5 382,959.9 379.5,964.6 376.9,966.4 374.4,962.4 371.9,959.5 369.3,967.4 366.8,964.8 364.2,962.5 361.7,968.5 359.2,968.4 356.6,958.9 354.1,960.7 351.6,957.6 349,958.6 346.5,960.2 343.9,963.2 341.4,967.1 338.9,960.9 336.3,953.9 333.8,952.5 331.2,950.4 328.7,956.1 326.2,967.8 323.6,966.8 321.1,958.2 318.6,959 316,963.9 313.5,960.8 311,956.4 308.4,958.2 305.9,967.7 303.3,971.5 300.8,967.4 298.3,958.1 295.7,957.4 293.2,953.9 290.6,960.2 288.1,972.1 285.6,974.6 283,964 280.5,956.7 278,957.1 275.4,962 272.9,964.1 270.4,965.6 267.8,967.3 265.3,962.9 262.7,961.6 260.2,956.7 257.7,954.2 255.1,949.9 252.6,947.2 250,954 247.5,959.1 245,947 242.4,948.4 239.9,988.3 237.4,1033.2 234.8,1114.1 232.3,1208.4 229.8,1323.9 227.2,1510.2 224.7,1508.8 222.1,1508.8 219.6,1508.8 217.1,1508.8 214.5,1508.8 212,1508.8 209.5,1508.8 206.9,1508.8 204.4,1508.8 201.8,1508.8 199.3,1508.8 196.8,1508.8 194.2,1508.8 191.7,1508.8 189.1,1508.8 186.6,1508.8 184.1,1508.8 181.5,1508.8 179,1508.8 176.5,1508.8 173.9,1508.8 171.4,1508.8 168.8,1508.8 166.3,1508.8 163.8,1508.8 161.2,1508.8 158.7,1508.8 156.2,1508.8 153.6,1508.8 151.1,1508.8 148.6,1508.8 146,1508.8 143.5,1508.8 140.9,1508.8 138.4,1508.8 135.9,1508.8 133.3,1508.8 130.8,1508.8 128.2,1508.8 125.7,1508.8 123.2,1508.8 120.6,1508.8 118.1,1508.8 115.6,1508.8 113,1508.8 110.5,1508.8 108,1508.8 105.4,1508.8 102.9,1508.8 100.3,1508.8 97.8,1508.8 95.3,1508.8 92.7,1508.8 90.2,1508.8 87.7,1508.8 85.1,1508.8 82.6,1508.8 80,1508.8 77.5,1508.8" fill="#77AC30" fill-opacity="0.3" stroke="none"/>
<polygon points="77.5,1506.2 80,1506.2 82.6,1506.2 85.1,1506.2 87.7,1506.2 90.2,1506.2 92.7,1506.2 95.3,1506.2 97.8,1506.2 100.3,1506.2 102.9,1506.2 105.4,1506.2 108,1506.2 110.5,1506.2 113,1506.2 115.6,1506.2 118.1,1506.2 120.6,1506.2 123.2,1506.2 125.7,1506.2 128.2,1506.2 130.8,1506.2 133.3,1506.2 135.9,1506.2 138.4,1506.2 140.9,1506.2 143.5,1506.2 146,1506.2 148.6,1506.2 151.1,1506.2 153.6,1506.2 156.2,1506.2 158.7,1506.2 161.2,1506.2 163.8,1506.2 166.3,1506.2 168.8,1506.2 171.4,1506.2 173.9,1506.2 176.5,1506.2 179,1506.2 181.5,1506.2 184.1,1506.2 186.6,1506.2 189.1,1506.2 191.7,1506.2 194.2,1506.2 196.8,1506.2 199.3,1506.2 201.8,1506.2 204.4,1506.2 206.9,1506.2 209.5,1506.2 212,1506.2 214.5,1506.2 217.1,1506.2 219.6,1506.2 222.1,1506.2 224.7,1506.2 227.2,1471 229.8,1222.7 232.3,1150.1 234.8,1061.7 237.4,993.5 239.9,940.8 242.4,927.5 245,909.4 247.5,900.9 250,914.8 252.6,934 255.1,936.7 257.7,941.3 260.2,944 262.7,949.8 265.3,952 267.8,947.6 270.4,946.1 272.9,944.5 275.4,943.8 278,946.5 280.5,947.8 283,942.3 285.6,932.6 288.1,932.2 290.6,939.2 293.2,942.9 295.7,940.9 298.3,943.5 300.8,936.5 303.3,933.9 305.9,937.8 308.4,944.9 311,943.6 313.5,938.2 316,936.1 318.6,942.1 321.1,941.6 323.6,929.8 326.2,926.4 328.7,935.5 331.2,937.5 333.8,934.1 336.3,937.7 338.9,940.2 341.4,941.8 343.9,947.9 346.5,948.9 349,948.2 351.6,948 354.1,945.6 356.6,949.4 359.2,940.5 361.7,937.6 364.2,939.4 366.8,934.3 369.3,931.5 371.9,941.3 374.4,940.7 376.9,936.6 379.5,935.5 382,914.6 384.5,925.7 387.1,933.3 389.6,930.6 392.2,941.4 394.7,948 397.2,941.5 399.8,931.6 402.3,924.2 404.8,930.9 407.4,928.9 409.9,922.3 412.5,931.7 415,941.3 417.5,940 420.1,932.6 422.6,934.2 425.1,938 427.7,937 430.2,922.1 432.8,905.2 435.3,910.3 437.8,920.4 440.4,931.1 442.9,941.5 445.4,944.3 448,944.7 450.5,940.7 453.1,916.8 455.6,923.8 458.1,946.5 460.7,951.4 463.2,937.6 465.7,919.1 468.3,932.8 470.8,945.6 473.4,946.7 475.9,931.9 478.4,914 481,926.3 483.5,930.5 486,933.7 488.6,933.3 491.1,923.9 493.7,916.7 496.2,928 498.7,944.3 501.3,946.1 503.8,942.5 506.3,941.7 508.9,942.9 511.4,942.5 514,935.9 516.5,929.9 519,925.8 521.6,931 524.1,951.4 526.6,981 529.2,1039.7 531.7,1112 534.2,1191.1 536.8,1271.8 539.3,1348.6 541.9,1411.7 544.4,1446 546.9,1462.4 549.5,1481.3 552,1496.2 554.5,1505.2 557.1,1506.2 559.6,1506.2 562.2,1506.2 564.7,1506.2 567.2,1506.2 569.8,1506.2 572.3,1506.2 574.8,1506.2 577.4,1506.2 579.9,1506.2 582.5,1506.2 585,1506.2 587.5,1506.2 590.1,1506.2 592.6,1506.2 595.1,1506.2 597.7,1506.2 600.2,1506.2 602.8,1506.2 605.3,1506.2 607.8,1506.2 610.4,1506.2 612.9,1506.2 615.4,1506.2 618,1506.2 620.5,1506.2 623.1,1506.2 625.6,1506.2 628.1,1506.2 630.7,1506.2 633.2,1506.2 635.8,1506.2 638.3,1506.2 640.8,1506.2 643.4,1506.2 645.9,1506.2 648.4,1506.2 651,1506.2 653.5,1506.2 656,1506.2 658.6,1506.2 661.1,1506.2 663.7,1506.2 666.2,1506.2 668.7,1506.2 671.3,1506.2 673.8,1506.2 676.4,1506.2 678.9,1506.2 681.4,1506.2 684,1506.2 686.5,1506.2 686.5,1508.8 684,1508.8 681.4,1508.8 678.9,1508.8 676.4,1508.8 673.8,1508.8 671.3,1508.8 668.7,1508.8 666.2,1508.8 663.7,1508.8 661.1,1508.8 658.6,1508.8 656,1508.8 653.5,1508.8 651,1508.8 648.4,1508.8 645.9,1508.8 643.4,1508.8 640.8,1508.8 638.3,1508.8 635.8,1508.8 633.2,1508.8 630.7,1508.8 628.1,1508.8 625.6,1508.8 623.1,1508.8 620.5,1508.8 618,1508.8 615.4,1508.8 612.9,1508.8 610.4,1508.8 607.8,1508.8 605.3,1508.8 602.8,1508.8 600.2,1508.8 597.7,1508.8 595.1,1508.8 592.6,1508.8 590.1,1508.8 587.5,1508.8 585,1508.8 582.5,1508.8 579.9,1508.8 577.4,1508.8 574.8,1508.8 572.3,1508.8 569.8,1508.8 567.2,1508.8 564.7,1508.8 562.2,1508.8 559.6,1508.8 557.1,1508.8 554.5,1509.8 552,1504.6 549.5,1492.9 546.9,1474.5 544.4,1460.8 541.9,1438.2 539.3,1387.8 536.8,1317.4 534.2,1238.4 531.7,1157.8 529.2,1081.1 526.6,1012 524.1,967.1 521.6,968.8 519,980.2 516.5,978.3 514,974.3 511.4,968.5 508.9,965.9 506.3,967.6 503.8,970.6 501.3,970.5 498.7,967.7 496.2,974.2 493.7,979.1 491.1,971.1 488.6,959.9 486,960.1 483.5,954.2 481,951.7 478.4,975.7 475.9,970.2 473.4,959.4 470.8,960.1 468.3,972.8 465.7,990.7 463.2,975.7 460.7,962.9 458.1,965.1 455.6,978.9 453.1,992.7 450.5,980.6 448,968.4 445.4,963.9 442.9,964.4 440.4,959 437.8,955 435.3,962.2 432.8,975.1 430.2,972.3 427.7,964.6 425.1,959.1 422.6,970.2 420.1,984.6 417.5,975.9 415,971.9 412.5,966 409.9,958.3 407.4,955.8 404.8,966.7 402.3,977.7 399.8,969.8 397.2,965.3 394.7,966.5 392.2,971.9 389.6,971.4 387.1,955.1 384.5,957.2 382,976.6 379.5,964.6 376.9,966.4 374.4,962.4 371.9,959.5 369.3,967.4 366.8,964.8 364.2,962.5 361.7,968.5 359.2,968.4 356.6,958.9 354.1,960.7 351.6,957.6 349,958.6 346.5,960.2 343.9,963.2 341.4,967.1 338.9,960.9 336.3,953.9 333.8,952.5 331.2,950.4 328.7,956.1 326.2,967.8 323.6,966.8 321.1,958.2 318.6,959 316,963.9 313.5,960.8 311,956.4 308.4,958.2 305.9,967.7 303.3,971.5 300.8,967.4 298.3,958.1 295.7,957.4 293.2,953.9 290.6,960.2 288.1,972.1 285.6,974.6 283,964 280.5,956.7 278,957.1 275.4,962 272.9,964.1 270.4,965.6 267.8,967.3 265.3,962.9 262.7,961.6 260.2,956.7 257.7,954.2 255.1,949.9 252.6,947.2 250,954 247.5,959.1 245,947 242.4,948.4 239.9,988.3 237.4,1033.2 234.8,1114.1 232.3,1208.4 229.8,1323.9 227.2,1510.2 224.7,1508.8 222.1,1508.8 219.6,1508.8 217.1,1508.8 214.5,1508.8 212,1508.8 209.5,1508.8 206.9,1508.8 204.4,1508.8 201.8,1508.8 199.3,1508.8 196.8,1508.8 194.2,1508.8 191.7,1508.8 189.1,1508.8 186.6,1508.8 184.1,1508.8 181.5,1508.8 179,1508.8 176.5,1508.8 173.9,1508.8 171.4,1508.8 168.8,1508.8 166.3,1508.8 163.8,1508.8 161.2,1508.8 158.7,1508.8 156.2,1508.8 153.6,1508.8 151.1,1508.8 148.6,1508.8 146,1508.8 143.5,1508.8 140.9,1508.8 138.4,1508.8 135.9,1508.8 133.3,1508.8 130.8,1508.8 128.2,1508.8 125.7,1508.8 123.2,1508.8 120.6,1508.8 118.1,1508.8 115.6,1508.8 113,1508.8 110.5,1508.8 108,1508.8 105.4,1508.8 102.9,1508.8 100.3,1508.8 97.8,1508.8 95.3,1508.8 92.7,1508.8 90.2,1508.8 87.7,1508.8 85.1,1508.8 82.6,1508.8 80,1508.8 77.5,1508.8" fill="#7E2F8E" fill-opacity="0.3" stroke="none"/>
</g>
<polyline points="77.5,1507.5 229.8,1507.5 229.8,948.6 532.5,948.6 534.8,1214.7 535.3,1507.5 546.9,1507.5 686.5,1507.5" fill="none" stroke="#0072BD" stroke-width="3" stroke-linejoin="miter"/>
<g fill="none" stroke="#D95319" stroke-width="2.5">
<circle cx="77.5" cy="1507.5" r="4.75"/><circle cx="80" cy="1507.5" r="4.75"/><circle cx="82.6" cy="1507.5" r="4.75"/><circle cx="85.1" cy="1507.5" r="4.75"/><circle cx="87.7" cy="1507.5" r="4.75"/><circle cx="90.2" cy="1507.5" r="4.75"/><circle cx="92.7" cy="1507.5" r="4.75"/><circle cx="95.3" cy="1507.5" r="4.75"/><circle cx="97.8" cy="1507.5" r="4.75"/><circle cx="100.3" cy="1507.5" r="4.75"/><circle cx="102.9" cy="1507.5" r="4.75"/><circle cx="105.4" cy="1507.5" r="4.75"/><circle cx="108" cy="1507.5" r="4.75"/><circle cx="110.5" cy="1507.5" r="4.75"/><circle cx="113" cy="1507.5" r="4.75"/><circle cx="115.6" cy="1507.5" r="4.75"/><circle cx="118.1" cy="1507.5" r="4.75"/><circle cx="120.6" cy="1507.5" r="4.75"/><circle cx="123.2" cy="1507.5" r="4.75"/><circle cx="125.7" cy="1507.5" r="4.75"/><circle cx="128.2" cy="1507.5" r="4.75"/><circle cx="130.8" cy="1507.5" r="4.75"/><circle cx="133.3" cy="1507.5" r="4.75"/><circle cx="135.9" cy="1507.5" r="4.75"/><circle cx="138.4" cy="1507.5" r="4.75"/><circle cx="140.9" cy="1507.5" r="4.75"/><circle cx="143.5" cy="1507.5" r="4.75"/><circle cx="146" cy="1507.5" r="4.75"/><circle cx="148.6" cy="1507.5" r="4.75"/><circle cx="151.1" cy="1507.5" r="4.75"/><circle cx="153.6" cy="1507.5" r="4.75"/><circle cx="156.2" cy="1507.5" r="4.75"/><circle cx="158.7" cy="1507.5" r="4.75"/><circle cx="161.2" cy="1507.5" r="4.75"/><circle cx="163.8" cy="1507.5" r="4.75"/><circle cx="166.3" cy="1507.5" r="4.75"/><circle cx="168.8" cy="1507.5" r="4.75"/><circle cx="171.4" cy="1507.5" r="4.75"/><circle cx="173.9" cy="1507.5" r="4.75"/><circle cx="176.5" cy="1507.5" r="4.75"/><circle cx="179" cy="1507.5" r="4.75"/><circle cx="181.5" cy="1507.5" r="4.75"/><circle cx="184.1" cy="1507.5" r="4.75"/><circle cx="186.6" cy="1507.5" r="4.75"/><circle cx="189.1" cy="1507.5" r="4.75"/><circle cx="191.7" cy="1507.5" r="4.75"/><circle cx="194.2" cy="1507.5" r="4.75"/><circle cx="196.8" cy="1507.5" r="4.75"/><circle cx="199.3" cy="1507.5" r="4.75"/><circle cx="201.8" cy="1507.5" r="4.75"/><circle cx="204.4" cy="1507.5" r="4.75"/><circle cx="206.9" cy="1507.5" r="4.75"/><circle cx="209.5" cy="1507.5" r="4.75"/><circle cx="212" cy="1507.5" r="4.75"/><circle cx="214.5" cy="1507.5" r="4.75"/><circle cx="217.1" cy="1507.5" r="4.75"/><circle cx="219.6" cy="1507.5" r="4.75"/><circle cx="222.1" cy="1507.5" r="4.75"/><circle cx="224.7" cy="1507.5" r="4.75"/><circle cx="227.2" cy="1507.5" r="4.75"/><circle cx="229.8" cy="1507.5" r="4.75"/><circle cx="232.3" cy="1507.5" r="4.75"/><circle cx="234.8" cy="1507.5" r="4.75"/><circle cx="237.4" cy="1507.5" r="4.75"/><circle cx="239.9" cy="1505.7" r="4.75"/><circle cx="242.4" cy="1500" r="4.75"/><circle cx="245" cy="1473.8" r="4.75"/><circle cx="247.5" cy="1417.9" r="4.75"/><circle cx="250" cy="1341.6" r="4.75"/><circle cx="252.6" cy="1261.8" r="4.75"/><circle cx="255.1" cy="1197" r="4.75"/><circle cx="257.7" cy="1135.8" r="4.75"/><circle cx="260.2" cy="1094.1" r="4.75"/><circle cx="262.7" cy="1043.5" r="4.75"/><circle cx="265.3" cy="1025.8" r="4.75"/><circle cx="267.8" cy="986.7" r="4.75"/><circle cx="270.4" cy="972.6" r="4.75"/><circle cx="272.9" cy="964.6" r="4.75"/><circle cx="275.4" cy="962.8" r="4.75"/><circle cx="278" cy="958.5" r="4.75"/><circle cx="280.5" cy="954.1" r="4.75"/><circle cx="283" cy="951.8" r="4.75"/><circle cx="285.6" cy="952.1" r="4.75"/><circle cx="288.1" cy="954.4" r="4.75"/><circle cx="290.6" cy="954.4" r="4.75"/><circle cx="293.2" cy="952.9" r="4.75"/><circle cx="295.7" cy="954.4" r="4.75"/><circle cx="298.3" cy="957.9" r="4.75"/><circle cx="300.8" cy="958.4" r="4.75"/><circle cx="303.3" cy="954.2" r="4.75"/><circle cx="305.9" cy="949.1" r="4.75"/><circle cx="308.4" cy="946.6" r="4.75"/><circle cx="311" cy="947.6" r="4.75"/><circle cx="313.5" cy="950.4" r="4.75"/><circle cx="316" cy="951.9" r="4.75"/><circle cx="318.6" cy="951.7" r="4.75"/><circle cx="321.1" cy="951.4" r="4.75"/><circle cx="323.6" cy="951.6" r="4.75"/><circle cx="326.2" cy="952.7" r="4.75"/><circle cx="328.7" cy="954.6" r="4.75"/><circle cx="331.2" cy="955.4" r="4.75"/><circle cx="333.8" cy="953.6" r="4.75"/><circle cx="336.3" cy="950.1" r="4.75"/><circle cx="338.9" cy="947.8" r="4.75"/><circle cx="341.4" cy="948.6" r="4.75"/><circle cx="343.9" cy="951.6" r="4.75"/><circle cx="346.5" cy="951.3" r="4.75"/><circle cx="349" cy="946" r="4.75"/><circle cx="351.6" cy="943.2" r="4.75"/><circle cx="354.1" cy="947.4" r="4.75"/><circle cx="356.6" cy="953.6" r="4.75"/><circle cx="359.2" cy="956.7" r="4.75"/><circle cx="361.7" cy="956.2" r="4.75"/><circle cx="364.2" cy="954.6" r="4.75"/><circle cx="366.8" cy="953.7" r="4.75"/><circle cx="369.3" cy="952.8" r="4.75"/><circle cx="371.9" cy="951.6" r="4.75"/><circle cx="374.4" cy="950.8" r="4.75"/><circle cx="376.9" cy="951.5" r="4.75"/><circle cx="379.5" cy="953.5" r="4.75"/><circle cx="382" cy="954.2" r="4.75"/><circle cx="384.5" cy="951.3" r="4.75"/><circle cx="387.1" cy="948.4" r="4.75"/><circle cx="389.6" cy="949.8" r="4.75"/><circle cx="392.2" cy="952.6" r="4.75"/><circle cx="394.7" cy="952.4" r="4.75"/><circle cx="397.2" cy="949.5" r="4.75"/><circle cx="399.8" cy="947.4" r="4.75"/><circle cx="402.3" cy="949.5" r="4.75"/><circle cx="404.8" cy="953.9" r="4.75"/><circle cx="407.4" cy="956.1" r="4.75"/><circle cx="409.9" cy="954.3" r="4.75"/><circle cx="412.5" cy="950" r="4.75"/><circle cx="415" cy="946.4" r="4.75"/><circle cx="417.5" cy="947.4" r="4.75"/><circle cx="420.1" cy="951.3" r="4.75"/><circle cx="422.6" cy="951.9" r="4.75"/><circle cx="425.1" cy="948.5" r="4.75"/><circle cx="427.7" cy="946.8" r="4.75"/><circle cx="430.2" cy="948.5" r="4.75"/><circle cx="432.8" cy="951" r="4.75"/><circle cx="435.3" cy="953.6" r="4.75"/><circle cx="437.8" cy="957" r="4.75"/><circle cx="440.4" cy="959.6" r="4.75"/><circle cx="442.9" cy="958.6" r="4.75"/><circle cx="445.4" cy="955.9" r="4.75"/><circle cx="448" cy="955.1" r="4.75"/><circle cx="450.5" cy="955.9" r="4.75"/><circle cx="453.1" cy="956.4" r="4.75"/><circle cx="455.6" cy="956.3" r="4.75"/><circle cx="458.1" cy="954.5" r="4.75"/><circle cx="460.7" cy="952.6" r="4.75"/><circle cx="463.2" cy="953.8" r="4.75"/><circle cx="465.7" cy="957" r="4.75"/><circle cx="468.3" cy="958.2" r="4.75"/><circle cx="470.8" cy="957.6" r="4.75"/><circle cx="473.4" cy="958.2" r="4.75"/><circle cx="475.9" cy="958.9" r="4.75"/><circle cx="478.4" cy="958.1" r="4.75"/><circle cx="481" cy="956.8" r="4.75"/><circle cx="483.5" cy="955.8" r="4.75"/><circle cx="486" cy="955.1" r="4.75"/><circle cx="488.6" cy="955.1" r="4.75"/><circle cx="491.1" cy="956" r="4.75"/><circle cx="493.7" cy="957.4" r="4.75"/><circle cx="496.2" cy="959.5" r="4.75"/><circle cx="498.7" cy="961.3" r="4.75"/><circle cx="501.3" cy="959.7" r="4.75"/><circle cx="503.8" cy="955.9" r="4.75"/><circle cx="506.3" cy="953.8" r="4.75"/><circle cx="508.9" cy="954.1" r="4.75"/><circle cx="511.4" cy="955.3" r="4.75"/><circle cx="514" cy="955.6" r="4.75"/><circle cx="516.5" cy="954.4" r="4.75"/><circle cx="519" cy="952.1" r="4.75"/><circle cx="521.6" cy="950" r="4.75"/><circle cx="524.1" cy="949.4" r="4.75"/><circle cx="526.6" cy="949.3" r="4.75"/><circle cx="529.2" cy="949.1" r="4.75"/><circle cx="531.7" cy="951" r="4.75"/><circle cx="534.2" cy="955.5" r="4.75"/><circle cx="536.8" cy="959.4" r="4.75"/><circle cx="539.3" cy="961.6" r="4.75"/><circle cx="541.9" cy="962.1" r="4.75"/><circle cx="544.4" cy="959.5" r="4.75"/><circle cx="546.9" cy="955.3" r="4.75"/><circle cx="549.5" cy="952.3" r="4.75"/><circle cx="552" cy="949.8" r="4.75"/><circle cx="554.5" cy="947.7" r="4.75"/><circle cx="557.1" cy="947.2" r="4.75"/><circle cx="559.6" cy="948.4" r="4.75"/><circle cx="562.2" cy="949.4" r="4.75"/><circle cx="564.7" cy="949.5" r="4.75"/><circle cx="567.2" cy="952.1" r="4.75"/><circle cx="569.8" cy="977" r="4.75"/><circle cx="572.3" cy="1027.6" r="4.75"/><circle cx="574.8" cy="1055.1" r="4.75"/><circle cx="577.4" cy="1092.3" r="4.75"/><circle cx="579.9" cy="1131.4" r="4.75"/><circle cx="582.5" cy="1173.9" r="4.75"/><circle cx="585" cy="1202.3" r="4.75"/><circle cx="587.5" cy="1240.5" r="4.75"/><circle cx="590.1" cy="1278.6" r="4.75"/><circle cx="592.6" cy="1305.2" r="4.75"/><circle cx="595.1" cy="1331.8" r="4.75"/><circle cx="597.7" cy="1361.1" r="4.75"/><circle cx="600.2" cy="1386.8" r="4.75"/><circle cx="602.8" cy="1407.3" r="4.75"/><circle cx="605.3" cy="1422.3" r="4.75"/><circle cx="607.8" cy="1437.4" r="4.75"/><circle cx="610.4" cy="1448.1" r="4.75"/><circle cx="612.9" cy="1455.2" r="4.75"/><circle cx="615.4" cy="1464" r="4.75"/><circle cx="618" cy="1470.2" r="4.75"/><circle cx="620.5" cy="1477.3" r="4.75"/><circle cx="623.1" cy="1483.1" r="4.75"/><circle cx="625.6" cy="1486.1" r="4.75"/><circle cx="628.1" cy="1488.7" r="4.75"/><circle cx="630.7" cy="1490.9" r="4.75"/><circle cx="633.2" cy="1492.7" r="4.75"/><circle cx="635.8" cy="1494.2" r="4.75"/><circle cx="638.3" cy="1495.4" r="4.75"/><circle cx="640.8" cy="1496.5" r="4.75"/><circle cx="643.4" cy="1497.4" r="4.75"/><circle cx="645.9" cy="1498.1" r="4.75"/><circle cx="648.4" cy="1498.8" r="4.75"/><circle cx="651" cy="1499.3" r="4.75"/><circle cx="653.5" cy="1499.9" r="4.75"/><circle cx="656" cy="1500.6" r="4.75"/><circle cx="658.6" cy="1501.4" r="4.75"/><circle cx="661.1" cy="1502.1" r="4.75"/><circle cx="663.7" cy="1502.6" r="4.75"/><circle cx="666.2" cy="1502.9" r="4.75"/><circle cx="668.7" cy="1502.8" r="4.75"/><circle cx="671.3" cy="1502.7" r="4.75"/><circle cx="673.8" cy="1502.5" r="4.75"/><circle cx="676.4" cy="1502.5" r="4.75"/><circle cx="678.9" cy="1502.7" r="4.75"/><circle cx="681.4" cy="1502.9" r="4.75"/><circle cx="684" cy="1502.9" r="4.75"/><circle cx="686.5" cy="1502.8" r="4.75"/>
</g>
<g fill="none" stroke="#77AC30" stroke-width="2.5">
<circle cx="77.5" cy="1507.5" r="4.75"/><circle cx="80" cy="1507.5" r="4.75"/><circle cx="82.6" cy="1507.5" r="4.75"/><circle cx="85.1" cy="1507.5" r="4.75"/><circle cx="87.7" cy="1507.5" r="4.75"/><circle cx="90.2" cy="1507.5" r="4.75"/><circle cx="92.7" cy="1507.5" r="4.75"/><circle cx="95.3" cy="1507.5" r="4.75"/><circle cx="97.8" cy="1507.5" r="4.75"/><circle cx="100.3" cy="1507.5" r="4.75"/><circle cx="102.9" cy="1507.5" r="4.75"/><circle cx="105.4" cy="1507.5" r="4.75"/><circle cx="108" cy="1507.5" r="4.75"/><circle cx="110.5" cy="1507.5" r="4.75"/><circle cx="113" cy="1507.5" r="4.75"/><circle cx="115.6" cy="1507.5" r="4.75"/><circle cx="118.1" cy="1507.5" r="4.75"/><circle cx="120.6" cy="1507.5" r="4.75"/><circle cx="123.2" cy="1507.5" r="4.75"/><circle cx="125.7" cy="1507.5" r="4.75"/><circle cx="128.2" cy="1507.5" r="4.75"/><circle cx="130.8" cy="1507.5" r="4.75"/><circle cx="133.3" cy="1507.5" r="4.75"/><circle cx="135.9" cy="1507.5" r="4.75"/><circle cx="138.4" cy="1507.5" r="4.75"/><circle cx="140.9" cy="1507.5" r="4.75"/><circle cx="143.5" cy="1507.5" r="4.75"/><circle cx="146" cy="1507.5" r="4.75"/><circle cx="148.6" cy="1507.5" r="4.75"/><circle cx="151.1" cy="1507.5" r="4.75"/><circle cx="153.6" cy="1507.5" r="4.75"/><circle cx="156.2" cy="1507.5" r="4.75"/><circle cx="158.7" cy="1507.5" r="4.75"/><circle cx="161.2" cy="1507.5" r="4.75"/><circle cx="163.8" cy="1507.5" r="4.75"/><circle cx="166.3" cy="1507.5" r="4.75"/><circle cx="168.8" cy="1507.5" r="4.75"/><circle cx="171.4" cy="1507.5" r="4.75"/><circle cx="173.9" cy="1507.5" r="4.75"/><circle cx="176.5" cy="1507.5" r="4.75"/><circle cx="179" cy="1507.5" r="4.75"/><circle cx="181.5" cy="1507.5" r="4.75"/><circle cx="184.1" cy="1507.5" r="4.75"/><circle cx="186.6" cy="1507.5" r="4.75"/><circle cx="189.1" cy="1507.5" r="4.75"/><circle cx="191.7" cy="1507.5" r="4.75"/><circle cx="194.2" cy="1507.5" r="4.75"/><circle cx="196.8" cy="1507.5" r="4.75"/><circle cx="199.3" cy="1507.5" r="4.75"/><circle cx="201.8" cy="1507.5" r="4.75"/><circle cx="204.4" cy="1507.5" r="4.75"/><circle cx="206.9" cy="1507.5" r="4.75"/><circle cx="209.5" cy="1507.5" r="4.75"/><circle cx="212" cy="1507.5" r="4.75"/><circle cx="214.5" cy="1507.5" r="4.75"/><circle cx="217.1" cy="1507.5" r="4.75"/><circle cx="219.6" cy="1507.5" r="4.75"/><circle cx="222.1" cy="1507.5" r="4.75"/><circle cx="224.7" cy="1507.5" r="4.75"/><circle cx="227.2" cy="1507.5" r="4.75"/><circle cx="229.8" cy="1273.3" r="4.75"/><circle cx="232.3" cy="1179.3" r="4.75"/><circle cx="234.8" cy="1087.9" r="4.75"/><circle cx="237.4" cy="1013.4" r="4.75"/><circle cx="239.9" cy="964.6" r="4.75"/><circle cx="242.4" cy="938" r="4.75"/><circle cx="245" cy="928.2" r="4.75"/><circle cx="247.5" cy="930" r="4.75"/><circle cx="250" cy="934.4" r="4.75"/><circle cx="252.6" cy="940.6" r="4.75"/><circle cx="255.1" cy="943.3" r="4.75"/><circle cx="257.7" cy="947.7" r="4.75"/><circle cx="260.2" cy="950.4" r="4.75"/><circle cx="262.7" cy="955.7" r="4.75"/><circle cx="265.3" cy="957.5" r="4.75"/><circle cx="267.8" cy="957.5" r="4.75"/><circle cx="270.4" cy="955.8" r="4.75"/><circle cx="272.9" cy="954.3" r="4.75"/><circle cx="275.4" cy="952.9" r="4.75"/><circle cx="278" cy="951.8" r="4.75"/><circle cx="280.5" cy="952.2" r="4.75"/><circle cx="283" cy="953.1" r="4.75"/><circle cx="285.6" cy="953.6" r="4.75"/><circle cx="288.1" cy="952.1" r="4.75"/><circle cx="290.6" cy="949.7" r="4.75"/><circle cx="293.2" cy="948.4" r="4.75"/><circle cx="295.7" cy="949.2" r="4.75"/><circle cx="298.3" cy="950.8" r="4.75"/><circle cx="300.8" cy="952" r="4.75"/><circle cx="303.3" cy="952.7" r="4.75"/><circle cx="305.9" cy="952.7" r="4.75"/><circle cx="308.4" cy="951.5" r="4.75"/><circle cx="311" cy="950" r="4.75"/><circle cx="313.5" cy="949.5" r="4.75"/><circle cx="316" cy="950" r="4.75"/><circle cx="318.6" cy="950.5" r="4.75"/><circle cx="321.1" cy="949.9" r="4.75"/><circle cx="323.6" cy="948.3" r="4.75"/><circle cx="326.2" cy="947.1" r="4.75"/><circle cx="328.7" cy="945.8" r="4.75"/><circle cx="331.2" cy="944" r="4.75"/><circle cx="333.8" cy="943.3" r="4.75"/><circle cx="336.3" cy="945.8" r="4.75"/><circle cx="338.9" cy="950.5" r="4.75"/><circle cx="341.4" cy="954.5" r="4.75"/><circle cx="343.9" cy="955.5" r="4.75"/><circle cx="346.5" cy="954.6" r="4.75"/><circle cx="349" cy="953.4" r="4.75"/><circle cx="351.6" cy="952.8" r="4.75"/><circle cx="354.1" cy="953.2" r="4.75"/><circle cx="356.6" cy="954.2" r="4.75"/><circle cx="359.2" cy="954.4" r="4.75"/><circle cx="361.7" cy="953" r="4.75"/><circle cx="364.2" cy="951" r="4.75"/><circle cx="366.8" cy="949.6" r="4.75"/><circle cx="369.3" cy="949.4" r="4.75"/><circle cx="371.9" cy="950.4" r="4.75"/><circle cx="374.4" cy="951.6" r="4.75"/><circle cx="376.9" cy="951.5" r="4.75"/><circle cx="379.5" cy="950.1" r="4.75"/><circle cx="382" cy="945.6" r="4.75"/><circle cx="384.5" cy="944.3" r="4.75"/><circle cx="387.1" cy="950.2" r="4.75"/><circle cx="389.6" cy="957" r="4.75"/><circle cx="392.2" cy="960.1" r="4.75"/><circle cx="394.7" cy="961.9" r="4.75"/><circle cx="397.2" cy="962" r="4.75"/><circle cx="399.8" cy="959.6" r="4.75"/><circle cx="402.3" cy="958.6" r="4.75"/><circle cx="404.8" cy="960.2" r="4.75"/><circle cx="407.4" cy="960.2" r="4.75"/><circle cx="409.9" cy="956.4" r="4.75"/><circle cx="412.5" cy="952" r="4.75"/><circle cx="415" cy="949.2" r="4.75"/><circle cx="417.5" cy="946.3" r="4.75"/><circle cx="420.1" cy="944.8" r="4.75"/><circle cx="422.6" cy="947.3" r="4.75"/><circle cx="425.1" cy="951.7" r="4.75"/><circle cx="427.7" cy="954.4" r="4.75"/><circle cx="430.2" cy="954.8" r="4.75"/><circle cx="432.8" cy="954" r="4.75"/><circle cx="435.3" cy="952.8" r="4.75"/><circle cx="437.8" cy="952.3" r="4.75"/><circle cx="440.4" cy="952.7" r="4.75"/><circle cx="442.9" cy="952" r="4.75"/><circle cx="445.4" cy="949.8" r="4.75"/><circle cx="448" cy="949.5" r="4.75"/><circle cx="450.5" cy="951.7" r="4.75"/><circle cx="453.1" cy="952.4" r="4.75"/><circle cx="455.6" cy="950.3" r="4.75"/><circle cx="458.1" cy="947.2" r="4.75"/><circle cx="460.7" cy="944.8" r="4.75"/><circle cx="463.2" cy="943.5" r="4.75"/><circle cx="465.7" cy="942.7" r="4.75"/><circle cx="468.3" cy="942.5" r="4.75"/><circle cx="470.8" cy="944.5" r="4.75"/><circle cx="473.4" cy="949.4" r="4.75"/><circle cx="475.9" cy="951.3" r="4.75"/><circle cx="478.4" cy="946.6" r="4.75"/><circle cx="481" cy="941.1" r="4.75"/><circle cx="483.5" cy="940.2" r="4.75"/><circle cx="486" cy="944.4" r="4.75"/><circle cx="488.6" cy="949.9" r="4.75"/><circle cx="491.1" cy="951.9" r="4.75"/><circle cx="493.7" cy="950" r="4.75"/><circle cx="496.2" cy="947.7" r="4.75"/><circle cx="498.7" cy="946.1" r="4.75"/><circle cx="501.3" cy="946.2" r="4.75"/><circle cx="503.8" cy="949.2" r="4.75"/><circle cx="506.3" cy="952.7" r="4.75"/><circle cx="508.9" cy="953.3" r="4.75"/><circle cx="511.4" cy="950.8" r="4.75"/><circle cx="514" cy="947.8" r="4.75"/><circle cx="516.5" cy="945.1" r="4.75"/><circle cx="519" cy="942.9" r="4.75"/><circle cx="521.6" cy="941.8" r="4.75"/><circle cx="524.1" cy="940.1" r="4.75"/><circle cx="526.6" cy="940.2" r="4.75"/><circle cx="529.2" cy="945.1" r="4.75"/><circle cx="531.7" cy="950.3" r="4.75"/><circle cx="534.2" cy="953" r="4.75"/><circle cx="536.8" cy="955.8" r="4.75"/><circle cx="539.3" cy="958.9" r="4.75"/><circle cx="541.9" cy="961.6" r="4.75"/><circle cx="544.4" cy="956.6" r="4.75"/><circle cx="546.9" cy="973.4" r="4.75"/><circle cx="549.5" cy="1006.3" r="4.75"/><circle cx="552" cy="1048" r="4.75"/><circle cx="554.5" cy="1095.9" r="4.75"/><circle cx="557.1" cy="1148.2" r="4.75"/><circle cx="559.6" cy="1200.5" r="4.75"/><circle cx="562.2" cy="1246.7" r="4.75"/><circle cx="564.7" cy="1282.2" r="4.75"/><circle cx="567.2" cy="1310.6" r="4.75"/><circle cx="569.8" cy="1340.7" r="4.75"/><circle cx="572.3" cy="1370" r="4.75"/><circle cx="574.8" cy="1394.8" r="4.75"/><circle cx="577.4" cy="1417.9" r="4.75"/><circle cx="579.9" cy="1436.5" r="4.75"/><circle cx="582.5" cy="1452.5" r="4.75"/><circle cx="585" cy="1463.1" r="4.75"/><circle cx="587.5" cy="1472.9" r="4.75"/><circle cx="590.1" cy="1480.6" r="4.75"/><circle cx="592.6" cy="1485.1" r="4.75"/><circle cx="595.1" cy="1488.8" r="4.75"/><circle cx="597.7" cy="1492" r="4.75"/><circle cx="600.2" cy="1494.5" r="4.75"/><circle cx="602.8" cy="1496.6" r="4.75"/><circle cx="605.3" cy="1498.2" r="4.75"/><circle cx="607.8" cy="1499.4" r="4.75"/><circle cx="610.4" cy="1500.4" r="4.75"/><circle cx="612.9" cy="1501.1" r="4.75"/><circle cx="615.4" cy="1501.5" r="4.75"/><circle cx="618" cy="1501.7" r="4.75"/><circle cx="620.5" cy="1501.8" r="4.75"/><circle cx="623.1" cy="1501.9" r="4.75"/><circle cx="625.6" cy="1502.1" r="4.75"/><circle cx="628.1" cy="1502.5" r="4.75"/><circle cx="630.7" cy="1502.9" r="4.75"/><circle cx="633.2" cy="1503.3" r="4.75"/><circle cx="635.8" cy="1503.5" r="4.75"/><circle cx="638.3" cy="1503.6" r="4.75"/><circle cx="640.8" cy="1503.7" r="4.75"/><circle cx="643.4" cy="1503.9" r="4.75"/><circle cx="645.9" cy="1504.1" r="4.75"/><circle cx="648.4" cy="1504.3" r="4.75"/><circle cx="651" cy="1504.5" r="4.75"/><circle cx="653.5" cy="1504.6" r="4.75"/><circle cx="656" cy="1504.8" r="4.75"/><circle cx="658.6" cy="1504.8" r="4.75"/><circle cx="661.1" cy="1504.6" r="4.75"/><circle cx="663.7" cy="1504.3" r="4.75"/><circle cx="666.2" cy="1504.1" r="4.75"/><circle cx="668.7" cy="1504.1" r="4.75"/><circle cx="671.3" cy="1504.3" r="4.75"/><circle cx="673.8" cy="1504.5" r="4.75"/><circle cx="676.4" cy="1504.6" r="4.75"/><circle cx="678.9" cy="1504.5" r="4.75"/><circle cx="681.4" cy="1504.3" r="4.75"/><circle cx="684" cy="1504.1" r="4.75"/><circle cx="686.5" cy="1504" r="4.75"/>
</g>
<g fill="none" stroke="#7E2F8E" stroke-width="2.5">
<circle cx="77.5" cy="1507.5" r="4.75"/><circle cx="80" cy="1507.5" r="4.75"/><circle cx="82.6" cy="1507.5" r="4.75"/><circle cx="85.1" cy="1507.5" r="4.75"/><circle cx="87.7" cy="1507.5" r="4.75"/><circle cx="90.2" cy="1507.5" r="4.75"/><circle cx="92.7" cy="1507.5" r="4.75"/><circle cx="95.3" cy="1507.5" r="4.75"/><circle cx="97.8" cy="1507.5" r="4.75"/><circle cx="100.3" cy="1507.5" r="4.75"/><circle cx="102.9" cy="1507.5" r="4.75"/><circle cx="105.4" cy="1507.5" r="4.75"/><circle cx="108" cy="1507.5" r="4.75"/><circle cx="110.5" cy="1507.5" r="4.75"/><circle cx="113" cy="1507.5" r="4.75"/><circle cx="115.6" cy="1507.5" r="4.75"/><circle cx="118.1" cy="1507.5" r="4.75"/><circle cx="120.6" cy="1507.5" r="4.75"/><circle cx="123.2" cy="1507.5" r="4.75"/><circle cx="125.7" cy="1507.5" r="4.75"/><circle cx="128.2" cy="1507.5" r="4.75"/><circle cx="130.8" cy="1507.5" r="4.75"/><circle cx="133.3" cy="1507.5" r="4.75"/><circle cx="135.9" cy="1507.5" r="4.75"/><circle cx="138.4" cy="1507.5" r="4.75"/><circle cx="140.9" cy="1507.5" r="4.75"/><circle cx="143.5" cy="1507.5" r="4.75"/><circle cx="146" cy="1507.5" r="4.75"/><circle cx="148.6" cy="1507.5" r="4.75"/><circle cx="151.1" cy="1507.5" r="4.75"/><circle cx="153.6" cy="1507.5" r="4.75"/><circle cx="156.2" cy="1507.5" r="4.75"/><circle cx="158.7" cy="1507.5" r="4.75"/><circle cx="161.2" cy="1507.5" r="4.75"/><circle cx="163.8" cy="1507.5" r="4.75"/><circle cx="166.3" cy="1507.5" r="4.75"/><circle cx="168.8" cy="1507.5" r="4.75"/><circle cx="171.4" cy="1507.5" r="4.75"/><circle cx="173.9" cy="1507.5" r="4.75"/><circle cx="176.5" cy="1507.5" r="4.75"/><circle cx="179" cy="1507.5" r="4.75"/><circle cx="181.5" cy="1507.5" r="4.75"/><circle cx="184.1" cy="1507.5" r="4.75"/><circle cx="186.6" cy="1507.5" r="4.75"/><circle cx="189.1" cy="1507.5" r="4.75"/><circle cx="191.7" cy="1507.5" r="4.75"/><circle cx="194.2" cy="1507.5" r="4.75"/><circle cx="196.8" cy="1507.5" r="4.75"/><circle cx="199.3" cy="1507.5" r="4.75"/><circle cx="201.8" cy="1507.5" r="4.75"/><circle cx="204.4" cy="1507.5" r="4.75"/><circle cx="206.9" cy="1507.5" r="4.75"/><circle cx="209.5" cy="1507.5" r="4.75"/><circle cx="212" cy="1507.5" r="4.75"/><circle cx="214.5" cy="1507.5" r="4.75"/><circle cx="217.1" cy="1507.5" r="4.75"/><circle cx="219.6" cy="1507.5" r="4.75"/><circle cx="222.1" cy="1507.5" r="4.75"/><circle cx="224.7" cy="1507.5" r="4.75"/><circle cx="227.2" cy="1507.5" r="4.75"/><circle cx="229.8" cy="1273.3" r="4.75"/><circle cx="232.3" cy="1179.3" r="4.75"/><circle cx="234.8" cy="1087.9" r="4.75"/><circle cx="237.4" cy="1013.4" r="4.75"/><circle cx="239.9" cy="964.6" r="4.75"/><circle cx="242.4" cy="938" r="4.75"/><circle cx="245" cy="928.2" r="4.75"/><circle cx="247.5" cy="930" r="4.75"/><circle cx="250" cy="934.4" r="4.75"/><circle cx="252.6" cy="940.6" r="4.75"/><circle cx="255.1" cy="943.3" r="4.75"/><circle cx="257.7" cy="947.7" r="4.75"/><circle cx="260.2" cy="950.4" r="4.75" stroke-opacity="0.75"/><circle cx="262.7" cy="955.7" r="4.75" stroke-opacity="0.75"/><circle cx="265.3" cy="957.5" r="4.75" stroke-opacity="0.75"/><circle cx="267.8" cy="957.5" r="4.75" stroke-opacity="0.75"/><circle cx="270.4" cy="955.8" r="4.75" stroke-opacity="0.75"/><circle cx="272.9" cy="954.3" r="4.75" stroke-opacity="0.75"/><circle cx="275.4" cy="952.9" r="4.75" stroke-opacity="0.75"/><circle cx="278" cy="951.8" r="4.75" stroke-opacity="0.75"/><circle cx="280.5" cy="952.2" r="4.75" stroke-opacity="0.75"/><circle cx="283" cy="953.1" r="4.75" stroke-opacity="0.75"/><circle cx="285.6" cy="953.6" r="4.75" stroke-opacity="0.75"/><circle cx="288.1" cy="952.1" r="4.75" stroke-opacity="0.75"/><circle cx="290.6" cy="949.7" r="4.75" stroke-opacity="0.75"/><circle cx="293.2" cy="948.4" r="4.75" stroke-opacity="0.75"/><circle cx="295.7" cy="949.2" r="4.75" stroke-opacity="0.75"/><circle cx="298.3" cy="950.8" r="4.75" stroke-opacity="0.75"/><circle cx="300.8" cy="952" r="4.75" stroke-opacity="0.75"/><circle cx="303.3" cy="952.7" r="4.75" stroke-opacity="0.75"/><circle cx="305.9" cy="952.7" r="4.75" stroke-opacity="0.75"/><circle cx="308.4" cy="951.5" r="4.75" stroke-opacity="0.75"/><circle cx="311" cy="950" r="4.75" stroke-opacity="0.75"/><circle cx="313.5" cy="949.5" r="4.75" stroke-opacity="0.75"/><circle cx="316" cy="950" r="4.75" stroke-opacity="0.75"/><circle cx="318.6" cy="950.5" r="4.75" stroke-opacity="0.75"/><circle cx="321.1" cy="949.9" r="4.75" stroke-opacity="0.75"/><circle cx="323.6" cy="948.3" r="4.75" stroke-opacity="0.75"/><circle cx="326.2" cy="947.1" r="4.75" stroke-opacity="0.75"/><circle cx="328.7" cy="945.8" r="4.75" stroke-opacity="0.75"/><circle cx="331.2" cy="944" r="4.75" stroke-opacity="0.75"/><circle cx="333.8" cy="943.3" r="4.75" stroke-opacity="0.75"/><circle cx="336.3" cy="945.8" r="4.75" stroke-opacity="0.75"/><circle cx="338.9" cy="950.5" r="4.75" stroke-opacity="0.75"/><circle cx="341.4" cy="954.5" r="4.75" stroke-opacity="0.75"/><circle cx="343.9" cy="955.5" r="4.75" stroke-opacity="0.75"/><circle cx="346.5" cy="954.6" r="4.75" stroke-opacity="0.75"/><circle cx="349" cy="953.4" r="4.75" stroke-opacity="0.75"/><circle cx="351.6" cy="952.8" r="4.75" stroke-opacity="0.75"/><circle cx="354.1" cy="953.2" r="4.75" stroke-opacity="0.75"/><circle cx="356.6" cy="954.2" r="4.75" stroke-opacity="0.75"/><circle cx="359.2" cy="954.4" r="4.75" stroke-opacity="0.75"/><circle cx="361.7" cy="953" r="4.75" stroke-opacity="0.75"/><circle cx="364.2" cy="951" r="4.75" stroke-opacity="0.75"/><circle cx="366.8" cy="949.6" r="4.75" stroke-opacity="0.75"/><circle cx="369.3" cy="949.4" r="4.75" stroke-opacity="0.75"/><circle cx="371.9" cy="950.4" r="4.75" stroke-opacity="0.75"/><circle cx="374.4" cy="951.6" r="4.75" stroke-opacity="0.75"/><circle cx="376.9" cy="951.5" r="4.75" stroke-opacity="0.75"/><circle cx="379.5" cy="950.1" r="4.75" stroke-opacity="0.75"/><circle cx="382" cy="945.6" r="4.75" stroke-opacity="0.75"/><circle cx="384.5" cy="941.4" r="4.75" stroke-opacity="0.75"/><circle cx="387.1" cy="944.2" r="4.75" stroke-opacity="0.75"/><circle cx="389.6" cy="951" r="4.75" stroke-opacity="0.75"/><circle cx="392.2" cy="956.7" r="4.75" stroke-opacity="0.75"/><circle cx="394.7" cy="957.3" r="4.75" stroke-opacity="0.75"/><circle cx="397.2" cy="953.4" r="4.75" stroke-opacity="0.75"/><circle cx="399.8" cy="950.7" r="4.75" stroke-opacity="0.75"/><circle cx="402.3" cy="950.9" r="4.75" stroke-opacity="0.75"/><circle cx="404.8" cy="948.8" r="4.75" stroke-opacity="0.75"/><circle cx="407.4" cy="942.3" r="4.75" stroke-opacity="0.75"/><circle cx="409.9" cy="940.3" r="4.75" stroke-opacity="0.75"/><circle cx="412.5" cy="948.8" r="4.75" stroke-opacity="0.75"/><circle cx="415" cy="956.6" r="4.75" stroke-opacity="0.75"/><circle cx="417.5" cy="958" r="4.75" stroke-opacity="0.75"/><circle cx="420.1" cy="958.6" r="4.75" stroke-opacity="0.75"/><circle cx="422.6" cy="952.2" r="4.75" stroke-opacity="0.75"/><circle cx="425.1" cy="948.6" r="4.75" stroke-opacity="0.75"/><circle cx="427.7" cy="950.8" r="4.75" stroke-opacity="0.75"/><circle cx="430.2" cy="947.2" r="4.75" stroke-opacity="0.75"/><circle cx="432.8" cy="940.1" r="4.75" stroke-opacity="0.75"/><circle cx="435.3" cy="936.2" r="4.75" stroke-opacity="0.75"/><circle cx="437.8" cy="937.7" r="4.75" stroke-opacity="0.75"/><circle cx="440.4" cy="945.1" r="4.75" stroke-opacity="0.75"/><circle cx="442.9" cy="953" r="4.75" stroke-opacity="0.75"/><circle cx="445.4" cy="954.1" r="4.75" stroke-opacity="0.75"/><circle cx="448" cy="956.6" r="4.75" stroke-opacity="0.75"/><circle cx="450.5" cy="960.6" r="4.75" stroke-opacity="0.75"/><circle cx="453.1" cy="954.8" r="4.75" stroke-opacity="0.75"/><circle cx="455.6" cy="951.4" r="4.75" stroke-opacity="0.75"/><circle cx="458.1" cy="955.8" r="4.75" stroke-opacity="0.75"/><circle cx="460.7" cy="957.2" r="4.75" stroke-opacity="0.75"/><circle cx="463.2" cy="956.7" r="4.75" stroke-opacity="0.75"/><circle cx="465.7" cy="954.9" r="4.75" stroke-opacity="0.75"/><circle cx="468.3" cy="952.8" r="4.75" stroke-opacity="0.75"/><circle cx="470.8" cy="952.9" r="4.75" stroke-opacity="0.75"/><circle cx="473.4" cy="953.1" r="4.75" stroke-opacity="0.75"/><circle cx="475.9" cy="951.1" r="4.75" stroke-opacity="0.75"/><circle cx="478.4" cy="944.8" r="4.75" stroke-opacity="0.75"/><circle cx="481" cy="939" r="4.75" stroke-opacity="0.75"/><circle cx="483.5" cy="942.3" r="4.75" stroke-opacity="0.75"/><circle cx="486" cy="946.9" r="4.75" stroke-opacity="0.75"/><circle cx="488.6" cy="946.6" r="4.75" stroke-opacity="0.75"/><circle cx="491.1" cy="947.5" r="4.75" stroke-opacity="0.75"/><circle cx="493.7" cy="947.9" r="4.75" stroke-opacity="0.75"/><circle cx="496.2" cy="951.1" r="4.75" stroke-opacity="0.75"/><circle cx="498.7" cy="956" r="4.75" stroke-opacity="0.75"/><circle cx="501.3" cy="958.3" r="4.75" stroke-opacity="0.75"/><circle cx="503.8" cy="956.5" r="4.75" stroke-opacity="0.75"/><circle cx="506.3" cy="954.7" r="4.75" stroke-opacity="0.75"/><circle cx="508.9" cy="954.4" r="4.75" stroke-opacity="0.75"/><circle cx="511.4" cy="955.5" r="4.75" stroke-opacity="0.75"/><circle cx="514" cy="955.1" r="4.75" stroke-opacity="0.75"/><circle cx="516.5" cy="954.1" r="4.75" stroke-opacity="0.75"/><circle cx="519" cy="953" r="4.75" stroke-opacity="0.75"/><circle cx="521.6" cy="949.9" r="4.75" stroke-opacity="0.75"/><circle cx="524.1" cy="959.2" r="4.75"/><circle cx="526.6" cy="996.5" r="4.75"/><circle cx="529.2" cy="1060.4" r="4.75"/><circle cx="531.7" cy="1134.9" r="4.75"/><circle cx="534.2" cy="1214.7" r="4.75"/><circle cx="536.8" cy="1294.6" r="4.75"/><circle cx="539.3" cy="1368.2" r="4.75"/><circle cx="541.9" cy="1425" r="4.75"/><circle cx="544.4" cy="1453.4" r="4.75"/><circle cx="546.9" cy="1468.5" r="4.75"/><circle cx="549.5" cy="1487.1" r="4.75"/><circle cx="552" cy="1500.4" r="4.75"/><circle cx="554.5" cy="1507.5" r="4.75"/><circle cx="557.1" cy="1507.5" r="4.75"/><circle cx="559.6" cy="1507.5" r="4.75"/><circle cx="562.2" cy="1507.5" r="4.75"/><circle cx="564.7" cy="1507.5" r="4.75"/><circle cx="567.2" cy="1507.5" r="4.75"/><circle cx="569.8" cy="1507.5" r="4.75"/><circle cx="572.3" cy="1507.5" r="4.75"/><circle cx="574.8" cy="1507.5" r="4.75"/><circle cx="577.4" cy="1507.5" r="4.75"/><circle cx="579.9" cy="1507.5" r="4.75"/><circle cx="582.5" cy="1507.5" r="4.75"/><circle cx="585" cy="1507.5" r="4.75"/><circle cx="587.5" cy="1507.5" r="4.75"/><circle cx="590.1" cy="1507.5" r="4.75"/><circle cx="592.6" cy="1507.5" r="4.75"/><circle cx="595.1" cy="1507.5" r="4.75"/><circle cx="597.7" cy="1507.5" r="4.75"/><circle cx="600.2" cy="1507.5" r="4.75"/><circle cx="602.8" cy="1507.5" r="4.75"/><circle cx="605.3" cy="1507.5" r="4.75"/><circle cx="607.8" cy="1507.5" r="4.75"/><circle cx="610.4" cy="1507.5" r="4.75"/><circle cx="612.9" cy="1507.5" r="4.75"/><circle cx="615.4" cy="1507.5" r="4.75"/><circle cx="618" cy="1507.5" r="4.75"/><circle cx="620.5" cy="1507.5" r="4.75"/><circle cx="623.1" cy="1507.5" r="4.75"/><circle cx="625.6" cy="1507.5" r="4.75"/><circle cx="628.1" cy="1507.5" r="4.75"/><circle cx="630.7" cy="1507.5" r="4.75"/><circle cx="633.2" cy="1507.5" r="4.75"/><circle cx="635.8" cy="1507.5" r="4.75"/><circle cx="638.3" cy="1507.5" r="4.75"/><circle cx="640.8" cy="1507.5" r="4.75"/><circle cx="643.4" cy="1507.5" r="4.75"/><circle cx="645.9" cy="1507.5" r="4.75"/><circle cx="648.4" cy="1507.5" r="4.75"/><circle cx="651" cy="1507.5" r="4.75"/><circle cx="653.5" cy="1507.5" r="4.75"/><circle cx="656" cy="1507.5" r="4.75"/><circle cx="658.6" cy="1507.5" r="4.75"/><circle cx="661.1" cy="1507.5" r="4.75"/><circle cx="663.7" cy="1507.5" r="4.75"/><circle cx="666.2" cy="1507.5" r="4.75"/><circle cx="668.7" cy="1507.5" r="4.75"/><circle cx="671.3" cy="1507.5" r="4.75"/><circle cx="673.8" cy="1507.5" r="4.75"/><circle cx="676.4" cy="1507.5" r="4.75"/><circle cx="678.9" cy="1507.5" r="4.75"/><circle cx="681.4" cy="1507.5" r="4.75"/><circle cx="684" cy="1507.5" r="4.75"/><circle cx="686.5" cy="1507.5" r="4.75"/>
</g>
<g font-family="'Liberation Serif','Times New Roman',serif" font-size="29.5" fill="#000">
<text transform="translate(77.5,1544.8) scale(1,1.06)" text-anchor="middle">0</text>
<text transform="translate(153.6,1544.8) scale(1,1.06)" text-anchor="middle">0.5</text>
<text transform="translate(229.8,1544.8) scale(1,1.06)" text-anchor="middle">1</text>
<text transform="translate(305.9,1544.8) scale(1,1.06)" text-anchor="middle">1.5</text>
<text transform="translate(382,1544.8) scale(1,1.06)" text-anchor="middle">2</text>
<text transform="translate(458.1,1544.8) scale(1,1.06)" text-anchor="middle">2.5</text>
<text transform="translate(534.2,1544.8) scale(1,1.06)" text-anchor="middle">3</text>
<text transform="translate(610.4,1544.8) scale(1,1.06)" text-anchor="middle">3.5</text>
<text transform="translate(686.5,1544.8) scale(1,1.06)" text-anchor="middle">4</text>
<text transform="translate(67.1,1518.3) scale(1,1.06)" text-anchor="end">0</text>
<text transform="translate(67.1,1429.6) scale(1,1.06)" text-anchor="end">10</text>
<text transform="translate(67.1,1340.9) scale(1,1.06)" text-anchor="end">20</text>
<text transform="translate(67.1,1252.2) scale(1,1.06)" text-anchor="end">30</text>
<text transform="translate(67.1,1163.4) scale(1,1.06)" text-anchor="end">40</text>
<text transform="translate(67.1,1074.7) scale(1,1.06)" text-anchor="end">50</text>
<text transform="translate(67.1,986) scale(1,1.06)" text-anchor="end">60</text>
<text transform="translate(67.1,897.3) scale(1,1.06)" text-anchor="end">70</text>
</g>
<text x="382" y="1583" text-anchor="middle" font-family="'Liberation Serif','Times New Roman',serif" font-size="32.4">Time (min)</text>
<text transform="translate(22.5,1196) rotate(-90)" text-anchor="middle" font-family="'Liberation Serif','Times New Roman',serif" font-size="32">Activity concentration (kBq/mL)</text>
<text transform="translate(380.7,878.6) scale(1,1.06)" text-anchor="middle" font-family="'Liberation Serif','Times New Roman',serif" font-size="29.1" font-weight="bold">ABSS#2, 350 to 150 mL/h</text>
<text x="46.6" y="858.9" font-family="'Liberation Serif','Times New Roman',serif" font-size="44" font-weight="bold">(C)</text>
<path d="M271.4,1371.2h73.5" stroke="#0072BD" stroke-width="3"/>
<circle cx="308.1" cy="1403.7" r="4.9" fill="none" stroke="#D95319" stroke-width="2"/>
<circle cx="308.1" cy="1436.2" r="4.9" fill="none" stroke="#77AC30" stroke-width="2"/>
<circle cx="308.1" cy="1468.7" r="4.9" fill="none" stroke="#7E2F8E" stroke-width="2"/>
<g font-family="'Liberation Serif','Times New Roman',serif" font-size="26">
<text x="351.6" y="1381.6">Input</text>
<text x="351.6" y="1414.1">Output</text>
<text x="351.6" y="1446.6">Fixed <tspan font-style="italic">δ</tspan> and <tspan font-style="italic">τ</tspan></text>
<text x="351.6" y="1479.1">Corrected</text>
</g>
<rect x="879.5" y="886.5" width="609" height="621" fill="none" stroke="#161616" stroke-width="1.2"/>
<path d="M879.5,1507.5v-6.3M879.5,886.5v6.3M955.5,1507.5v-6.3M955.5,886.5v6.3M1031.5,1507.5v-6.3M1031.5,886.5v6.3M1107.5,1507.5v-6.3M1107.5,886.5v6.3M1184.5,1507.5v-6.3M1184.5,886.5v6.3M1260.5,1507.5v-6.3M1260.5,886.5v6.3M1336.5,1507.5v-6.3M1336.5,886.5v6.3M1412.5,1507.5v-6.3M1412.5,886.5v6.3M1488.5,1507.5v-6.3M1488.5,886.5v6.3M879.5,1507.5h6.3M1488.5,1507.5h-6.3M879.5,1404.5h6.3M1488.5,1404.5h-6.3M879.5,1300.5h6.3M1488.5,1300.5h-6.3M879.5,1197.5h6.3M1488.5,1197.5h-6.3M879.5,1093.5h6.3M1488.5,1093.5h-6.3M879.5,990.5h6.3M1488.5,990.5h-6.3M879.5,886.5h6.3M1488.5,886.5h-6.3" stroke="#161616" stroke-width="1.2" fill="none"/>
<g>
<polygon points="879.5,1505.9 882,1505.9 884.6,1505.9 887.1,1505.9 889.6,1505.9 892.2,1505.9 894.7,1505.9 897.3,1505.9 899.8,1505.9 902.3,1505.9 904.9,1505.9 907.4,1505.9 910,1505.9 912.5,1505.9 915,1505.9 917.6,1505.9 920.1,1505.9 922.6,1505.9 925.2,1505.9 927.7,1505.9 930.2,1505.9 932.8,1505.9 935.3,1505.9 937.9,1505.9 940.4,1505.9 942.9,1505.9 945.5,1505.9 948,1505.9 950.5,1505.9 953.1,1505.9 955.6,1505.9 958.2,1505.9 960.7,1505.9 963.2,1505.9 965.8,1505.9 968.3,1505.9 970.9,1505.9 973.4,1505.9 975.9,1505.9 978.5,1505.9 981,1505.9 983.5,1505.9 986.1,1505.9 988.6,1505.9 991.1,1505.9 993.7,1505.9 996.2,1505.9 998.8,1505.9 1001.3,1505.9 1003.8,1505.9 1006.4,1505.9 1008.9,1505.9 1011.5,1505.9 1014,1505.9 1016.5,1505.9 1019.1,1505.9 1021.6,1505.9 1024.1,1505.9 1026.7,1505.9 1029.2,1505.9 1031.8,1505.9 1034.3,1505.9 1036.8,1505.9 1039.4,1505.9 1041.9,1505.4 1044.4,1500.9 1047,1488.2 1049.5,1448.2 1052,1386.1 1054.6,1315.9 1057.1,1244.4 1059.7,1186.6 1062.2,1141.7 1064.7,1096 1067.3,1057.4 1069.8,1033.5 1072.3,998.6 1074.9,993 1077.4,988.5 1080,975.3 1082.5,970.6 1085,963.5 1087.6,962.6 1090.1,959.7 1092.7,947.7 1095.2,953.1 1097.7,959.8 1100.3,955.6 1102.8,953.1 1105.3,950.5 1107.9,945.7 1110.4,945.8 1113,944.8 1115.5,940 1118,939.6 1120.6,949 1123.1,945.3 1125.6,952.7 1128.2,951.4 1130.7,948 1133.2,945.3 1135.8,937.9 1138.3,941.4 1140.9,945.5 1143.4,944.1 1145.9,948 1148.5,944.2 1151,947.7 1153.5,950.4 1156.1,943.3 1158.6,942.6 1161.2,949.1 1163.7,953.2 1166.2,954.2 1168.8,952.4 1171.3,948.3 1173.8,940.7 1176.4,933.2 1178.9,937.1 1181.5,953.1 1184,947.8 1186.5,945.2 1189.1,947.3 1191.6,946.5 1194.2,940 1196.7,938.6 1199.2,942.6 1201.8,947.6 1204.3,950 1206.8,950.2 1209.4,938.7 1211.9,933.4 1214.5,939.8 1217,950 1219.5,944.5 1222.1,948.5 1224.6,938.5 1227.1,933.8 1229.7,934.6 1232.2,942.8 1234.8,941.1 1237.3,936.8 1239.8,935.4 1242.4,938.4 1244.9,947.5 1247.4,949.4 1250,957.1 1252.5,955.4 1255,948.9 1257.6,949.8 1260.1,950.5 1262.7,947.1 1265.2,949.5 1267.7,948.9 1270.3,950 1272.8,948.6 1275.3,953.4 1277.9,950.6 1280.4,956.5 1283,956.6 1285.5,959.1 1288,956.4 1290.6,955.1 1293.1,957.8 1295.7,954.4 1298.2,953.1 1300.7,943.5 1303.3,924.9 1305.8,926 1308.3,931.2 1310.9,942.5 1313.4,954.3 1316,954.1 1318.5,946.7 1321,948.7 1323.6,946.5 1326.1,943 1328.6,953.5 1331.2,947.1 1333.7,949.4 1336.2,954.6 1338.8,947.9 1341.3,944.6 1343.9,944.4 1346.4,944.9 1348.9,945.6 1351.5,945.7 1354,945.5 1356.5,952.9 1359.1,954.9 1361.6,955.7 1364.2,956.4 1366.7,978.4 1369.2,1018.9 1371.8,1064.8 1374.3,1099 1376.8,1156.5 1379.4,1200.2 1381.9,1239.9 1384.5,1271.9 1387,1318.1 1389.5,1342.8 1392.1,1368.2 1394.6,1392.1 1397.2,1415.4 1399.7,1428.9 1402.2,1440.3 1404.8,1452.1 1407.3,1462.6 1409.8,1469.5 1412.4,1476 1414.9,1481.7 1417.4,1485.4 1420,1488.1 1422.5,1490.2 1425.1,1491.9 1427.6,1493.1 1430.1,1493.9 1432.7,1494.4 1435.2,1494.7 1437.8,1495 1440.3,1495.3 1442.8,1495.8 1445.4,1496.2 1447.9,1496.6 1450.4,1496.9 1453,1497.2 1455.5,1497.4 1458,1497.6 1460.6,1497.9 1463.1,1498.3 1465.7,1498.7 1468.2,1499 1470.7,1499.2 1473.3,1499.2 1475.8,1499.1 1478.3,1499 1480.9,1498.8 1483.4,1498.7 1486,1498.6 1488.5,1498.6 1488.5,1502.8 1486,1502.8 1483.4,1502.9 1480.9,1503.1 1478.3,1503.3 1475.8,1503.4 1473.3,1503.4 1470.7,1503.4 1468.2,1503.3 1465.7,1503.1 1463.1,1502.8 1460.6,1502.3 1458,1502 1455.5,1501.7 1453,1501.5 1450.4,1501.3 1447.9,1501.1 1445.4,1500.7 1442.8,1500.3 1440.3,1499.8 1437.8,1499.4 1435.2,1499.1 1432.7,1498.9 1430.1,1498.5 1427.6,1498 1425.1,1497.1 1422.5,1495.9 1420,1494.2 1417.4,1492 1414.9,1489.5 1412.4,1485.2 1409.8,1479.2 1407.3,1473.7 1404.8,1465.6 1402.2,1454.7 1399.7,1443.3 1397.2,1434 1394.6,1415.9 1392.1,1394.2 1389.5,1367.9 1387,1351.2 1384.5,1310.5 1381.9,1276.2 1379.4,1239.3 1376.8,1204.4 1374.3,1146 1371.8,1105.7 1369.2,1062.6 1366.7,1016.1 1364.2,975.9 1361.6,970.5 1359.1,967.6 1356.5,967 1354,973.7 1351.5,973.2 1348.9,967.3 1346.4,956.2 1343.9,954.9 1341.3,961.9 1338.8,967.3 1336.2,963.2 1333.7,966.2 1331.2,967.9 1328.6,960.7 1326.1,967.6 1323.6,962.9 1321,966.4 1318.5,980.8 1316,982.9 1313.4,976.6 1310.9,971.2 1308.3,967.6 1305.8,967 1303.3,971.6 1300.7,964.2 1298.2,967.3 1295.7,971.1 1293.1,965 1290.6,966.2 1288,967.5 1285.5,966.5 1283,967.7 1280.4,967.6 1277.9,972.8 1275.3,966.4 1272.8,965.9 1270.3,959.4 1267.7,957.9 1265.2,957.7 1262.7,962.3 1260.1,962.2 1257.6,966.7 1255,971.4 1252.5,967.9 1250,966.6 1247.4,969.1 1244.9,960.2 1242.4,960.2 1239.8,960.9 1237.3,960.4 1234.8,955 1232.2,950.5 1229.7,958 1227.1,962.5 1224.6,963 1222.1,955.3 1219.5,960.4 1217,958.9 1214.5,971.1 1211.9,974.3 1209.4,968.8 1206.8,963.8 1204.3,967.6 1201.8,965.6 1199.2,963 1196.7,960.9 1194.2,957.6 1191.6,955.1 1189.1,959.8 1186.5,964 1184,963.4 1181.5,960.5 1178.9,973.4 1176.4,970.1 1173.8,959.4 1171.3,956.7 1168.8,961.8 1166.2,966.7 1163.7,967.4 1161.2,964.4 1158.6,965.6 1156.1,966.2 1153.5,960.7 1151,960.8 1148.5,960.4 1145.9,955.3 1143.4,959.8 1140.9,957.5 1138.3,960.9 1135.8,966.1 1133.2,962.5 1130.7,964.8 1128.2,965.1 1125.6,963.8 1123.1,967.7 1120.6,962.6 1118,976.8 1115.5,982.7 1113,980.3 1110.4,977.3 1107.9,975.8 1105.3,974.6 1102.8,980.6 1100.3,980.1 1097.7,970.2 1095.2,969.6 1092.7,973.4 1090.1,968.1 1087.6,974.8 1085,982.2 1082.5,983.3 1080,984 1077.4,997.7 1074.9,1001.5 1072.3,1018.7 1069.8,1058.3 1067.3,1084.1 1064.7,1130.3 1062.2,1177.8 1059.7,1228.1 1057.1,1294.5 1054.6,1367.9 1052,1432.3 1049.5,1481.9 1047,1505.1 1044.4,1507.8 1041.9,1509.6 1039.4,1509.1 1036.8,1509.1 1034.3,1509.1 1031.8,1509.1 1029.2,1509.1 1026.7,1509.1 1024.1,1509.1 1021.6,1509.1 1019.1,1509.1 1016.5,1509.1 1014,1509.1 1011.5,1509.1 1008.9,1509.1 1006.4,1509.1 1003.8,1509.1 1001.3,1509.1 998.8,1509.1 996.2,1509.1 993.7,1509.1 991.1,1509.1 988.6,1509.1 986.1,1509.1 983.5,1509.1 981,1509.1 978.5,1509.1 975.9,1509.1 973.4,1509.1 970.9,1509.1 968.3,1509.1 965.8,1509.1 963.2,1509.1 960.7,1509.1 958.2,1509.1 955.6,1509.1 953.1,1509.1 950.5,1509.1 948,1509.1 945.5,1509.1 942.9,1509.1 940.4,1509.1 937.9,1509.1 935.3,1509.1 932.8,1509.1 930.2,1509.1 927.7,1509.1 925.2,1509.1 922.6,1509.1 920.1,1509.1 917.6,1509.1 915,1509.1 912.5,1509.1 910,1509.1 907.4,1509.1 904.9,1509.1 902.3,1509.1 899.8,1509.1 897.3,1509.1 894.7,1509.1 892.2,1509.1 889.6,1509.1 887.1,1509.1 884.6,1509.1 882,1509.1 879.5,1509.1" fill="#D95319" fill-opacity="0.3" stroke="none"/>
<polygon points="879.5,1505.9 882,1505.9 884.6,1505.9 887.1,1505.9 889.6,1505.9 892.2,1505.9 894.7,1505.9 897.3,1505.9 899.8,1505.9 902.3,1505.9 904.9,1505.9 907.4,1505.9 910,1505.9 912.5,1505.9 915,1505.9 917.6,1505.9 920.1,1505.9 922.6,1505.9 925.2,1505.9 927.7,1505.9 930.2,1505.9 932.8,1505.9 935.3,1505.9 937.9,1505.9 940.4,1505.9 942.9,1505.9 945.5,1505.9 948,1505.9 950.5,1505.9 953.1,1505.9 955.6,1505.9 958.2,1505.9 960.7,1505.9 963.2,1505.9 965.8,1505.9 968.3,1505.9 970.9,1505.9 973.4,1505.9 975.9,1505.9 978.5,1505.9 981,1505.9 983.5,1505.9 986.1,1505.9 988.6,1505.9 991.1,1505.9 993.7,1505.9 996.2,1505.9 998.8,1505.9 1001.3,1505.9 1003.8,1505.9 1006.4,1505.9 1008.9,1505.9 1011.5,1505.9 1014,1505.9 1016.5,1505.9 1019.1,1505.9 1021.6,1505.9 1024.1,1505.9 1026.7,1505.9 1029.2,1469.6 1031.8,1213.6 1034.3,1144.8 1036.8,1061.1 1039.4,996.8 1041.9,948.4 1044.4,929.5 1047,924.2 1049.5,929.1 1052,932.9 1054.6,934.1 1057.1,933.9 1059.7,939.8 1062.2,949.2 1064.7,950.9 1067.3,952.9 1069.8,949.6 1072.3,948.3 1074.9,950.3 1077.4,955.5 1080,954.8 1082.5,945 1085,940.3 1087.6,937.4 1090.1,929.5 1092.7,937.3 1095.2,944.1 1097.7,943.8 1100.3,947.2 1102.8,948.5 1105.3,951.1 1107.9,954.1 1110.4,955 1113,951.6 1115.5,951.9 1118,945.1 1120.6,940.3 1123.1,943 1125.6,943.7 1128.2,940.5 1130.7,942.5 1133.2,946 1135.8,944.7 1138.3,941.9 1140.9,943 1143.4,944.8 1145.9,948.4 1148.5,944.9 1151,937.6 1153.5,943.9 1156.1,952.7 1158.6,943.8 1161.2,951.7 1163.7,943.6 1166.2,936.2 1168.8,939 1171.3,942.9 1173.8,948.6 1176.4,949.8 1178.9,941.9 1181.5,938.1 1184,935.5 1186.5,929.3 1189.1,956.3 1191.6,950.1 1194.2,939.5 1196.7,934.6 1199.2,935 1201.8,943.3 1204.3,943.1 1206.8,938.6 1209.4,937.6 1211.9,945.5 1214.5,953.2 1217,956.1 1219.5,956.8 1222.1,962.8 1224.6,965.8 1227.1,956.5 1229.7,947.3 1232.2,947.1 1234.8,944.6 1237.3,951 1239.8,961.9 1242.4,967.8 1244.9,956.4 1247.4,940.2 1250,938.3 1252.5,942.4 1255,950 1257.6,955.4 1260.1,961.1 1262.7,960.3 1265.2,957 1267.7,953.5 1270.3,951.3 1272.8,953.1 1275.3,955.8 1277.9,954.6 1280.4,956.2 1283,950.8 1285.5,948.3 1288,947.9 1290.6,947.6 1293.1,944.5 1295.7,940.1 1298.2,936.4 1300.7,937.8 1303.3,940.8 1305.8,942.5 1308.3,949.9 1310.9,955.2 1313.4,954.7 1316,950.7 1318.5,946.7 1321,945.1 1323.6,944.1 1326.1,945.2 1328.6,948.2 1331.2,957.8 1333.7,964.7 1336.2,957.3 1338.8,960 1341.3,974.9 1343.9,1005.3 1346.4,1049.4 1348.9,1106.5 1351.5,1172.9 1354,1240.7 1356.5,1302.4 1359.1,1347.7 1361.6,1379.8 1364.2,1407.3 1366.7,1431.6 1369.2,1448.4 1371.8,1460.5 1374.3,1472.5 1376.8,1482.1 1379.4,1489.3 1381.9,1492.2 1384.5,1493.8 1387,1495.1 1389.5,1496.1 1392.1,1497.1 1394.6,1497.8 1397.2,1498.5 1399.7,1498.9 1402.2,1499.3 1404.8,1499.6 1407.3,1499.9 1409.8,1500 1412.4,1500 1414.9,1499.8 1417.4,1499.6 1420,1499.5 1422.5,1499.5 1425.1,1499.6 1427.6,1499.7 1430.1,1499.8 1432.7,1499.7 1435.2,1499.7 1437.8,1499.6 1440.3,1499.7 1442.8,1499.8 1445.4,1500 1447.9,1500.3 1450.4,1500.6 1453,1500.7 1455.5,1500.7 1458,1500.7 1460.6,1500.9 1463.1,1501.2 1465.7,1501.4 1468.2,1501.1 1470.7,1500.6 1473.3,1500.1 1475.8,1499.8 1478.3,1499.7 1480.9,1499.8 1483.4,1500 1486,1500.3 1488.5,1500.6 1488.5,1503.9 1486,1503.6 1483.4,1503.4 1480.9,1503.1 1478.3,1502.8 1475.8,1503.1 1473.3,1503.6 1470.7,1504.1 1468.2,1504.4 1465.7,1504.5 1463.1,1504.4 1460.6,1504.2 1458,1504 1455.5,1503.8 1453,1503.8 1450.4,1503.8 1447.9,1503.6 1445.4,1503.4 1442.8,1503.1 1440.3,1502.9 1437.8,1502.8 1435.2,1502.8 1432.7,1502.9 1430.1,1502.9 1427.6,1502.9 1425.1,1502.8 1422.5,1502.6 1420,1502.7 1417.4,1502.9 1414.9,1503.1 1412.4,1503.2 1409.8,1503.2 1407.3,1503.1 1404.8,1503 1402.2,1502.7 1399.7,1502.4 1397.2,1502 1394.6,1501.5 1392.1,1500.9 1389.5,1500.1 1387,1499.2 1384.5,1498.1 1381.9,1496.8 1379.4,1495.9 1376.8,1491.5 1374.3,1484.5 1371.8,1473.8 1369.2,1463.1 1366.7,1451 1364.2,1431.8 1361.6,1407.5 1359.1,1381.6 1356.5,1348.3 1354,1298.2 1351.5,1235.6 1348.9,1167.4 1346.4,1102.4 1343.9,1047.1 1341.3,1005.1 1338.8,972.3 1336.2,981.8 1333.7,978.7 1331.2,974.5 1328.6,965.8 1326.1,962.5 1323.6,970.1 1321,972.3 1318.5,971.8 1316,972.3 1313.4,972.6 1310.9,974.4 1308.3,977.7 1305.8,974.8 1303.3,961 1300.7,952.2 1298.2,952.9 1295.7,957.5 1293.1,962.3 1290.6,967.6 1288,975 1285.5,977.4 1283,972.6 1280.4,964.5 1277.9,965.9 1275.3,964.7 1272.8,965.4 1270.3,967.4 1267.7,970.7 1265.2,973.4 1262.7,974.2 1260.1,978.2 1257.6,983 1255,974.7 1252.5,966 1250,965 1247.4,970.9 1244.9,972.9 1242.4,977.7 1239.8,981.3 1237.3,974.4 1234.8,963.3 1232.2,955.7 1229.7,965.6 1227.1,975.1 1224.6,977.7 1222.1,976.5 1219.5,973.4 1217,968.9 1214.5,964.9 1211.9,961 1209.4,958.6 1206.8,956.3 1204.3,958.6 1201.8,965.2 1199.2,971.7 1196.7,969.6 1194.2,966.4 1191.6,967.1 1189.1,971.3 1186.5,980 1184,967.4 1181.5,962.6 1178.9,962.4 1176.4,961.2 1173.8,968 1171.3,976.3 1168.8,980.6 1166.2,983.1 1163.7,976 1161.2,968.3 1158.6,975.4 1156.1,964.7 1153.5,970.9 1151,974.3 1148.5,965.6 1145.9,963.8 1143.4,969.7 1140.9,972.5 1138.3,974 1135.8,971.5 1133.2,968.9 1130.7,967.7 1128.2,965 1125.6,961.8 1123.1,964.4 1120.6,967.2 1118,963.2 1115.5,960.1 1113,965.1 1110.4,964.4 1107.9,965.5 1105.3,966.7 1102.8,966.8 1100.3,966.3 1097.7,964 1095.2,958.9 1092.7,959.8 1090.1,961.5 1087.6,953.6 1085,954.8 1082.5,962.6 1080,971.4 1077.4,983.1 1074.9,984.1 1072.3,982 1069.8,974.5 1067.3,965 1064.7,962.8 1062.2,958.4 1059.7,961.5 1057.1,959.2 1054.6,950.7 1052,943.6 1049.5,939.1 1047,937.8 1044.4,957.4 1041.9,990.2 1039.4,1035 1036.8,1111.4 1034.3,1201.6 1031.8,1317 1029.2,1510.6 1026.7,1509.1 1024.1,1509.1 1021.6,1509.1 1019.1,1509.1 1016.5,1509.1 1014,1509.1 1011.5,1509.1 1008.9,1509.1 1006.4,1509.1 1003.8,1509.1 1001.3,1509.1 998.8,1509.1 996.2,1509.1 993.7,1509.1 991.1,1509.1 988.6,1509.1 986.1,1509.1 983.5,1509.1 981,1509.1 978.5,1509.1 975.9,1509.1 973.4,1509.1 970.9,1509.1 968.3,1509.1 965.8,1509.1 963.2,1509.1 960.7,1509.1 958.2,1509.1 955.6,1509.1 953.1,1509.1 950.5,1509.1 948,1509.1 945.5,1509.1 942.9,1509.1 940.4,1509.1 937.9,1509.1 935.3,1509.1 932.8,1509.1 930.2,1509.1 927.7,1509.1 925.2,1509.1 922.6,1509.1 920.1,1509.1 917.6,1509.1 915,1509.1 912.5,1509.1 910,1509.1 907.4,1509.1 904.9,1509.1 902.3,1509.1 899.8,1509.1 897.3,1509.1 894.7,1509.1 892.2,1509.1 889.6,1509.1 887.1,1509.1 884.6,1509.1 882,1509.1 879.5,1509.1" fill="#77AC30" fill-opacity="0.3" stroke="none"/>
<polygon points="879.5,1505.9 882,1505.9 884.6,1505.9 887.1,1505.9 889.6,1505.9 892.2,1505.9 894.7,1505.9 897.3,1505.9 899.8,1505.9 902.3,1505.9 904.9,1505.9 907.4,1505.9 910,1505.9 912.5,1505.9 915,1505.9 917.6,1505.9 920.1,1505.9 922.6,1505.9 925.2,1505.9 927.7,1505.9 930.2,1505.9 932.8,1505.9 935.3,1505.9 937.9,1505.9 940.4,1505.9 942.9,1505.9 945.5,1505.9 948,1505.9 950.5,1505.9 953.1,1505.9 955.6,1505.9 958.2,1505.9 960.7,1505.9 963.2,1505.9 965.8,1505.9 968.3,1505.9 970.9,1505.9 973.4,1505.9 975.9,1505.9 978.5,1505.9 981,1505.9 983.5,1505.9 986.1,1505.9 988.6,1505.9 991.1,1505.9 993.7,1505.9 996.2,1505.9 998.8,1505.9 1001.3,1505.9 1003.8,1505.9 1006.4,1505.9 1008.9,1505.9 1011.5,1505.9 1014,1505.9 1016.5,1505.9 1019.1,1505.9 1021.6,1505.9 1024.1,1505.9 1026.7,1505.9 1029.2,1469.6 1031.8,1213.6 1034.3,1144.8 1036.8,1061.1 1039.4,996.8 1041.9,948.4 1044.4,929.5 1047,924.2 1049.5,929.1 1052,932.9 1054.6,934.1 1057.1,933.9 1059.7,939.8 1062.2,949.2 1064.7,950.9 1067.3,952.9 1069.8,949.6 1072.3,948.3 1074.9,950.3 1077.4,955.5 1080,954.8 1082.5,945 1085,940.3 1087.6,937.4 1090.1,929.5 1092.7,937.3 1095.2,944.1 1097.7,943.8 1100.3,947.2 1102.8,948.5 1105.3,951.1 1107.9,954.1 1110.4,955 1113,951.6 1115.5,951.9 1118,945.1 1120.6,940.3 1123.1,943 1125.6,943.7 1128.2,940.5 1130.7,942.5 1133.2,946 1135.8,944.7 1138.3,941.9 1140.9,943 1143.4,944.8 1145.9,948.4 1148.5,944.9 1151,937.6 1153.5,943.9 1156.1,952.7 1158.6,943.8 1161.2,951.7 1163.7,943.6 1166.2,936.2 1168.8,939 1171.3,942.9 1173.8,948.6 1176.4,949.8 1178.9,941.9 1181.5,938.1 1184,935.5 1186.5,929.3 1189.1,937.7 1191.6,936.8 1194.2,930.2 1196.7,935.4 1199.2,937 1201.8,934.3 1204.3,940.6 1206.8,946.5 1209.4,951.1 1211.9,928 1214.5,941.4 1217,947.7 1219.5,943.2 1222.1,954.4 1224.6,948 1227.1,936.4 1229.7,958 1232.2,965 1234.8,953.6 1237.3,944.3 1239.8,944 1242.4,948.4 1244.9,955 1247.4,944.4 1250,930.1 1252.5,931.1 1255,929.3 1257.6,931.1 1260.1,940.5 1262.7,943.2 1265.2,934.6 1267.7,927.3 1270.3,928.3 1272.8,941.8 1275.3,948 1277.9,949.1 1280.4,937.4 1283,918.7 1285.5,934.4 1288,949.3 1290.6,958 1293.1,955.7 1295.7,954.2 1298.2,949.8 1300.7,933.3 1303.3,923.9 1305.8,946.5 1308.3,962.1 1310.9,955.2 1313.4,935 1316,917.3 1318.5,926.5 1321,945.5 1323.6,961.4 1326.1,954.6 1328.6,978.5 1331.2,1020.4 1333.7,1080.1 1336.2,1156 1338.8,1245.4 1341.3,1339.6 1343.9,1421.9 1346.4,1474.5 1348.9,1497.6 1351.5,1505.2 1354,1505.9 1356.5,1505.9 1359.1,1505.9 1361.6,1505.9 1364.2,1505.9 1366.7,1505.9 1369.2,1505.9 1371.8,1505.9 1374.3,1505.9 1376.8,1505.9 1379.4,1505.9 1381.9,1505.9 1384.5,1505.9 1387,1505.9 1389.5,1505.9 1392.1,1505.9 1394.6,1505.9 1397.2,1505.9 1399.7,1505.9 1402.2,1505.9 1404.8,1505.9 1407.3,1505.9 1409.8,1505.9 1412.4,1505.9 1414.9,1505.9 1417.4,1505.9 1420,1505.9 1422.5,1505.9 1425.1,1505.9 1427.6,1505.9 1430.1,1505.9 1432.7,1505.9 1435.2,1505.9 1437.8,1505.9 1440.3,1505.9 1442.8,1505.9 1445.4,1505.9 1447.9,1505.9 1450.4,1505.9 1453,1505.9 1455.5,1505.9 1458,1505.9 1460.6,1505.9 1463.1,1505.9 1465.7,1505.9 1468.2,1505.9 1470.7,1505.9 1473.3,1505.9 1475.8,1505.9 1478.3,1505.9 1480.9,1505.9 1483.4,1505.9 1486,1505.9 1488.5,1505.9 1488.5,1509.1 1486,1509.1 1483.4,1509.1 1480.9,1509.1 1478.3,1509.1 1475.8,1509.1 1473.3,1509.1 1470.7,1509.1 1468.2,1509.1 1465.7,1509.1 1463.1,1509.1 1460.6,1509.1 1458,1509.1 1455.5,1509.1 1453,1509.1 1450.4,1509.1 1447.9,1509.1 1445.4,1509.1 1442.8,1509.1 1440.3,1509.1 1437.8,1509.1 1435.2,1509.1 1432.7,1509.1 1430.1,1509.1 1427.6,1509.1 1425.1,1509.1 1422.5,1509.1 1420,1509.1 1417.4,1509.1 1414.9,1509.1 1412.4,1509.1 1409.8,1509.1 1407.3,1509.1 1404.8,1509.1 1402.2,1509.1 1399.7,1509.1 1397.2,1509.1 1394.6,1509.1 1392.1,1509.1 1389.5,1509.1 1387,1509.1 1384.5,1509.1 1381.9,1509.1 1379.4,1509.1 1376.8,1509.1 1374.3,1509.1 1371.8,1509.1 1369.2,1509.1 1366.7,1509.1 1364.2,1509.1 1361.6,1509.1 1359.1,1509.1 1356.5,1509.1 1354,1509.1 1351.5,1509.8 1348.9,1507.1 1346.4,1495 1343.9,1458.6 1341.3,1389.7 1338.8,1299.8 1336.2,1206.9 1333.7,1123.5 1331.2,1054.8 1328.6,1001.5 1326.1,978 1323.6,968.6 1321,985.4 1318.5,996.7 1316,1000.9 1313.4,988 1310.9,981 1308.3,975.6 1305.8,981.9 1303.3,992.6 1300.7,972.8 1298.2,963.8 1295.7,975.4 1293.1,977.4 1290.6,969.2 1288,965.8 1285.5,965.6 1283,986.8 1280.4,982.7 1277.9,967 1275.3,960.6 1272.8,972.9 1270.3,980.3 1267.7,963.5 1265.2,955.2 1262.7,952.3 1260.1,957.2 1257.6,964.5 1255,965.9 1252.5,972.9 1250,987.4 1247.4,987.8 1244.9,983.5 1242.4,974.4 1239.8,955.8 1237.3,957.6 1234.8,966.7 1232.2,977.6 1229.7,990.6 1227.1,1002 1224.6,984.5 1222.1,969.2 1219.5,969.2 1217,971 1214.5,983.9 1211.9,997.9 1209.4,978.4 1206.8,967.4 1204.3,951.8 1201.8,950 1199.2,948.3 1196.7,958.5 1194.2,975.1 1191.6,983.8 1189.1,989.9 1186.5,980 1184,967.4 1181.5,962.6 1178.9,962.4 1176.4,961.2 1173.8,968 1171.3,976.3 1168.8,980.6 1166.2,983.1 1163.7,976 1161.2,968.3 1158.6,975.4 1156.1,964.7 1153.5,970.9 1151,974.3 1148.5,965.6 1145.9,963.8 1143.4,969.7 1140.9,972.5 1138.3,974 1135.8,971.5 1133.2,968.9 1130.7,967.7 1128.2,965 1125.6,961.8 1123.1,964.4 1120.6,967.2 1118,963.2 1115.5,960.1 1113,965.1 1110.4,964.4 1107.9,965.5 1105.3,966.7 1102.8,966.8 1100.3,966.3 1097.7,964 1095.2,958.9 1092.7,959.8 1090.1,961.5 1087.6,953.6 1085,954.8 1082.5,962.6 1080,971.4 1077.4,983.1 1074.9,984.1 1072.3,982 1069.8,974.5 1067.3,965 1064.7,962.8 1062.2,958.4 1059.7,961.5 1057.1,959.2 1054.6,950.7 1052,943.6 1049.5,939.1 1047,937.8 1044.4,957.4 1041.9,990.2 1039.4,1035 1036.8,1111.4 1034.3,1201.6 1031.8,1317 1029.2,1510.6 1026.7,1509.1 1024.1,1509.1 1021.6,1509.1 1019.1,1509.1 1016.5,1509.1 1014,1509.1 1011.5,1509.1 1008.9,1509.1 1006.4,1509.1 1003.8,1509.1 1001.3,1509.1 998.8,1509.1 996.2,1509.1 993.7,1509.1 991.1,1509.1 988.6,1509.1 986.1,1509.1 983.5,1509.1 981,1509.1 978.5,1509.1 975.9,1509.1 973.4,1509.1 970.9,1509.1 968.3,1509.1 965.8,1509.1 963.2,1509.1 960.7,1509.1 958.2,1509.1 955.6,1509.1 953.1,1509.1 950.5,1509.1 948,1509.1 945.5,1509.1 942.9,1509.1 940.4,1509.1 937.9,1509.1 935.3,1509.1 932.8,1509.1 930.2,1509.1 927.7,1509.1 925.2,1509.1 922.6,1509.1 920.1,1509.1 917.6,1509.1 915,1509.1 912.5,1509.1 910,1509.1 907.4,1509.1 904.9,1509.1 902.3,1509.1 899.8,1509.1 897.3,1509.1 894.7,1509.1 892.2,1509.1 889.6,1509.1 887.1,1509.1 884.6,1509.1 882,1509.1 879.5,1509.1" fill="#7E2F8E" fill-opacity="0.3" stroke="none"/>
</g>
<polyline points="879.5,1507.5 1031.8,1507.5 1031.8,956.5 1334.7,956.5 1338.8,1507.5 1348.9,1507.5 1488.5,1507.5" fill="none" stroke="#0072BD" stroke-width="3" stroke-linejoin="miter"/>
<g fill="none" stroke="#D95319" stroke-width="2.5">
<circle cx="879.5" cy="1507.5" r="4.75"/><circle cx="882" cy="1507.5" r="4.75"/><circle cx="884.6" cy="1507.5" r="4.75"/><circle cx="887.1" cy="1507.5" r="4.75"/><circle cx="889.6" cy="1507.5" r="4.75"/><circle cx="892.2" cy="1507.5" r="4.75"/><circle cx="894.7" cy="1507.5" r="4.75"/><circle cx="897.3" cy="1507.5" r="4.75"/><circle cx="899.8" cy="1507.5" r="4.75"/><circle cx="902.3" cy="1507.5" r="4.75"/><circle cx="904.9" cy="1507.5" r="4.75"/><circle cx="907.4" cy="1507.5" r="4.75"/><circle cx="910" cy="1507.5" r="4.75"/><circle cx="912.5" cy="1507.5" r="4.75"/><circle cx="915" cy="1507.5" r="4.75"/><circle cx="917.6" cy="1507.5" r="4.75"/><circle cx="920.1" cy="1507.5" r="4.75"/><circle cx="922.6" cy="1507.5" r="4.75"/><circle cx="925.2" cy="1507.5" r="4.75"/><circle cx="927.7" cy="1507.5" r="4.75"/><circle cx="930.2" cy="1507.5" r="4.75"/><circle cx="932.8" cy="1507.5" r="4.75"/><circle cx="935.3" cy="1507.5" r="4.75"/><circle cx="937.9" cy="1507.5" r="4.75"/><circle cx="940.4" cy="1507.5" r="4.75"/><circle cx="942.9" cy="1507.5" r="4.75"/><circle cx="945.5" cy="1507.5" r="4.75"/><circle cx="948" cy="1507.5" r="4.75"/><circle cx="950.5" cy="1507.5" r="4.75"/><circle cx="953.1" cy="1507.5" r="4.75"/><circle cx="955.6" cy="1507.5" r="4.75"/><circle cx="958.2" cy="1507.5" r="4.75"/><circle cx="960.7" cy="1507.5" r="4.75"/><circle cx="963.2" cy="1507.5" r="4.75"/><circle cx="965.8" cy="1507.5" r="4.75"/><circle cx="968.3" cy="1507.5" r="4.75"/><circle cx="970.9" cy="1507.5" r="4.75"/><circle cx="973.4" cy="1507.5" r="4.75"/><circle cx="975.9" cy="1507.5" r="4.75"/><circle cx="978.5" cy="1507.5" r="4.75"/><circle cx="981" cy="1507.5" r="4.75"/><circle cx="983.5" cy="1507.5" r="4.75"/><circle cx="986.1" cy="1507.5" r="4.75"/><circle cx="988.6" cy="1507.5" r="4.75"/><circle cx="991.1" cy="1507.5" r="4.75"/><circle cx="993.7" cy="1507.5" r="4.75"/><circle cx="996.2" cy="1507.5" r="4.75"/><circle cx="998.8" cy="1507.5" r="4.75"/><circle cx="1001.3" cy="1507.5" r="4.75"/><circle cx="1003.8" cy="1507.5" r="4.75"/><circle cx="1006.4" cy="1507.5" r="4.75"/><circle cx="1008.9" cy="1507.5" r="4.75"/><circle cx="1011.5" cy="1507.5" r="4.75"/><circle cx="1014" cy="1507.5" r="4.75"/><circle cx="1016.5" cy="1507.5" r="4.75"/><circle cx="1019.1" cy="1507.5" r="4.75"/><circle cx="1021.6" cy="1507.5" r="4.75"/><circle cx="1024.1" cy="1507.5" r="4.75"/><circle cx="1026.7" cy="1507.5" r="4.75"/><circle cx="1029.2" cy="1507.5" r="4.75"/><circle cx="1031.8" cy="1507.5" r="4.75"/><circle cx="1034.3" cy="1507.5" r="4.75"/><circle cx="1036.8" cy="1507.5" r="4.75"/><circle cx="1039.4" cy="1507.5" r="4.75"/><circle cx="1041.9" cy="1507.5" r="4.75"/><circle cx="1044.4" cy="1504.4" r="4.75"/><circle cx="1047" cy="1496.6" r="4.75"/><circle cx="1049.5" cy="1465.1" r="4.75"/><circle cx="1052" cy="1409.2" r="4.75"/><circle cx="1054.6" cy="1341.9" r="4.75"/><circle cx="1057.1" cy="1269.5" r="4.75"/><circle cx="1059.7" cy="1207.3" r="4.75"/><circle cx="1062.2" cy="1159.7" r="4.75"/><circle cx="1064.7" cy="1113.2" r="4.75"/><circle cx="1067.3" cy="1070.7" r="4.75"/><circle cx="1069.8" cy="1045.9" r="4.75"/><circle cx="1072.3" cy="1008.6" r="4.75"/><circle cx="1074.9" cy="997.2" r="4.75"/><circle cx="1077.4" cy="993.1" r="4.75"/><circle cx="1080" cy="979.6" r="4.75"/><circle cx="1082.5" cy="977" r="4.75"/><circle cx="1085" cy="972.8" r="4.75"/><circle cx="1087.6" cy="968.7" r="4.75"/><circle cx="1090.1" cy="963.9" r="4.75"/><circle cx="1092.7" cy="960.5" r="4.75"/><circle cx="1095.2" cy="961.4" r="4.75"/><circle cx="1097.7" cy="965" r="4.75"/><circle cx="1100.3" cy="967.8" r="4.75"/><circle cx="1102.8" cy="966.8" r="4.75"/><circle cx="1105.3" cy="962.5" r="4.75"/><circle cx="1107.9" cy="960.7" r="4.75"/><circle cx="1110.4" cy="961.5" r="4.75"/><circle cx="1113" cy="962.6" r="4.75"/><circle cx="1115.5" cy="961.4" r="4.75"/><circle cx="1118" cy="958.2" r="4.75"/><circle cx="1120.6" cy="955.8" r="4.75"/><circle cx="1123.1" cy="956.5" r="4.75"/><circle cx="1125.6" cy="958.3" r="4.75"/><circle cx="1128.2" cy="958.3" r="4.75"/><circle cx="1130.7" cy="956.4" r="4.75"/><circle cx="1133.2" cy="953.9" r="4.75"/><circle cx="1135.8" cy="952" r="4.75"/><circle cx="1138.3" cy="951.2" r="4.75"/><circle cx="1140.9" cy="951.5" r="4.75"/><circle cx="1143.4" cy="951.9" r="4.75"/><circle cx="1145.9" cy="951.7" r="4.75"/><circle cx="1148.5" cy="952.3" r="4.75"/><circle cx="1151" cy="954.2" r="4.75"/><circle cx="1153.5" cy="955.5" r="4.75"/><circle cx="1156.1" cy="954.7" r="4.75"/><circle cx="1158.6" cy="954.1" r="4.75"/><circle cx="1161.2" cy="956.8" r="4.75"/><circle cx="1163.7" cy="960.3" r="4.75"/><circle cx="1166.2" cy="960.5" r="4.75"/><circle cx="1168.8" cy="957.1" r="4.75"/><circle cx="1171.3" cy="952.5" r="4.75"/><circle cx="1173.8" cy="950.1" r="4.75"/><circle cx="1176.4" cy="951.7" r="4.75"/><circle cx="1178.9" cy="955.3" r="4.75"/><circle cx="1181.5" cy="956.8" r="4.75"/><circle cx="1184" cy="955.6" r="4.75"/><circle cx="1186.5" cy="954.6" r="4.75"/><circle cx="1189.1" cy="953.5" r="4.75"/><circle cx="1191.6" cy="950.8" r="4.75"/><circle cx="1194.2" cy="948.8" r="4.75"/><circle cx="1196.7" cy="949.7" r="4.75"/><circle cx="1199.2" cy="952.8" r="4.75"/><circle cx="1201.8" cy="956.6" r="4.75"/><circle cx="1204.3" cy="958.8" r="4.75"/><circle cx="1206.8" cy="957" r="4.75"/><circle cx="1209.4" cy="953.7" r="4.75"/><circle cx="1211.9" cy="953.9" r="4.75"/><circle cx="1214.5" cy="955.5" r="4.75"/><circle cx="1217" cy="954.4" r="4.75"/><circle cx="1219.5" cy="952.5" r="4.75"/><circle cx="1222.1" cy="951.9" r="4.75"/><circle cx="1224.6" cy="950.7" r="4.75"/><circle cx="1227.1" cy="948.1" r="4.75"/><circle cx="1229.7" cy="946.3" r="4.75"/><circle cx="1232.2" cy="946.6" r="4.75"/><circle cx="1234.8" cy="948.1" r="4.75"/><circle cx="1237.3" cy="948.6" r="4.75"/><circle cx="1239.8" cy="948.2" r="4.75"/><circle cx="1242.4" cy="949.3" r="4.75"/><circle cx="1244.9" cy="953.9" r="4.75"/><circle cx="1247.4" cy="959.3" r="4.75"/><circle cx="1250" cy="961.8" r="4.75"/><circle cx="1252.5" cy="961.6" r="4.75"/><circle cx="1255" cy="960.2" r="4.75"/><circle cx="1257.6" cy="958.3" r="4.75"/><circle cx="1260.1" cy="956.4" r="4.75"/><circle cx="1262.7" cy="954.7" r="4.75"/><circle cx="1265.2" cy="953.6" r="4.75"/><circle cx="1267.7" cy="953.4" r="4.75"/><circle cx="1270.3" cy="954.7" r="4.75"/><circle cx="1272.8" cy="957.3" r="4.75"/><circle cx="1275.3" cy="959.9" r="4.75"/><circle cx="1277.9" cy="961.7" r="4.75"/><circle cx="1280.4" cy="962" r="4.75"/><circle cx="1283" cy="962.2" r="4.75"/><circle cx="1285.5" cy="962.8" r="4.75"/><circle cx="1288" cy="961.9" r="4.75"/><circle cx="1290.6" cy="960.6" r="4.75"/><circle cx="1293.1" cy="961.4" r="4.75"/><circle cx="1295.7" cy="962.7" r="4.75"/><circle cx="1298.2" cy="960.2" r="4.75"/><circle cx="1300.7" cy="953.9" r="4.75"/><circle cx="1303.3" cy="948.3" r="4.75"/><circle cx="1305.8" cy="946.5" r="4.75"/><circle cx="1308.3" cy="949.4" r="4.75"/><circle cx="1310.9" cy="956.8" r="4.75"/><circle cx="1313.4" cy="965.4" r="4.75"/><circle cx="1316" cy="968.5" r="4.75"/><circle cx="1318.5" cy="963.8" r="4.75"/><circle cx="1321" cy="957.5" r="4.75"/><circle cx="1323.6" cy="954.7" r="4.75"/><circle cx="1326.1" cy="955.3" r="4.75"/><circle cx="1328.6" cy="957.1" r="4.75"/><circle cx="1331.2" cy="957.5" r="4.75"/><circle cx="1333.7" cy="957.8" r="4.75"/><circle cx="1336.2" cy="958.9" r="4.75"/><circle cx="1338.8" cy="957.6" r="4.75"/><circle cx="1341.3" cy="953.2" r="4.75"/><circle cx="1343.9" cy="949.7" r="4.75"/><circle cx="1346.4" cy="950.5" r="4.75"/><circle cx="1348.9" cy="956.4" r="4.75"/><circle cx="1351.5" cy="959.4" r="4.75"/><circle cx="1354" cy="959.6" r="4.75"/><circle cx="1356.5" cy="960" r="4.75"/><circle cx="1359.1" cy="961.2" r="4.75"/><circle cx="1361.6" cy="963.1" r="4.75"/><circle cx="1364.2" cy="966.2" r="4.75"/><circle cx="1366.7" cy="997.2" r="4.75"/><circle cx="1369.2" cy="1040.7" r="4.75"/><circle cx="1371.8" cy="1085.2" r="4.75"/><circle cx="1374.3" cy="1122.5" r="4.75"/><circle cx="1376.8" cy="1180.4" r="4.75"/><circle cx="1379.4" cy="1219.8" r="4.75"/><circle cx="1381.9" cy="1258.1" r="4.75"/><circle cx="1384.5" cy="1291.2" r="4.75"/><circle cx="1387" cy="1334.7" r="4.75"/><circle cx="1389.5" cy="1355.4" r="4.75"/><circle cx="1392.1" cy="1381.2" r="4.75"/><circle cx="1394.6" cy="1404" r="4.75"/><circle cx="1397.2" cy="1424.7" r="4.75"/><circle cx="1399.7" cy="1436.1" r="4.75"/><circle cx="1402.2" cy="1447.5" r="4.75"/><circle cx="1404.8" cy="1458.9" r="4.75"/><circle cx="1407.3" cy="1468.2" r="4.75"/><circle cx="1409.8" cy="1474.4" r="4.75"/><circle cx="1412.4" cy="1480.6" r="4.75"/><circle cx="1414.9" cy="1485.6" r="4.75"/><circle cx="1417.4" cy="1488.7" r="4.75"/><circle cx="1420" cy="1491.1" r="4.75"/><circle cx="1422.5" cy="1493.1" r="4.75"/><circle cx="1425.1" cy="1494.5" r="4.75"/><circle cx="1427.6" cy="1495.5" r="4.75"/><circle cx="1430.1" cy="1496.2" r="4.75"/><circle cx="1432.7" cy="1496.6" r="4.75"/><circle cx="1435.2" cy="1496.9" r="4.75"/><circle cx="1437.8" cy="1497.2" r="4.75"/><circle cx="1440.3" cy="1497.6" r="4.75"/><circle cx="1442.8" cy="1498" r="4.75"/><circle cx="1445.4" cy="1498.5" r="4.75"/><circle cx="1447.9" cy="1498.8" r="4.75"/><circle cx="1450.4" cy="1499.1" r="4.75"/><circle cx="1453" cy="1499.3" r="4.75"/><circle cx="1455.5" cy="1499.5" r="4.75"/><circle cx="1458" cy="1499.8" r="4.75"/><circle cx="1460.6" cy="1500.1" r="4.75"/><circle cx="1463.1" cy="1500.5" r="4.75"/><circle cx="1465.7" cy="1500.9" r="4.75"/><circle cx="1468.2" cy="1501.2" r="4.75"/><circle cx="1470.7" cy="1501.3" r="4.75"/><circle cx="1473.3" cy="1501.3" r="4.75"/><circle cx="1475.8" cy="1501.2" r="4.75"/><circle cx="1478.3" cy="1501.1" r="4.75"/><circle cx="1480.9" cy="1501" r="4.75"/><circle cx="1483.4" cy="1500.8" r="4.75"/><circle cx="1486" cy="1500.7" r="4.75"/><circle cx="1488.5" cy="1500.7" r="4.75"/>
</g>
<g fill="none" stroke="#77AC30" stroke-width="2.5">
<circle cx="879.5" cy="1507.5" r="4.75"/><circle cx="882" cy="1507.5" r="4.75"/><circle cx="884.6" cy="1507.5" r="4.75"/><circle cx="887.1" cy="1507.5" r="4.75"/><circle cx="889.6" cy="1507.5" r="4.75"/><circle cx="892.2" cy="1507.5" r="4.75"/><circle cx="894.7" cy="1507.5" r="4.75"/><circle cx="897.3" cy="1507.5" r="4.75"/><circle cx="899.8" cy="1507.5" r="4.75"/><circle cx="902.3" cy="1507.5" r="4.75"/><circle cx="904.9" cy="1507.5" r="4.75"/><circle cx="907.4" cy="1507.5" r="4.75"/><circle cx="910" cy="1507.5" r="4.75"/><circle cx="912.5" cy="1507.5" r="4.75"/><circle cx="915" cy="1507.5" r="4.75"/><circle cx="917.6" cy="1507.5" r="4.75"/><circle cx="920.1" cy="1507.5" r="4.75"/><circle cx="922.6" cy="1507.5" r="4.75"/><circle cx="925.2" cy="1507.5" r="4.75"/><circle cx="927.7" cy="1507.5" r="4.75"/><circle cx="930.2" cy="1507.5" r="4.75"/><circle cx="932.8" cy="1507.5" r="4.75"/><circle cx="935.3" cy="1507.5" r="4.75"/><circle cx="937.9" cy="1507.5" r="4.75"/><circle cx="940.4" cy="1507.5" r="4.75"/><circle cx="942.9" cy="1507.5" r="4.75"/><circle cx="945.5" cy="1507.5" r="4.75"/><circle cx="948" cy="1507.5" r="4.75"/><circle cx="950.5" cy="1507.5" r="4.75"/><circle cx="953.1" cy="1507.5" r="4.75"/><circle cx="955.6" cy="1507.5" r="4.75"/><circle cx="958.2" cy="1507.5" r="4.75"/><circle cx="960.7" cy="1507.5" r="4.75"/><circle cx="963.2" cy="1507.5" r="4.75"/><circle cx="965.8" cy="1507.5" r="4.75"/><circle cx="968.3" cy="1507.5" r="4.75"/><circle cx="970.9" cy="1507.5" r="4.75"/><circle cx="973.4" cy="1507.5" r="4.75"/><circle cx="975.9" cy="1507.5" r="4.75"/><circle cx="978.5" cy="1507.5" r="4.75"/><circle cx="981" cy="1507.5" r="4.75"/><circle cx="983.5" cy="1507.5" r="4.75"/><circle cx="986.1" cy="1507.5" r="4.75"/><circle cx="988.6" cy="1507.5" r="4.75"/><circle cx="991.1" cy="1507.5" r="4.75"/><circle cx="993.7" cy="1507.5" r="4.75"/><circle cx="996.2" cy="1507.5" r="4.75"/><circle cx="998.8" cy="1507.5" r="4.75"/><circle cx="1001.3" cy="1507.5" r="4.75"/><circle cx="1003.8" cy="1507.5" r="4.75"/><circle cx="1006.4" cy="1507.5" r="4.75"/><circle cx="1008.9" cy="1507.5" r="4.75"/><circle cx="1011.5" cy="1507.5" r="4.75"/><circle cx="1014" cy="1507.5" r="4.75"/><circle cx="1016.5" cy="1507.5" r="4.75"/><circle cx="1019.1" cy="1507.5" r="4.75"/><circle cx="1021.6" cy="1507.5" r="4.75"/><circle cx="1024.1" cy="1507.5" r="4.75"/><circle cx="1026.7" cy="1507.5" r="4.75"/><circle cx="1029.2" cy="1507.5" r="4.75"/><circle cx="1031.8" cy="1265.3" r="4.75"/><circle cx="1034.3" cy="1173.2" r="4.75"/><circle cx="1036.8" cy="1086.3" r="4.75"/><circle cx="1039.4" cy="1015.9" r="4.75"/><circle cx="1041.9" cy="969.3" r="4.75"/><circle cx="1044.4" cy="943.4" r="4.75"/><circle cx="1047" cy="931" r="4.75"/><circle cx="1049.5" cy="934.1" r="4.75"/><circle cx="1052" cy="938.2" r="4.75"/><circle cx="1054.6" cy="942.4" r="4.75"/><circle cx="1057.1" cy="946.5" r="4.75"/><circle cx="1059.7" cy="950.7" r="4.75"/><circle cx="1062.2" cy="953.8" r="4.75"/><circle cx="1064.7" cy="956.9" r="4.75"/><circle cx="1067.3" cy="959" r="4.75"/><circle cx="1069.8" cy="962.1" r="4.75"/><circle cx="1072.3" cy="965.2" r="4.75"/><circle cx="1074.9" cy="967.2" r="4.75"/><circle cx="1077.4" cy="969.3" r="4.75"/><circle cx="1080" cy="963.1" r="4.75"/><circle cx="1082.5" cy="953.8" r="4.75"/><circle cx="1085" cy="947.6" r="4.75"/><circle cx="1087.6" cy="945.5" r="4.75"/><circle cx="1090.1" cy="945.5" r="4.75"/><circle cx="1092.7" cy="948.6" r="4.75"/><circle cx="1095.2" cy="951.5" r="4.75"/><circle cx="1097.7" cy="953.9" r="4.75"/><circle cx="1100.3" cy="956.7" r="4.75"/><circle cx="1102.8" cy="957.7" r="4.75"/><circle cx="1105.3" cy="958.9" r="4.75"/><circle cx="1107.9" cy="959.8" r="4.75"/><circle cx="1110.4" cy="959.7" r="4.75"/><circle cx="1113" cy="958.3" r="4.75"/><circle cx="1115.5" cy="956" r="4.75"/><circle cx="1118" cy="954.1" r="4.75"/><circle cx="1120.6" cy="953.8" r="4.75"/><circle cx="1123.1" cy="953.7" r="4.75"/><circle cx="1125.6" cy="952.7" r="4.75"/><circle cx="1128.2" cy="952.8" r="4.75"/><circle cx="1130.7" cy="955.1" r="4.75"/><circle cx="1133.2" cy="957.5" r="4.75"/><circle cx="1135.8" cy="958.1" r="4.75"/><circle cx="1138.3" cy="957.9" r="4.75"/><circle cx="1140.9" cy="957.8" r="4.75"/><circle cx="1143.4" cy="957.3" r="4.75"/><circle cx="1145.9" cy="956.1" r="4.75"/><circle cx="1148.5" cy="955.3" r="4.75"/><circle cx="1151" cy="955.9" r="4.75"/><circle cx="1153.5" cy="957.4" r="4.75"/><circle cx="1156.1" cy="958.7" r="4.75"/><circle cx="1158.6" cy="959.6" r="4.75"/><circle cx="1161.2" cy="960" r="4.75"/><circle cx="1163.7" cy="959.8" r="4.75"/><circle cx="1166.2" cy="959.6" r="4.75"/><circle cx="1168.8" cy="959.8" r="4.75"/><circle cx="1171.3" cy="959.6" r="4.75"/><circle cx="1173.8" cy="958.3" r="4.75"/><circle cx="1176.4" cy="955.5" r="4.75"/><circle cx="1178.9" cy="952.1" r="4.75"/><circle cx="1181.5" cy="950.3" r="4.75"/><circle cx="1184" cy="951.5" r="4.75"/><circle cx="1186.5" cy="954.7" r="4.75"/><circle cx="1189.1" cy="963.8" r="4.75"/><circle cx="1191.6" cy="958.6" r="4.75"/><circle cx="1194.2" cy="952.9" r="4.75"/><circle cx="1196.7" cy="952.1" r="4.75"/><circle cx="1199.2" cy="953.3" r="4.75"/><circle cx="1201.8" cy="954.3" r="4.75"/><circle cx="1204.3" cy="950.8" r="4.75"/><circle cx="1206.8" cy="947.5" r="4.75"/><circle cx="1209.4" cy="948.1" r="4.75"/><circle cx="1211.9" cy="953.3" r="4.75"/><circle cx="1214.5" cy="959" r="4.75"/><circle cx="1217" cy="962.5" r="4.75"/><circle cx="1219.5" cy="965.1" r="4.75"/><circle cx="1222.1" cy="969.6" r="4.75"/><circle cx="1224.6" cy="971.8" r="4.75"/><circle cx="1227.1" cy="965.8" r="4.75"/><circle cx="1229.7" cy="956.5" r="4.75"/><circle cx="1232.2" cy="951.4" r="4.75"/><circle cx="1234.8" cy="953.9" r="4.75"/><circle cx="1237.3" cy="962.7" r="4.75"/><circle cx="1239.8" cy="971.6" r="4.75"/><circle cx="1242.4" cy="972.8" r="4.75"/><circle cx="1244.9" cy="964.7" r="4.75"/><circle cx="1247.4" cy="955.5" r="4.75"/><circle cx="1250" cy="951.6" r="4.75"/><circle cx="1252.5" cy="954.2" r="4.75"/><circle cx="1255" cy="962.3" r="4.75"/><circle cx="1257.6" cy="969.2" r="4.75"/><circle cx="1260.1" cy="969.6" r="4.75"/><circle cx="1262.7" cy="967.3" r="4.75"/><circle cx="1265.2" cy="965.2" r="4.75"/><circle cx="1267.7" cy="962.1" r="4.75"/><circle cx="1270.3" cy="959.3" r="4.75"/><circle cx="1272.8" cy="959.3" r="4.75"/><circle cx="1275.3" cy="960.2" r="4.75"/><circle cx="1277.9" cy="960.2" r="4.75"/><circle cx="1280.4" cy="960.4" r="4.75"/><circle cx="1283" cy="961.7" r="4.75"/><circle cx="1285.5" cy="962.8" r="4.75"/><circle cx="1288" cy="961.5" r="4.75"/><circle cx="1290.6" cy="957.6" r="4.75"/><circle cx="1293.1" cy="953.4" r="4.75"/><circle cx="1295.7" cy="948.8" r="4.75"/><circle cx="1298.2" cy="944.6" r="4.75"/><circle cx="1300.7" cy="945" r="4.75"/><circle cx="1303.3" cy="950.9" r="4.75"/><circle cx="1305.8" cy="958.7" r="4.75"/><circle cx="1308.3" cy="963.8" r="4.75"/><circle cx="1310.9" cy="964.8" r="4.75"/><circle cx="1313.4" cy="963.7" r="4.75"/><circle cx="1316" cy="961.5" r="4.75"/><circle cx="1318.5" cy="959.2" r="4.75"/><circle cx="1321" cy="958.7" r="4.75"/><circle cx="1323.6" cy="957.1" r="4.75"/><circle cx="1326.1" cy="953.8" r="4.75"/><circle cx="1328.6" cy="957" r="4.75"/><circle cx="1331.2" cy="966.1" r="4.75"/><circle cx="1333.7" cy="971.7" r="4.75"/><circle cx="1336.2" cy="969.6" r="4.75"/><circle cx="1338.8" cy="966.2" r="4.75"/><circle cx="1341.3" cy="990" r="4.75"/><circle cx="1343.9" cy="1026.2" r="4.75"/><circle cx="1346.4" cy="1075.9" r="4.75"/><circle cx="1348.9" cy="1137" r="4.75"/><circle cx="1351.5" cy="1204.2" r="4.75"/><circle cx="1354" cy="1269.5" r="4.75"/><circle cx="1356.5" cy="1325.3" r="4.75"/><circle cx="1359.1" cy="1364.7" r="4.75"/><circle cx="1361.6" cy="1393.7" r="4.75"/><circle cx="1364.2" cy="1419.5" r="4.75"/><circle cx="1366.7" cy="1441.3" r="4.75"/><circle cx="1369.2" cy="1455.8" r="4.75"/><circle cx="1371.8" cy="1467.1" r="4.75"/><circle cx="1374.3" cy="1478.5" r="4.75"/><circle cx="1376.8" cy="1486.8" r="4.75"/><circle cx="1379.4" cy="1492.6" r="4.75"/><circle cx="1381.9" cy="1494.5" r="4.75"/><circle cx="1384.5" cy="1496" r="4.75"/><circle cx="1387" cy="1497.1" r="4.75"/><circle cx="1389.5" cy="1498.1" r="4.75"/><circle cx="1392.1" cy="1499" r="4.75"/><circle cx="1394.6" cy="1499.7" r="4.75"/><circle cx="1397.2" cy="1500.2" r="4.75"/><circle cx="1399.7" cy="1500.7" r="4.75"/><circle cx="1402.2" cy="1501" r="4.75"/><circle cx="1404.8" cy="1501.3" r="4.75"/><circle cx="1407.3" cy="1501.5" r="4.75"/><circle cx="1409.8" cy="1501.6" r="4.75"/><circle cx="1412.4" cy="1501.6" r="4.75"/><circle cx="1414.9" cy="1501.4" r="4.75"/><circle cx="1417.4" cy="1501.2" r="4.75"/><circle cx="1420" cy="1501.1" r="4.75"/><circle cx="1422.5" cy="1501.1" r="4.75"/><circle cx="1425.1" cy="1501.2" r="4.75"/><circle cx="1427.6" cy="1501.3" r="4.75"/><circle cx="1430.1" cy="1501.3" r="4.75"/><circle cx="1432.7" cy="1501.3" r="4.75"/><circle cx="1435.2" cy="1501.2" r="4.75"/><circle cx="1437.8" cy="1501.2" r="4.75"/><circle cx="1440.3" cy="1501.3" r="4.75"/><circle cx="1442.8" cy="1501.5" r="4.75"/><circle cx="1445.4" cy="1501.7" r="4.75"/><circle cx="1447.9" cy="1502" r="4.75"/><circle cx="1450.4" cy="1502.2" r="4.75"/><circle cx="1453" cy="1502.2" r="4.75"/><circle cx="1455.5" cy="1502.2" r="4.75"/><circle cx="1458" cy="1502.3" r="4.75"/><circle cx="1460.6" cy="1502.6" r="4.75"/><circle cx="1463.1" cy="1502.8" r="4.75"/><circle cx="1465.7" cy="1502.9" r="4.75"/><circle cx="1468.2" cy="1502.8" r="4.75"/><circle cx="1470.7" cy="1502.4" r="4.75"/><circle cx="1473.3" cy="1501.9" r="4.75"/><circle cx="1475.8" cy="1501.4" r="4.75"/><circle cx="1478.3" cy="1501.3" r="4.75"/><circle cx="1480.9" cy="1501.4" r="4.75"/><circle cx="1483.4" cy="1501.7" r="4.75"/><circle cx="1486" cy="1502" r="4.75"/><circle cx="1488.5" cy="1502.2" r="4.75"/>
</g>
<g fill="none" stroke="#7E2F8E" stroke-width="2.5">
<circle cx="879.5" cy="1507.5" r="4.75"/><circle cx="882" cy="1507.5" r="4.75"/><circle cx="884.6" cy="1507.5" r="4.75"/><circle cx="887.1" cy="1507.5" r="4.75"/><circle cx="889.6" cy="1507.5" r="4.75"/><circle cx="892.2" cy="1507.5" r="4.75"/><circle cx="894.7" cy="1507.5" r="4.75"/><circle cx="897.3" cy="1507.5" r="4.75"/><circle cx="899.8" cy="1507.5" r="4.75"/><circle cx="902.3" cy="1507.5" r="4.75"/><circle cx="904.9" cy="1507.5" r="4.75"/><circle cx="907.4" cy="1507.5" r="4.75"/><circle cx="910" cy="1507.5" r="4.75"/><circle cx="912.5" cy="1507.5" r="4.75"/><circle cx="915" cy="1507.5" r="4.75"/><circle cx="917.6" cy="1507.5" r="4.75"/><circle cx="920.1" cy="1507.5" r="4.75"/><circle cx="922.6" cy="1507.5" r="4.75"/><circle cx="925.2" cy="1507.5" r="4.75"/><circle cx="927.7" cy="1507.5" r="4.75"/><circle cx="930.2" cy="1507.5" r="4.75"/><circle cx="932.8" cy="1507.5" r="4.75"/><circle cx="935.3" cy="1507.5" r="4.75"/><circle cx="937.9" cy="1507.5" r="4.75"/><circle cx="940.4" cy="1507.5" r="4.75"/><circle cx="942.9" cy="1507.5" r="4.75"/><circle cx="945.5" cy="1507.5" r="4.75"/><circle cx="948" cy="1507.5" r="4.75"/><circle cx="950.5" cy="1507.5" r="4.75"/><circle cx="953.1" cy="1507.5" r="4.75"/><circle cx="955.6" cy="1507.5" r="4.75"/><circle cx="958.2" cy="1507.5" r="4.75"/><circle cx="960.7" cy="1507.5" r="4.75"/><circle cx="963.2" cy="1507.5" r="4.75"/><circle cx="965.8" cy="1507.5" r="4.75"/><circle cx="968.3" cy="1507.5" r="4.75"/><circle cx="970.9" cy="1507.5" r="4.75"/><circle cx="973.4" cy="1507.5" r="4.75"/><circle cx="975.9" cy="1507.5" r="4.75"/><circle cx="978.5" cy="1507.5" r="4.75"/><circle cx="981" cy="1507.5" r="4.75"/><circle cx="983.5" cy="1507.5" r="4.75"/><circle cx="986.1" cy="1507.5" r="4.75"/><circle cx="988.6" cy="1507.5" r="4.75"/><circle cx="991.1" cy="1507.5" r="4.75"/><circle cx="993.7" cy="1507.5" r="4.75"/><circle cx="996.2" cy="1507.5" r="4.75"/><circle cx="998.8" cy="1507.5" r="4.75"/><circle cx="1001.3" cy="1507.5" r="4.75"/><circle cx="1003.8" cy="1507.5" r="4.75"/><circle cx="1006.4" cy="1507.5" r="4.75"/><circle cx="1008.9" cy="1507.5" r="4.75"/><circle cx="1011.5" cy="1507.5" r="4.75"/><circle cx="1014" cy="1507.5" r="4.75"/><circle cx="1016.5" cy="1507.5" r="4.75"/><circle cx="1019.1" cy="1507.5" r="4.75"/><circle cx="1021.6" cy="1507.5" r="4.75"/><circle cx="1024.1" cy="1507.5" r="4.75"/><circle cx="1026.7" cy="1507.5" r="4.75"/><circle cx="1029.2" cy="1507.5" r="4.75"/><circle cx="1031.8" cy="1265.3" r="4.75"/><circle cx="1034.3" cy="1173.2" r="4.75"/><circle cx="1036.8" cy="1086.3" r="4.75"/><circle cx="1039.4" cy="1015.9" r="4.75"/><circle cx="1041.9" cy="969.3" r="4.75"/><circle cx="1044.4" cy="943.4" r="4.75"/><circle cx="1047" cy="931" r="4.75"/><circle cx="1049.5" cy="934.1" r="4.75"/><circle cx="1052" cy="938.2" r="4.75"/><circle cx="1054.6" cy="942.4" r="4.75"/><circle cx="1057.1" cy="946.5" r="4.75"/><circle cx="1059.7" cy="950.7" r="4.75"/><circle cx="1062.2" cy="953.8" r="4.75"/><circle cx="1064.7" cy="956.9" r="4.75"/><circle cx="1067.3" cy="959" r="4.75"/><circle cx="1069.8" cy="962.1" r="4.75"/><circle cx="1072.3" cy="965.2" r="4.75"/><circle cx="1074.9" cy="967.2" r="4.75"/><circle cx="1077.4" cy="969.3" r="4.75"/><circle cx="1080" cy="963.1" r="4.75"/><circle cx="1082.5" cy="953.8" r="4.75" stroke-opacity="0.75"/><circle cx="1085" cy="947.6" r="4.75" stroke-opacity="0.75"/><circle cx="1087.6" cy="945.5" r="4.75" stroke-opacity="0.75"/><circle cx="1090.1" cy="945.5" r="4.75" stroke-opacity="0.75"/><circle cx="1092.7" cy="948.6" r="4.75" stroke-opacity="0.75"/><circle cx="1095.2" cy="951.5" r="4.75" stroke-opacity="0.75"/><circle cx="1097.7" cy="953.9" r="4.75" stroke-opacity="0.75"/><circle cx="1100.3" cy="956.7" r="4.75" stroke-opacity="0.75"/><circle cx="1102.8" cy="957.7" r="4.75" stroke-opacity="0.75"/><circle cx="1105.3" cy="958.9" r="4.75" stroke-opacity="0.75"/><circle cx="1107.9" cy="959.8" r="4.75" stroke-opacity="0.75"/><circle cx="1110.4" cy="959.7" r="4.75" stroke-opacity="0.75"/><circle cx="1113" cy="958.3" r="4.75" stroke-opacity="0.75"/><circle cx="1115.5" cy="956" r="4.75" stroke-opacity="0.75"/><circle cx="1118" cy="954.1" r="4.75" stroke-opacity="0.75"/><circle cx="1120.6" cy="953.8" r="4.75" stroke-opacity="0.75"/><circle cx="1123.1" cy="953.7" r="4.75" stroke-opacity="0.75"/><circle cx="1125.6" cy="952.7" r="4.75" stroke-opacity="0.75"/><circle cx="1128.2" cy="952.8" r="4.75" stroke-opacity="0.75"/><circle cx="1130.7" cy="955.1" r="4.75" stroke-opacity="0.75"/><circle cx="1133.2" cy="957.5" r="4.75" stroke-opacity="0.75"/><circle cx="1135.8" cy="958.1" r="4.75" stroke-opacity="0.75"/><circle cx="1138.3" cy="957.9" r="4.75" stroke-opacity="0.75"/><circle cx="1140.9" cy="957.8" r="4.75" stroke-opacity="0.75"/><circle cx="1143.4" cy="957.3" r="4.75" stroke-opacity="0.75"/><circle cx="1145.9" cy="956.1" r="4.75" stroke-opacity="0.75"/><circle cx="1148.5" cy="955.3" r="4.75" stroke-opacity="0.75"/><circle cx="1151" cy="955.9" r="4.75" stroke-opacity="0.75"/><circle cx="1153.5" cy="957.4" r="4.75" stroke-opacity="0.75"/><circle cx="1156.1" cy="958.7" r="4.75" stroke-opacity="0.75"/><circle cx="1158.6" cy="959.6" r="4.75" stroke-opacity="0.75"/><circle cx="1161.2" cy="960" r="4.75" stroke-opacity="0.75"/><circle cx="1163.7" cy="959.8" r="4.75" stroke-opacity="0.75"/><circle cx="1166.2" cy="959.6" r="4.75" stroke-opacity="0.75"/><circle cx="1168.8" cy="959.8" r="4.75" stroke-opacity="0.75"/><circle cx="1171.3" cy="959.6" r="4.75" stroke-opacity="0.75"/><circle cx="1173.8" cy="958.3" r="4.75" stroke-opacity="0.75"/><circle cx="1176.4" cy="955.5" r="4.75" stroke-opacity="0.75"/><circle cx="1178.9" cy="952.1" r="4.75" stroke-opacity="0.75"/><circle cx="1181.5" cy="950.3" r="4.75" stroke-opacity="0.75"/><circle cx="1184" cy="951.5" r="4.75" stroke-opacity="0.75"/><circle cx="1186.5" cy="954.7" r="4.75" stroke-opacity="0.75"/><circle cx="1189.1" cy="963.8" r="4.75" stroke-opacity="0.75"/><circle cx="1191.6" cy="960.3" r="4.75" stroke-opacity="0.75"/><circle cx="1194.2" cy="952.7" r="4.75" stroke-opacity="0.75"/><circle cx="1196.7" cy="947" r="4.75" stroke-opacity="0.75"/><circle cx="1199.2" cy="942.6" r="4.75" stroke-opacity="0.75"/><circle cx="1201.8" cy="942.2" r="4.75" stroke-opacity="0.75"/><circle cx="1204.3" cy="946.2" r="4.75" stroke-opacity="0.75"/><circle cx="1206.8" cy="957" r="4.75" stroke-opacity="0.75"/><circle cx="1209.4" cy="964.8" r="4.75" stroke-opacity="0.75"/><circle cx="1211.9" cy="962.9" r="4.75" stroke-opacity="0.75"/><circle cx="1214.5" cy="962.7" r="4.75" stroke-opacity="0.75"/><circle cx="1217" cy="959.3" r="4.75" stroke-opacity="0.75"/><circle cx="1219.5" cy="956.2" r="4.75" stroke-opacity="0.75"/><circle cx="1222.1" cy="961.8" r="4.75" stroke-opacity="0.75"/><circle cx="1224.6" cy="966.2" r="4.75" stroke-opacity="0.75"/><circle cx="1227.1" cy="969.2" r="4.75" stroke-opacity="0.75"/><circle cx="1229.7" cy="974.3" r="4.75" stroke-opacity="0.75"/><circle cx="1232.2" cy="971.3" r="4.75" stroke-opacity="0.75"/><circle cx="1234.8" cy="960.2" r="4.75" stroke-opacity="0.75"/><circle cx="1237.3" cy="950.9" r="4.75" stroke-opacity="0.75"/><circle cx="1239.8" cy="949.9" r="4.75" stroke-opacity="0.75"/><circle cx="1242.4" cy="961.4" r="4.75" stroke-opacity="0.75"/><circle cx="1244.9" cy="969.3" r="4.75" stroke-opacity="0.75"/><circle cx="1247.4" cy="966.1" r="4.75" stroke-opacity="0.75"/><circle cx="1250" cy="958.8" r="4.75" stroke-opacity="0.75"/><circle cx="1252.5" cy="952" r="4.75" stroke-opacity="0.75"/><circle cx="1255" cy="947.6" r="4.75" stroke-opacity="0.75"/><circle cx="1257.6" cy="947.8" r="4.75" stroke-opacity="0.75"/><circle cx="1260.1" cy="948.8" r="4.75" stroke-opacity="0.75"/><circle cx="1262.7" cy="947.8" r="4.75" stroke-opacity="0.75"/><circle cx="1265.2" cy="944.9" r="4.75" stroke-opacity="0.75"/><circle cx="1267.7" cy="945.4" r="4.75" stroke-opacity="0.75"/><circle cx="1270.3" cy="954.3" r="4.75" stroke-opacity="0.75"/><circle cx="1272.8" cy="957.3" r="4.75" stroke-opacity="0.75"/><circle cx="1275.3" cy="954.3" r="4.75" stroke-opacity="0.75"/><circle cx="1277.9" cy="958.1" r="4.75" stroke-opacity="0.75"/><circle cx="1280.4" cy="960" r="4.75" stroke-opacity="0.75"/><circle cx="1283" cy="952.7" r="4.75" stroke-opacity="0.75"/><circle cx="1285.5" cy="950" r="4.75" stroke-opacity="0.75"/><circle cx="1288" cy="957.6" r="4.75" stroke-opacity="0.75"/><circle cx="1290.6" cy="963.6" r="4.75" stroke-opacity="0.75"/><circle cx="1293.1" cy="966.6" r="4.75" stroke-opacity="0.75"/><circle cx="1295.7" cy="964.8" r="4.75" stroke-opacity="0.75"/><circle cx="1298.2" cy="956.8" r="4.75" stroke-opacity="0.75"/><circle cx="1300.7" cy="953" r="4.75" stroke-opacity="0.75"/><circle cx="1303.3" cy="958.3" r="4.75" stroke-opacity="0.75"/><circle cx="1305.8" cy="964.2" r="4.75" stroke-opacity="0.75"/><circle cx="1308.3" cy="968.9" r="4.75" stroke-opacity="0.75"/><circle cx="1310.9" cy="968.1" r="4.75" stroke-opacity="0.75"/><circle cx="1313.4" cy="961.5" r="4.75" stroke-opacity="0.75"/><circle cx="1316" cy="959.1" r="4.75" stroke-opacity="0.75"/><circle cx="1318.5" cy="961.6" r="4.75" stroke-opacity="0.75"/><circle cx="1321" cy="965.4" r="4.75" stroke-opacity="0.75"/><circle cx="1323.6" cy="965" r="4.75" stroke-opacity="0.75"/><circle cx="1326.1" cy="966.3" r="4.75" stroke-opacity="0.75"/><circle cx="1328.6" cy="990" r="4.75"/><circle cx="1331.2" cy="1037.6" r="4.75"/><circle cx="1333.7" cy="1101.8" r="4.75"/><circle cx="1336.2" cy="1181.5" r="4.75"/><circle cx="1338.8" cy="1272.6" r="4.75"/><circle cx="1341.3" cy="1364.7" r="4.75"/><circle cx="1343.9" cy="1440.2" r="4.75"/><circle cx="1346.4" cy="1484.7" r="4.75"/><circle cx="1348.9" cy="1502.3" r="4.75"/><circle cx="1351.5" cy="1507.5" r="4.75"/><circle cx="1354" cy="1507.5" r="4.75"/><circle cx="1356.5" cy="1507.5" r="4.75"/><circle cx="1359.1" cy="1507.5" r="4.75"/><circle cx="1361.6" cy="1507.5" r="4.75"/><circle cx="1364.2" cy="1507.5" r="4.75"/><circle cx="1366.7" cy="1507.5" r="4.75"/><circle cx="1369.2" cy="1507.5" r="4.75"/><circle cx="1371.8" cy="1507.5" r="4.75"/><circle cx="1374.3" cy="1507.5" r="4.75"/><circle cx="1376.8" cy="1507.5" r="4.75"/><circle cx="1379.4" cy="1507.5" r="4.75"/><circle cx="1381.9" cy="1507.5" r="4.75"/><circle cx="1384.5" cy="1507.5" r="4.75"/><circle cx="1387" cy="1507.5" r="4.75"/><circle cx="1389.5" cy="1507.5" r="4.75"/><circle cx="1392.1" cy="1507.5" r="4.75"/><circle cx="1394.6" cy="1507.5" r="4.75"/><circle cx="1397.2" cy="1507.5" r="4.75"/><circle cx="1399.7" cy="1507.5" r="4.75"/><circle cx="1402.2" cy="1507.5" r="4.75"/><circle cx="1404.8" cy="1507.5" r="4.75"/><circle cx="1407.3" cy="1507.5" r="4.75"/><circle cx="1409.8" cy="1507.5" r="4.75"/><circle cx="1412.4" cy="1507.5" r="4.75"/><circle cx="1414.9" cy="1507.5" r="4.75"/><circle cx="1417.4" cy="1507.5" r="4.75"/><circle cx="1420" cy="1507.5" r="4.75"/><circle cx="1422.5" cy="1507.5" r="4.75"/><circle cx="1425.1" cy="1507.5" r="4.75"/><circle cx="1427.6" cy="1507.5" r="4.75"/><circle cx="1430.1" cy="1507.5" r="4.75"/><circle cx="1432.7" cy="1507.5" r="4.75"/><circle cx="1435.2" cy="1507.5" r="4.75"/><circle cx="1437.8" cy="1507.5" r="4.75"/><circle cx="1440.3" cy="1507.5" r="4.75"/><circle cx="1442.8" cy="1507.5" r="4.75"/><circle cx="1445.4" cy="1507.5" r="4.75"/><circle cx="1447.9" cy="1507.5" r="4.75"/><circle cx="1450.4" cy="1507.5" r="4.75"/><circle cx="1453" cy="1507.5" r="4.75"/><circle cx="1455.5" cy="1507.5" r="4.75"/><circle cx="1458" cy="1507.5" r="4.75"/><circle cx="1460.6" cy="1507.5" r="4.75"/><circle cx="1463.1" cy="1507.5" r="4.75"/><circle cx="1465.7" cy="1507.5" r="4.75"/><circle cx="1468.2" cy="1507.5" r="4.75"/><circle cx="1470.7" cy="1507.5" r="4.75"/><circle cx="1473.3" cy="1507.5" r="4.75"/><circle cx="1475.8" cy="1507.5" r="4.75"/><circle cx="1478.3" cy="1507.5" r="4.75"/><circle cx="1480.9" cy="1507.5" r="4.75"/><circle cx="1483.4" cy="1507.5" r="4.75"/><circle cx="1486" cy="1507.5" r="4.75"/><circle cx="1488.5" cy="1507.5" r="4.75"/>
</g>
<g font-family="'Liberation Serif','Times New Roman',serif" font-size="29.5" fill="#000">
<text transform="translate(879.5,1544.8) scale(1,1.06)" text-anchor="middle">0</text>
<text transform="translate(955.6,1544.8) scale(1,1.06)" text-anchor="middle">0.5</text>
<text transform="translate(1031.8,1544.8) scale(1,1.06)" text-anchor="middle">1</text>
<text transform="translate(1107.9,1544.8) scale(1,1.06)" text-anchor="middle">1.5</text>
<text transform="translate(1184,1544.8) scale(1,1.06)" text-anchor="middle">2</text>
<text transform="translate(1260.1,1544.8) scale(1,1.06)" text-anchor="middle">2.5</text>
<text transform="translate(1336.2,1544.8) scale(1,1.06)" text-anchor="middle">3</text>
<text transform="translate(1412.4,1544.8) scale(1,1.06)" text-anchor="middle">3.5</text>
<text transform="translate(1488.5,1544.8) scale(1,1.06)" text-anchor="middle">4</text>
<text transform="translate(869.1,1518.3) scale(1,1.06)" text-anchor="end">0</text>
<text transform="translate(869.1,1414.8) scale(1,1.06)" text-anchor="end">10</text>
<text transform="translate(869.1,1311.3) scale(1,1.06)" text-anchor="end">20</text>
<text transform="translate(869.1,1207.8) scale(1,1.06)" text-anchor="end">30</text>
<text transform="translate(869.1,1104.3) scale(1,1.06)" text-anchor="end">40</text>
<text transform="translate(869.1,1000.8) scale(1,1.06)" text-anchor="end">50</text>
<text transform="translate(869.1,897.3) scale(1,1.06)" text-anchor="end">60</text>
</g>
<text x="1184" y="1583" text-anchor="middle" font-family="'Liberation Serif','Times New Roman',serif" font-size="32.4">Time (min)</text>
<text transform="translate(824.5,1196) rotate(-90)" text-anchor="middle" font-family="'Liberation Serif','Times New Roman',serif" font-size="32">Activity concentration (kBq/mL)</text>
<text transform="translate(1182.7,878.6) scale(1,1.06)" text-anchor="middle" font-family="'Liberation Serif','Times New Roman',serif" font-size="29.1" font-weight="bold">ABSS#2, 300 to 180 mL/h</text>
<text x="848.6" y="858.9" font-family="'Liberation Serif','Times New Roman',serif" font-size="44" font-weight="bold">(D)</text>
<path d="M1073.4,1371.2h73.5" stroke="#0072BD" stroke-width="3"/>
<circle cx="1110.1" cy="1403.7" r="4.9" fill="none" stroke="#D95319" stroke-width="2"/>
<circle cx="1110.1" cy="1436.2" r="4.9" fill="none" stroke="#77AC30" stroke-width="2"/>
<circle cx="1110.1" cy="1468.7" r="4.9" fill="none" stroke="#7E2F8E" stroke-width="2"/>
<g font-family="'Liberation Serif','Times New Roman',serif" font-size="26">
<text x="1153.6" y="1381.6">Input</text>
<text x="1153.6" y="1414.1">Output</text>
<text x="1153.6" y="1446.6">Fixed <tspan font-style="italic">δ</tspan> and <tspan font-style="italic">τ</tspan></text>
<text x="1153.6" y="1479.1">Corrected</text>
</g>
</svg>
</body></html>
